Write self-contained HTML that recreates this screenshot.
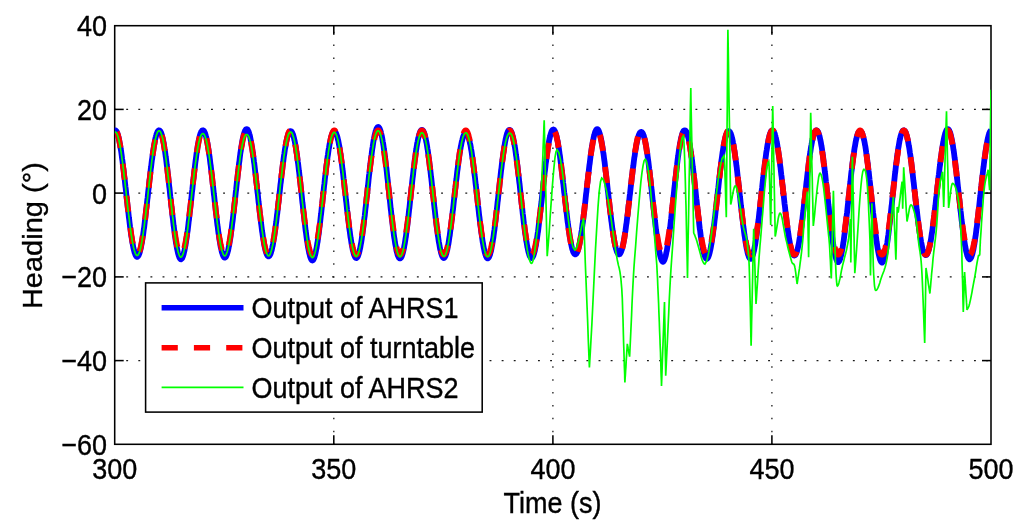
<!DOCTYPE html>
<html lang="en"><head><meta charset="utf-8"><title>Heading vs Time</title>
<style>
html,body{margin:0;padding:0;background:#fff;}
body{width:1024px;height:529px;overflow:hidden;}
svg{display:block;}
text{font-family:"Liberation Sans",sans-serif;font-size:27px;fill:#000;stroke:#000;stroke-width:0.35px;}
</style></head><body>
<svg width="1024" height="529" viewBox="0 0 1024 529">
<rect x="0" y="0" width="1024" height="529" fill="#fff"/>
<defs><clipPath id="ax"><rect x="114.7" y="25.7" width="876.3" height="418.6"/></clipPath></defs>
<g stroke="#1a1a1a" stroke-width="1.3" fill="none"><line x1="333.8" y1="444.3" x2="333.8" y2="25.7" stroke-dasharray="1.5 11.37" stroke-dashoffset="0.75"/><line x1="552.9" y1="444.3" x2="552.9" y2="25.7" stroke-dasharray="1.5 11.37" stroke-dashoffset="0.75"/><line x1="771.9" y1="444.3" x2="771.9" y2="25.7" stroke-dasharray="1.5 11.37" stroke-dashoffset="0.75"/><line x1="114.7" y1="109.4" x2="991.0" y2="109.4" stroke-dasharray="1.9 10.211" stroke-dashoffset="0.6"/><line x1="114.7" y1="193.1" x2="991.0" y2="193.1" stroke-dasharray="1.9 10.211" stroke-dashoffset="0.6"/><line x1="114.7" y1="276.9" x2="991.0" y2="276.9" stroke-dasharray="1.9 10.211" stroke-dashoffset="0.6"/><line x1="114.7" y1="360.6" x2="991.0" y2="360.6" stroke-dasharray="1.9 10.211" stroke-dashoffset="0.6"/></g>
<rect x="114.7" y="25.7" width="876.3" height="418.6" fill="none" stroke="#000" stroke-width="1.55"/>
<g stroke="#000" stroke-width="1.55"><line x1="333.8" y1="444.3" x2="333.8" y2="435.3"/><line x1="333.8" y1="25.7" x2="333.8" y2="34.7"/><line x1="552.9" y1="444.3" x2="552.9" y2="435.3"/><line x1="552.9" y1="25.7" x2="552.9" y2="34.7"/><line x1="771.9" y1="444.3" x2="771.9" y2="435.3"/><line x1="771.9" y1="25.7" x2="771.9" y2="34.7"/><line x1="114.7" y1="109.4" x2="123.7" y2="109.4"/><line x1="991.0" y1="109.4" x2="982.0" y2="109.4"/><line x1="114.7" y1="193.1" x2="123.7" y2="193.1"/><line x1="991.0" y1="193.1" x2="982.0" y2="193.1"/><line x1="114.7" y1="276.9" x2="123.7" y2="276.9"/><line x1="991.0" y1="276.9" x2="982.0" y2="276.9"/><line x1="114.7" y1="360.6" x2="123.7" y2="360.6"/><line x1="991.0" y1="360.6" x2="982.0" y2="360.6"/></g>
<g clip-path="url(#ax)" fill="none" stroke-linejoin="round">
<path d="M114.7 130.5L114.9 130.4L115.1 130.4L115.4 130.4L115.6 130.4L115.8 130.5L116.0 130.7L116.2 131.0L116.5 131.3L116.7 131.6L116.9 132.1L117.1 132.6L117.3 133.1L117.5 133.7L117.8 134.4L118.0 135.1L118.2 135.9L118.4 136.7L118.6 137.6L118.9 138.6L119.1 139.6L119.3 140.6L119.5 141.7L119.7 142.9L120.0 144.1L120.2 145.4L120.4 146.7L120.6 148.0L120.8 149.4L121.1 150.9L121.3 152.4L121.5 153.9L121.7 155.4L121.9 157.1L122.1 158.7L122.4 160.4L122.6 162.1L122.8 163.8L123.0 165.6L123.2 167.4L123.5 169.2L123.7 171.0L123.9 172.9L124.1 174.8L124.3 176.7L124.6 178.6L124.8 180.5L125.0 182.5L125.2 184.4L125.4 186.4L125.7 188.4L125.9 190.4L126.1 192.3L126.3 194.3L126.5 196.3L126.7 198.3L127.0 200.3L127.2 202.2L127.4 204.2L127.6 206.2L127.8 208.1L128.1 210.0L128.3 211.9L128.5 213.8L128.7 215.7L128.9 217.6L129.2 219.4L129.4 221.2L129.6 223.0L129.8 224.7L130.0 226.4L130.3 228.1L130.5 229.7L130.7 231.4L130.9 232.9L131.1 234.5L131.3 236.0L131.6 237.4L131.8 238.8L132.0 240.2L132.2 241.5L132.4 242.8L132.7 244.0L132.9 245.2L133.1 246.3L133.3 247.4L133.5 248.4L133.8 249.4L134.0 250.3L134.2 251.1L134.4 251.9L134.6 252.6L134.9 253.3L135.1 253.9L135.3 254.5L135.5 255.0L135.7 255.4L136.0 255.8L136.2 256.1L136.4 256.4L136.6 256.6L136.8 256.7L137.0 256.8L137.3 256.8L137.5 256.7L137.7 256.5L137.9 256.3L138.1 256.1L138.4 255.7L138.6 255.4L138.8 254.9L139.0 254.4L139.2 253.8L139.5 253.2L139.7 252.5L139.9 251.7L140.1 250.9L140.3 250.1L140.6 249.2L140.8 248.2L141.0 247.2L141.2 246.1L141.4 244.9L141.6 243.8L141.9 242.5L142.1 241.2L142.3 239.9L142.5 238.5L142.7 237.1L143.0 235.7L143.2 234.2L143.4 232.6L143.6 231.0L143.8 229.4L144.1 227.8L144.3 226.1L144.5 224.4L144.7 222.6L144.9 220.8L145.2 219.0L145.4 217.2L145.6 215.3L145.8 213.5L146.0 211.6L146.2 209.6L146.5 207.7L146.7 205.8L146.9 203.8L147.1 201.9L147.3 199.9L147.6 197.9L147.8 195.9L148.0 193.9L148.2 191.9L148.4 190.0L148.7 188.0L148.9 186.0L149.1 184.0L149.3 182.1L149.5 180.1L149.8 178.2L150.0 176.3L150.2 174.4L150.4 172.5L150.6 170.6L150.8 168.8L151.1 167.0L151.3 165.2L151.5 163.4L151.7 161.7L151.9 160.0L152.2 158.4L152.4 156.7L152.6 155.1L152.8 153.6L153.0 152.1L153.3 150.6L153.5 149.2L153.7 147.8L153.9 146.4L154.1 145.1L154.4 143.9L154.6 142.7L154.8 141.5L155.0 140.4L155.2 139.4L155.4 138.4L155.7 137.4L155.9 136.6L156.1 135.7L156.3 135.0L156.5 134.2L156.8 133.6L157.0 133.0L157.2 132.5L157.4 132.0L157.6 131.6L157.9 131.2L158.1 130.9L158.3 130.7L158.5 130.5L158.7 130.4L159.0 130.4L159.2 130.3L159.4 130.4L159.6 130.5L159.8 130.6L160.0 130.9L160.3 131.1L160.5 131.5L160.7 131.9L160.9 132.4L161.1 132.9L161.4 133.5L161.6 134.1L161.8 134.8L162.0 135.6L162.2 136.4L162.5 137.3L162.7 138.2L162.9 139.2L163.1 140.2L163.3 141.3L163.6 142.5L163.8 143.7L164.0 144.9L164.2 146.2L164.4 147.6L164.6 149.0L164.9 150.4L165.1 151.9L165.3 153.4L165.5 155.0L165.7 156.6L166.0 158.3L166.2 159.9L166.4 161.6L166.6 163.4L166.8 165.2L167.1 167.0L167.3 168.8L167.5 170.7L167.7 172.6L167.9 174.5L168.2 176.4L168.4 178.3L168.6 180.3L168.8 182.3L169.0 184.3L169.2 186.3L169.5 188.3L169.7 190.3L169.9 192.3L170.1 194.4L170.3 196.4L170.6 198.4L170.8 200.4L171.0 202.4L171.2 204.5L171.4 206.5L171.7 208.4L171.9 210.4L172.1 212.4L172.3 214.3L172.5 216.3L172.8 218.2L173.0 220.0L173.2 221.9L173.4 223.7L173.6 225.5L173.9 227.3L174.1 229.0L174.3 230.8L174.5 232.4L174.7 234.1L174.9 235.7L175.2 237.2L175.4 238.7L175.6 240.2L175.8 241.6L176.0 243.0L176.3 244.3L176.5 245.6L176.7 246.8L176.9 248.0L177.1 249.1L177.4 250.2L177.6 251.2L177.8 252.2L178.0 253.1L178.2 253.9L178.5 254.7L178.7 255.5L178.9 256.1L179.1 256.7L179.3 257.3L179.5 257.7L179.8 258.2L180.0 258.5L180.2 258.8L180.4 259.0L180.6 259.2L180.9 259.3L181.1 259.2L181.3 259.1L181.5 259.0L181.7 258.7L182.0 258.4L182.2 258.1L182.4 257.6L182.6 257.2L182.8 256.6L183.1 256.0L183.3 255.3L183.5 254.6L183.7 253.8L183.9 252.9L184.1 252.0L184.4 251.0L184.6 250.0L184.8 248.9L185.0 247.8L185.2 246.6L185.5 245.4L185.7 244.1L185.9 242.7L186.1 241.3L186.3 239.9L186.6 238.4L186.8 236.9L187.0 235.3L187.2 233.7L187.4 232.1L187.7 230.4L187.9 228.7L188.1 227.0L188.3 225.2L188.5 223.4L188.7 221.5L189.0 219.7L189.2 217.8L189.4 215.9L189.6 213.9L189.8 212.0L190.1 210.0L190.3 208.0L190.5 206.1L190.7 204.1L190.9 202.0L191.2 200.0L191.4 198.0L191.6 196.0L191.8 194.0L192.0 191.9L192.3 189.9L192.5 187.9L192.7 185.9L192.9 183.9L193.1 181.9L193.3 179.9L193.6 178.0L193.8 176.0L194.0 174.1L194.2 172.2L194.4 170.3L194.7 168.4L194.9 166.6L195.1 164.8L195.3 163.0L195.5 161.3L195.8 159.6L196.0 157.9L196.2 156.3L196.4 154.7L196.6 153.1L196.9 151.6L197.1 150.1L197.3 148.7L197.5 147.3L197.7 146.0L197.9 144.7L198.2 143.5L198.4 142.3L198.6 141.1L198.8 140.0L199.0 139.0L199.3 138.0L199.5 137.1L199.7 136.2L199.9 135.4L200.1 134.7L200.4 134.0L200.6 133.3L200.8 132.8L201.0 132.3L201.2 131.8L201.5 131.4L201.7 131.1L201.9 130.8L202.1 130.6L202.3 130.4L202.5 130.4L202.8 130.3L203.0 130.4L203.2 130.4L203.4 130.5L203.6 130.7L203.9 130.9L204.1 131.2L204.3 131.6L204.5 132.0L204.7 132.5L205.0 133.0L205.2 133.6L205.4 134.3L205.6 135.0L205.8 135.8L206.1 136.6L206.3 137.5L206.5 138.5L206.7 139.5L206.9 140.5L207.1 141.6L207.4 142.8L207.6 144.0L207.8 145.2L208.0 146.5L208.2 147.9L208.5 149.3L208.7 150.7L208.9 152.2L209.1 153.7L209.3 155.3L209.6 156.9L209.8 158.5L210.0 160.2L210.2 161.9L210.4 163.7L210.7 165.4L210.9 167.2L211.1 169.1L211.3 170.9L211.5 172.8L211.8 174.7L212.0 176.6L212.2 178.5L212.4 180.5L212.6 182.4L212.8 184.4L213.1 186.4L213.3 188.4L213.5 190.3L213.7 192.3L213.9 194.3L214.2 196.3L214.4 198.3L214.6 200.3L214.8 202.3L215.0 204.3L215.3 206.3L215.5 208.2L215.7 210.2L215.9 212.1L216.1 214.0L216.4 215.9L216.6 217.8L216.8 219.6L217.0 221.4L217.2 223.2L217.4 225.0L217.7 226.7L217.9 228.4L218.1 230.1L218.3 231.7L218.5 233.3L218.8 234.9L219.0 236.4L219.2 237.8L219.4 239.3L219.6 240.7L219.9 242.0L220.1 243.3L220.3 244.5L220.5 245.7L220.7 246.9L221.0 248.0L221.2 249.0L221.4 250.0L221.6 250.9L221.8 251.8L222.0 252.6L222.3 253.3L222.5 254.0L222.7 254.7L222.9 255.2L223.1 255.7L223.4 256.2L223.6 256.6L223.8 256.9L224.0 257.2L224.2 257.4L224.5 257.5L224.7 257.6L224.9 257.6L225.1 257.5L225.3 257.4L225.6 257.2L225.8 256.9L226.0 256.6L226.2 256.2L226.4 255.7L226.6 255.2L226.9 254.7L227.1 254.0L227.3 253.3L227.5 252.6L227.7 251.8L228.0 250.9L228.2 250.0L228.4 249.0L228.6 247.9L228.8 246.8L229.1 245.7L229.3 244.5L229.5 243.3L229.7 242.0L229.9 240.6L230.2 239.2L230.4 237.8L230.6 236.3L230.8 234.8L231.0 233.2L231.2 231.6L231.5 230.0L231.7 228.3L231.9 226.6L232.1 224.8L232.3 223.1L232.6 221.3L232.8 219.4L233.0 217.6L233.2 215.7L233.4 213.8L233.7 211.9L233.9 209.9L234.1 208.0L234.3 206.0L234.5 204.0L234.8 202.0L235.0 200.0L235.2 198.0L235.4 196.0L235.6 193.9L235.8 191.9L236.1 189.9L236.3 187.9L236.5 185.9L236.7 183.9L236.9 181.9L237.2 179.9L237.4 178.0L237.6 176.0L237.8 174.1L238.0 172.2L238.3 170.3L238.5 168.4L238.7 166.5L238.9 164.7L239.1 162.9L239.4 161.2L239.6 159.4L239.8 157.7L240.0 156.1L240.2 154.5L240.4 152.9L240.7 151.3L240.9 149.8L241.1 148.4L241.3 146.9L241.5 145.6L241.8 144.2L242.0 143.0L242.2 141.7L242.4 140.6L242.6 139.4L242.9 138.4L243.1 137.3L243.3 136.4L243.5 135.5L243.7 134.6L244.0 133.8L244.2 133.1L244.4 132.4L244.6 131.8L244.8 131.3L245.0 130.8L245.3 130.4L245.5 130.0L245.7 129.7L245.9 129.4L246.1 129.3L246.4 129.2L246.6 129.1L246.8 129.1L247.0 129.2L247.2 129.3L247.5 129.5L247.7 129.8L247.9 130.1L248.1 130.5L248.3 131.0L248.6 131.5L248.8 132.1L249.0 132.7L249.2 133.4L249.4 134.1L249.7 135.0L249.9 135.8L250.1 136.7L250.3 137.7L250.5 138.8L250.7 139.9L251.0 141.0L251.2 142.2L251.4 143.4L251.6 144.7L251.8 146.1L252.1 147.4L252.3 148.9L252.5 150.3L252.7 151.8L252.9 153.4L253.2 155.0L253.4 156.6L253.6 158.3L253.8 160.0L254.0 161.7L254.3 163.5L254.5 165.3L254.7 167.1L254.9 168.9L255.1 170.8L255.3 172.7L255.6 174.6L255.8 176.5L256.0 178.5L256.2 180.4L256.4 182.4L256.7 184.4L256.9 186.4L257.1 188.3L257.3 190.3L257.5 192.3L257.8 194.3L258.0 196.3L258.2 198.3L258.4 200.3L258.6 202.3L258.9 204.3L259.1 206.2L259.3 208.2L259.5 210.1L259.7 212.0L259.9 213.9L260.2 215.8L260.4 217.6L260.6 219.5L260.8 221.3L261.0 223.0L261.3 224.8L261.5 226.5L261.7 228.2L261.9 229.8L262.1 231.4L262.4 233.0L262.6 234.5L262.8 236.0L263.0 237.4L263.2 238.8L263.5 240.2L263.7 241.5L263.9 242.7L264.1 243.9L264.3 245.1L264.5 246.2L264.8 247.3L265.0 248.3L265.2 249.2L265.4 250.1L265.6 250.9L265.9 251.7L266.1 252.4L266.3 253.1L266.5 253.7L266.7 254.2L267.0 254.7L267.2 255.1L267.4 255.5L267.6 255.8L267.8 256.0L268.1 256.2L268.3 256.3L268.5 256.3L268.7 256.3L268.9 256.2L269.1 256.1L269.4 255.9L269.6 255.6L269.8 255.3L270.0 254.9L270.2 254.5L270.5 254.0L270.7 253.4L270.9 252.8L271.1 252.1L271.3 251.3L271.6 250.5L271.8 249.7L272.0 248.7L272.2 247.8L272.4 246.7L272.7 245.7L272.9 244.5L273.1 243.4L273.3 242.1L273.5 240.9L273.7 239.5L274.0 238.2L274.2 236.8L274.4 235.3L274.6 233.8L274.8 232.3L275.1 230.7L275.3 229.1L275.5 227.5L275.7 225.8L275.9 224.1L276.2 222.3L276.4 220.6L276.6 218.8L276.8 217.0L277.0 215.1L277.3 213.3L277.5 211.4L277.7 209.5L277.9 207.6L278.1 205.7L278.3 203.7L278.6 201.8L278.8 199.8L279.0 197.9L279.2 195.9L279.4 193.9L279.7 192.0L279.9 190.0L280.1 188.0L280.3 186.1L280.5 184.1L280.8 182.2L281.0 180.3L281.2 178.4L281.4 176.5L281.6 174.6L281.9 172.7L282.1 170.9L282.3 169.1L282.5 167.3L282.7 165.5L282.9 163.8L283.2 162.1L283.4 160.4L283.6 158.7L283.8 157.1L284.0 155.6L284.3 154.0L284.5 152.5L284.7 151.1L284.9 149.7L285.1 148.3L285.4 147.0L285.6 145.7L285.8 144.5L286.0 143.3L286.2 142.1L286.5 141.1L286.7 140.0L286.9 139.1L287.1 138.1L287.3 137.3L287.6 136.4L287.8 135.7L288.0 135.0L288.2 134.3L288.4 133.8L288.6 133.2L288.9 132.8L289.1 132.4L289.3 132.0L289.5 131.7L289.7 131.5L290.0 131.3L290.2 131.2L290.4 131.2L290.6 131.2L290.8 131.2L291.1 131.3L291.3 131.4L291.5 131.6L291.7 131.8L291.9 132.2L292.2 132.5L292.4 133.0L292.6 133.5L292.8 134.0L293.0 134.7L293.2 135.3L293.5 136.1L293.7 136.9L293.9 137.7L294.1 138.6L294.3 139.6L294.6 140.6L294.8 141.7L295.0 142.8L295.2 144.0L295.4 145.2L295.7 146.5L295.9 147.8L296.1 149.2L296.3 150.6L296.5 152.1L296.8 153.6L297.0 155.1L297.2 156.7L297.4 158.3L297.6 160.0L297.8 161.7L298.1 163.4L298.3 165.2L298.5 167.0L298.7 168.8L298.9 170.7L299.2 172.6L299.4 174.5L299.6 176.4L299.8 178.3L300.0 180.3L300.3 182.3L300.5 184.3L300.7 186.3L300.9 188.3L301.1 190.3L301.4 192.3L301.6 194.4L301.8 196.4L302.0 198.4L302.2 200.5L302.4 202.5L302.7 204.5L302.9 206.5L303.1 208.5L303.3 210.5L303.5 212.5L303.8 214.5L304.0 216.4L304.2 218.3L304.4 220.2L304.6 222.1L304.9 224.0L305.1 225.8L305.3 227.6L305.5 229.4L305.7 231.1L306.0 232.8L306.2 234.5L306.4 236.1L306.6 237.7L306.8 239.2L307.0 240.7L307.3 242.2L307.5 243.6L307.7 245.0L307.9 246.3L308.1 247.5L308.4 248.7L308.6 249.9L308.8 251.0L309.0 252.1L309.2 253.1L309.5 254.0L309.7 254.9L309.9 255.7L310.1 256.4L310.3 257.1L310.6 257.8L310.8 258.3L311.0 258.8L311.2 259.3L311.4 259.7L311.6 260.0L311.9 260.2L312.1 260.4L312.3 260.5L312.5 260.5L312.7 260.4L313.0 260.2L313.2 259.9L313.4 259.6L313.6 259.2L313.8 258.7L314.1 258.2L314.3 257.6L314.5 257.0L314.7 256.2L314.9 255.5L315.2 254.6L315.4 253.8L315.6 252.8L315.8 251.8L316.0 250.7L316.2 249.6L316.5 248.4L316.7 247.2L316.9 245.9L317.1 244.6L317.3 243.2L317.6 241.8L317.8 240.4L318.0 238.8L318.2 237.3L318.4 235.7L318.7 234.1L318.9 232.4L319.1 230.7L319.3 229.0L319.5 227.2L319.8 225.4L320.0 223.5L320.2 221.7L320.4 219.8L320.6 217.9L320.8 216.0L321.1 214.0L321.3 212.1L321.5 210.1L321.7 208.1L321.9 206.1L322.2 204.1L322.4 202.1L322.6 200.0L322.8 198.0L323.0 196.0L323.3 194.0L323.5 191.9L323.7 189.9L323.9 187.9L324.1 185.9L324.4 183.9L324.6 181.9L324.8 179.9L325.0 178.0L325.2 176.1L325.5 174.2L325.7 172.3L325.9 170.4L326.1 168.6L326.3 166.8L326.5 165.0L326.8 163.2L327.0 161.5L327.2 159.8L327.4 158.2L327.6 156.6L327.9 155.0L328.1 153.5L328.3 152.0L328.5 150.5L328.7 149.1L329.0 147.8L329.2 146.5L329.4 145.2L329.6 144.0L329.8 142.9L330.1 141.8L330.3 140.7L330.5 139.7L330.7 138.8L330.9 137.9L331.1 137.0L331.4 136.3L331.6 135.5L331.8 134.9L332.0 134.3L332.2 133.7L332.5 133.3L332.7 132.8L332.9 132.5L333.1 132.2L333.3 131.9L333.6 131.8L333.8 131.6L334.0 131.6L334.2 131.6L334.4 131.6L334.7 131.6L334.9 131.7L335.1 131.9L335.3 132.1L335.5 132.4L335.7 132.7L336.0 133.1L336.2 133.6L336.4 134.1L336.6 134.7L336.8 135.3L337.1 136.0L337.3 136.7L337.5 137.5L337.7 138.4L337.9 139.3L338.2 140.3L338.4 141.3L338.6 142.4L338.8 143.5L339.0 144.7L339.3 145.9L339.5 147.2L339.7 148.5L339.9 149.9L340.1 151.3L340.3 152.7L340.6 154.2L340.8 155.8L341.0 157.3L341.2 158.9L341.4 160.6L341.7 162.3L341.9 164.0L342.1 165.7L342.3 167.5L342.5 169.3L342.8 171.1L343.0 173.0L343.2 174.8L343.4 176.7L343.6 178.6L343.9 180.6L344.1 182.5L344.3 184.5L344.5 186.4L344.7 188.4L344.9 190.4L345.2 192.3L345.4 194.3L345.6 196.3L345.8 198.3L346.0 200.3L346.3 202.3L346.5 204.2L346.7 206.2L346.9 208.1L347.1 210.1L347.4 212.0L347.6 213.9L347.8 215.8L348.0 217.7L348.2 219.5L348.5 221.3L348.7 223.1L348.9 224.9L349.1 226.6L349.3 228.4L349.5 230.0L349.8 231.7L350.0 233.3L350.2 234.8L350.4 236.4L350.6 237.8L350.9 239.3L351.1 240.7L351.3 242.0L351.5 243.3L351.7 244.6L352.0 245.8L352.2 247.0L352.4 248.1L352.6 249.1L352.8 250.1L353.1 251.1L353.3 251.9L353.5 252.8L353.7 253.5L353.9 254.3L354.1 254.9L354.4 255.5L354.6 256.0L354.8 256.5L355.0 256.9L355.2 257.3L355.5 257.5L355.7 257.8L355.9 257.9L356.1 258.0L356.3 258.0L356.6 258.0L356.8 257.8L357.0 257.7L357.2 257.4L357.4 257.1L357.7 256.7L357.9 256.3L358.1 255.8L358.3 255.2L358.5 254.6L358.7 253.9L359.0 253.2L359.2 252.3L359.4 251.5L359.6 250.6L359.8 249.6L360.1 248.5L360.3 247.5L360.5 246.3L360.7 245.1L360.9 243.9L361.2 242.6L361.4 241.2L361.6 239.8L361.8 238.4L362.0 236.9L362.3 235.3L362.5 233.8L362.7 232.2L362.9 230.5L363.1 228.8L363.4 227.1L363.6 225.3L363.8 223.5L364.0 221.7L364.2 219.8L364.4 218.0L364.7 216.1L364.9 214.1L365.1 212.2L365.3 210.2L365.5 208.2L365.8 206.2L366.0 204.2L366.2 202.2L366.4 200.1L366.6 198.1L366.9 196.0L367.1 194.0L367.3 191.9L367.5 189.8L367.7 187.8L368.0 185.7L368.2 183.7L368.4 181.7L368.6 179.6L368.8 177.6L369.0 175.6L369.3 173.6L369.5 171.7L369.7 169.7L369.9 167.8L370.1 165.9L370.4 164.1L370.6 162.2L370.8 160.4L371.0 158.6L371.2 156.9L371.5 155.2L371.7 153.5L371.9 151.8L372.1 150.3L372.3 148.7L372.6 147.2L372.8 145.7L373.0 144.3L373.2 142.9L373.4 141.6L373.6 140.3L373.9 139.1L374.1 137.9L374.3 136.8L374.5 135.8L374.7 134.8L375.0 133.8L375.2 132.9L375.4 132.1L375.6 131.3L375.8 130.6L376.1 130.0L376.3 129.4L376.5 128.9L376.7 128.4L376.9 128.0L377.2 127.7L377.4 127.4L377.6 127.2L377.8 127.1L378.0 127.0L378.2 127.0L378.5 127.1L378.7 127.2L378.9 127.5L379.1 127.7L379.3 128.1L379.6 128.5L379.8 128.9L380.0 129.5L380.2 130.1L380.4 130.7L380.7 131.4L380.9 132.2L381.1 133.1L381.3 133.9L381.5 134.9L381.8 135.9L382.0 137.0L382.2 138.1L382.4 139.3L382.6 140.5L382.8 141.8L383.1 143.1L383.3 144.5L383.5 145.9L383.7 147.4L383.9 148.9L384.2 150.5L384.4 152.1L384.6 153.7L384.8 155.4L385.0 157.1L385.3 158.9L385.5 160.7L385.7 162.5L385.9 164.4L386.1 166.2L386.4 168.1L386.6 170.1L386.8 172.0L387.0 174.0L387.2 176.0L387.4 178.0L387.7 180.0L387.9 182.0L388.1 184.1L388.3 186.1L388.5 188.2L388.8 190.2L389.0 192.3L389.2 194.4L389.4 196.4L389.6 198.5L389.9 200.6L390.1 202.6L390.3 204.6L390.5 206.7L390.7 208.7L391.0 210.7L391.2 212.6L391.4 214.6L391.6 216.5L391.8 218.4L392.0 220.3L392.3 222.2L392.5 224.0L392.7 225.8L392.9 227.6L393.1 229.3L393.4 231.0L393.6 232.7L393.8 234.3L394.0 235.9L394.2 237.4L394.5 238.9L394.7 240.3L394.9 241.7L395.1 243.1L395.3 244.4L395.6 245.6L395.8 246.8L396.0 248.0L396.2 249.1L396.4 250.1L396.6 251.1L396.9 252.0L397.1 252.8L397.3 253.6L397.5 254.4L397.7 255.1L398.0 255.7L398.2 256.2L398.4 256.7L398.6 257.2L398.8 257.5L399.1 257.9L399.3 258.1L399.5 258.3L399.7 258.4L399.9 258.4L400.2 258.4L400.4 258.3L400.6 258.2L400.8 257.9L401.0 257.7L401.3 257.3L401.5 256.9L401.7 256.4L401.9 255.9L402.1 255.3L402.3 254.6L402.6 253.9L402.8 253.1L403.0 252.3L403.2 251.4L403.4 250.5L403.7 249.5L403.9 248.4L404.1 247.3L404.3 246.1L404.5 244.9L404.8 243.6L405.0 242.3L405.2 240.9L405.4 239.5L405.6 238.1L405.9 236.6L406.1 235.0L406.3 233.4L406.5 231.8L406.7 230.2L406.9 228.5L407.2 226.7L407.4 225.0L407.6 223.2L407.8 221.4L408.0 219.5L408.3 217.6L408.5 215.7L408.7 213.8L408.9 211.9L409.1 209.9L409.4 208.0L409.6 206.0L409.8 204.0L410.0 202.0L410.2 200.0L410.5 198.0L410.7 196.0L410.9 193.9L411.1 191.9L411.3 189.9L411.5 187.9L411.8 185.9L412.0 183.9L412.2 181.9L412.4 179.9L412.6 178.0L412.9 176.0L413.1 174.1L413.3 172.2L413.5 170.3L413.7 168.5L414.0 166.6L414.2 164.8L414.4 163.0L414.6 161.3L414.8 159.6L415.1 157.9L415.3 156.3L415.5 154.7L415.7 153.1L415.9 151.6L416.1 150.1L416.4 148.6L416.6 147.2L416.8 145.9L417.0 144.6L417.2 143.3L417.5 142.1L417.7 141.0L417.9 139.9L418.1 138.8L418.3 137.8L418.6 136.9L418.8 136.0L419.0 135.2L419.2 134.4L419.4 133.7L419.7 133.1L419.9 132.5L420.1 131.9L420.3 131.5L420.5 131.1L420.7 130.7L421.0 130.4L421.2 130.2L421.4 130.1L421.6 130.0L421.8 129.9L422.1 129.9L422.3 130.0L422.5 130.1L422.7 130.3L422.9 130.5L423.2 130.8L423.4 131.2L423.6 131.6L423.8 132.1L424.0 132.6L424.3 133.2L424.5 133.9L424.7 134.6L424.9 135.4L425.1 136.2L425.3 137.1L425.6 138.1L425.8 139.1L426.0 140.2L426.2 141.3L426.4 142.4L426.7 143.7L426.9 144.9L427.1 146.2L427.3 147.6L427.5 149.0L427.8 150.4L428.0 151.9L428.2 153.5L428.4 155.1L428.6 156.7L428.9 158.3L429.1 160.0L429.3 161.7L429.5 163.5L429.7 165.2L429.9 167.1L430.2 168.9L430.4 170.8L430.6 172.6L430.8 174.5L431.0 176.5L431.3 178.4L431.5 180.4L431.7 182.3L431.9 184.3L432.1 186.3L432.4 188.3L432.6 190.3L432.8 192.3L433.0 194.3L433.2 196.4L433.5 198.4L433.7 200.4L433.9 202.4L434.1 204.4L434.3 206.3L434.5 208.3L434.8 210.3L435.0 212.2L435.2 214.1L435.4 216.0L435.6 217.9L435.9 219.8L436.1 221.6L436.3 223.4L436.5 225.2L436.7 226.9L437.0 228.6L437.2 230.3L437.4 232.0L437.6 233.6L437.8 235.1L438.1 236.7L438.3 238.1L438.5 239.6L438.7 241.0L438.9 242.3L439.2 243.6L439.4 244.9L439.6 246.1L439.8 247.2L440.0 248.3L440.2 249.4L440.5 250.3L440.7 251.3L440.9 252.2L441.1 253.0L441.3 253.7L441.6 254.4L441.8 255.1L442.0 255.6L442.2 256.2L442.4 256.6L442.7 257.0L442.9 257.3L443.1 257.6L443.3 257.8L443.5 257.9L443.8 258.0L444.0 258.0L444.2 257.9L444.4 257.7L444.6 257.4L444.8 257.1L445.1 256.7L445.3 256.3L445.5 255.8L445.7 255.3L445.9 254.6L446.2 254.0L446.4 253.2L446.6 252.4L446.8 251.6L447.0 250.7L447.3 249.7L447.5 248.7L447.7 247.6L447.9 246.5L448.1 245.3L448.4 244.1L448.6 242.8L448.8 241.5L449.0 240.1L449.2 238.7L449.4 237.3L449.7 235.8L449.9 234.2L450.1 232.7L450.3 231.0L450.5 229.4L450.8 227.7L451.0 226.0L451.2 224.3L451.4 222.5L451.6 220.7L451.9 218.9L452.1 217.1L452.3 215.2L452.5 213.3L452.7 211.4L453.0 209.5L453.2 207.6L453.4 205.7L453.6 203.7L453.8 201.8L454.0 199.8L454.3 197.8L454.5 195.9L454.7 193.9L454.9 192.0L455.1 190.0L455.4 188.1L455.6 186.1L455.8 184.2L456.0 182.3L456.2 180.4L456.5 178.5L456.7 176.6L456.9 174.8L457.1 172.9L457.3 171.1L457.6 169.3L457.8 167.6L458.0 165.8L458.2 164.2L458.4 162.5L458.6 160.8L458.9 159.2L459.1 157.7L459.3 156.2L459.5 154.7L459.7 153.2L460.0 151.8L460.2 150.5L460.4 149.1L460.6 147.9L460.8 146.6L461.1 145.5L461.3 144.3L461.5 143.3L461.7 142.2L461.9 141.3L462.2 140.3L462.4 139.5L462.6 138.7L462.8 137.9L463.0 137.2L463.2 136.5L463.5 136.0L463.7 135.4L463.9 134.9L464.1 134.5L464.3 134.2L464.6 133.9L464.8 133.6L465.0 133.5L465.2 133.3L465.4 133.3L465.7 133.3L465.9 133.3L466.1 133.3L466.3 133.3L466.5 133.5L466.8 133.7L467.0 133.9L467.2 134.2L467.4 134.6L467.6 135.0L467.8 135.5L468.1 136.0L468.3 136.6L468.5 137.3L468.7 138.0L468.9 138.8L469.2 139.6L469.4 140.5L469.6 141.4L469.8 142.4L470.0 143.4L470.3 144.5L470.5 145.6L470.7 146.8L470.9 148.0L471.1 149.3L471.4 150.7L471.6 152.0L471.8 153.4L472.0 154.9L472.2 156.4L472.4 157.9L472.7 159.5L472.9 161.1L473.1 162.7L473.3 164.4L473.5 166.1L473.8 167.9L474.0 169.6L474.2 171.4L474.4 173.2L474.6 175.1L474.9 176.9L475.1 178.8L475.3 180.7L475.5 182.6L475.7 184.5L476.0 186.5L476.2 188.4L476.4 190.4L476.6 192.4L476.8 194.3L477.1 196.3L477.3 198.3L477.5 200.2L477.7 202.2L477.9 204.1L478.1 206.1L478.4 208.0L478.6 210.0L478.8 211.9L479.0 213.8L479.2 215.7L479.5 217.5L479.7 219.4L479.9 221.2L480.1 223.0L480.3 224.8L480.6 226.5L480.8 228.2L481.0 229.9L481.2 231.5L481.4 233.2L481.7 234.7L481.9 236.3L482.1 237.8L482.3 239.2L482.5 240.6L482.7 242.0L483.0 243.3L483.2 244.6L483.4 245.8L483.6 247.0L483.8 248.1L484.1 249.2L484.3 250.2L484.5 251.2L484.7 252.1L484.9 252.9L485.2 253.7L485.4 254.5L485.6 255.1L485.8 255.7L486.0 256.3L486.3 256.8L486.5 257.2L486.7 257.6L486.9 257.9L487.1 258.1L487.3 258.3L487.6 258.4L487.8 258.4L488.0 258.3L488.2 258.2L488.4 257.9L488.7 257.7L488.9 257.3L489.1 256.9L489.3 256.4L489.5 255.9L489.8 255.3L490.0 254.6L490.2 253.9L490.4 253.1L490.6 252.3L490.9 251.4L491.1 250.5L491.3 249.5L491.5 248.4L491.7 247.3L491.9 246.1L492.2 244.9L492.4 243.6L492.6 242.3L492.8 240.9L493.0 239.5L493.3 238.1L493.5 236.6L493.7 235.0L493.9 233.4L494.1 231.8L494.4 230.2L494.6 228.5L494.8 226.7L495.0 225.0L495.2 223.2L495.5 221.4L495.7 219.5L495.9 217.6L496.1 215.7L496.3 213.8L496.5 211.9L496.8 209.9L497.0 208.0L497.2 206.0L497.4 204.0L497.6 202.0L497.9 200.0L498.1 198.0L498.3 196.0L498.5 193.9L498.7 191.9L499.0 189.9L499.2 187.9L499.4 185.9L499.6 183.9L499.8 181.9L500.1 179.9L500.3 178.0L500.5 176.0L500.7 174.1L500.9 172.2L501.1 170.3L501.4 168.5L501.6 166.6L501.8 164.8L502.0 163.0L502.2 161.3L502.5 159.6L502.7 157.9L502.9 156.3L503.1 154.7L503.3 153.1L503.6 151.6L503.8 150.1L504.0 148.6L504.2 147.2L504.4 145.9L504.7 144.6L504.9 143.3L505.1 142.1L505.3 141.0L505.5 139.9L505.7 138.8L506.0 137.8L506.2 136.9L506.4 136.0L506.6 135.2L506.8 134.4L507.1 133.7L507.3 133.1L507.5 132.5L507.7 131.9L507.9 131.5L508.2 131.1L508.4 130.7L508.6 130.4L508.8 130.2L509.0 130.1L509.3 130.0L509.5 129.9L509.7 129.9L509.9 130.0L510.1 130.1L510.3 130.3L510.6 130.5L510.8 130.8L511.0 131.2L511.2 131.6L511.4 132.1L511.7 132.6L511.9 133.2L512.1 133.9L512.3 134.6L512.5 135.4L512.8 136.2L513.0 137.1L513.2 138.1L513.4 139.1L513.6 140.2L513.9 141.3L514.1 142.4L514.3 143.7L514.5 144.9L514.7 146.2L515.0 147.6L515.2 149.0L515.4 150.4L515.6 151.9L515.8 153.5L516.0 155.1L516.3 156.7L516.5 158.3L516.7 160.0L516.9 161.7L517.1 163.5L517.4 165.2L517.6 167.1L517.8 168.9L518.0 170.8L518.2 172.6L518.5 174.5L518.7 176.5L518.9 178.4L519.1 180.4L519.3 182.3L519.6 184.3L519.8 186.3L520.0 188.3L520.2 190.3L520.4 192.3L520.6 194.3L520.9 196.4L521.1 198.4L521.3 200.4L521.5 202.4L521.7 204.4L522.0 206.3L522.2 208.3L522.4 210.3L522.6 212.2L522.8 214.1L523.1 216.0L523.3 217.9L523.5 219.8L523.7 221.6L523.9 223.4L524.2 225.2L524.4 226.9L524.6 228.6L524.8 230.3L525.0 232.0L525.2 233.6L525.5 235.1L525.7 236.7L525.9 238.1L526.1 239.6L526.3 241.0L526.6 242.3L526.8 243.6L527.0 244.9L527.2 246.1L527.4 247.2L527.7 248.3L527.9 249.4L528.1 250.3L528.3 251.3L528.5 252.2L528.8 253.0L529.0 253.7L529.2 254.4L529.4 255.1L529.6 255.6L529.8 256.2L530.1 256.6L530.3 257.0L530.5 257.3L530.7 257.6L530.9 257.8L531.2 257.9L531.4 258.0L531.6 258.0L531.8 257.9L532.0 257.8L532.3 257.6L532.5 257.3L532.7 257.0L532.9 256.6L533.1 256.1L533.4 255.6L533.6 255.0L533.8 254.3L534.0 253.6L534.2 252.9L534.4 252.0L534.7 251.2L534.9 250.2L535.1 249.2L535.3 248.2L535.5 247.1L535.8 245.9L536.0 244.7L536.2 243.4L536.4 242.1L536.6 240.8L536.9 239.4L537.1 237.9L537.3 236.4L537.5 234.9L537.7 233.3L538.0 231.7L538.2 230.1L538.4 228.4L538.6 226.7L538.8 224.9L539.0 223.1L539.3 221.3L539.5 219.5L539.7 217.6L539.9 215.7L540.1 213.8L540.4 211.9L540.6 209.9L540.8 208.0L541.0 206.0L541.2 204.0L541.5 202.0L541.7 200.0L541.9 198.0L542.1 196.0L542.3 193.9L542.6 191.9L542.8 189.9L543.0 187.9L543.2 185.9L543.4 183.9L543.6 181.9L543.9 179.9L544.1 178.0L544.3 176.0L544.5 174.1L544.7 172.2L545.0 170.3L545.2 168.4L545.4 166.6L545.6 164.8L545.8 163.0L546.1 161.2L546.3 159.5L546.5 157.8L546.7 156.2L546.9 154.6L547.2 153.0L547.4 151.4L547.6 149.9L547.8 148.5L548.0 147.1L548.2 145.7L548.5 144.4L548.7 143.1L548.9 141.9L549.1 140.8L549.3 139.7L549.6 138.6L549.8 137.6L550.0 136.6L550.2 135.8L550.4 134.9L550.7 134.1L550.9 133.4L551.1 132.8L551.3 132.2L551.5 131.6L551.8 131.1L552.0 130.7L552.2 130.4L552.4 130.1L552.6 129.8L552.9 129.7L553.1 129.6L553.3 129.5L553.5 129.5L553.7 129.6L553.9 129.8L554.2 130.0L554.4 130.3L554.6 130.6L554.8 131.0L555.0 131.5L555.3 132.0L555.5 132.6L555.7 133.3L555.9 134.0L556.1 134.7L556.4 135.5L556.6 136.4L556.8 137.3L557.0 138.3L557.2 139.4L557.5 140.5L557.7 141.6L557.9 142.8L558.1 144.0L558.3 145.3L558.5 146.7L558.8 148.0L559.0 149.5L559.2 150.9L559.4 152.4L559.6 154.0L559.9 155.5L560.1 157.2L560.3 158.8L560.5 160.5L560.7 162.2L561.0 163.9L561.2 165.7L561.4 167.5L561.6 169.3L561.8 171.2L562.1 173.0L562.3 174.9L562.5 176.8L562.7 178.7L562.9 180.7L563.1 182.6L563.4 184.5L563.6 186.5L563.8 188.4L564.0 190.4L564.2 192.4L564.5 194.3L564.7 196.3L564.9 198.2L565.1 200.2L565.3 202.1L565.6 204.0L565.8 205.9L566.0 207.8L566.2 209.7L566.4 211.6L566.7 213.4L566.9 215.3L567.1 217.1L567.3 218.8L567.5 220.6L567.7 222.3L568.0 224.0L568.2 225.7L568.4 227.3L568.6 228.9L568.8 230.4L569.1 231.9L569.3 233.4L569.5 234.9L569.7 236.3L569.9 237.6L570.2 238.9L570.4 240.2L570.6 241.4L570.8 242.5L571.0 243.7L571.3 244.7L571.5 245.7L571.7 246.7L571.9 247.6L572.1 248.4L572.3 249.2L572.6 250.0L572.8 250.6L573.0 251.3L573.2 251.8L573.4 252.3L573.7 252.8L573.9 253.2L574.1 253.5L574.3 253.8L574.5 254.0L574.8 254.1L575.0 254.2L575.2 254.3L575.4 254.3L575.6 254.2L575.9 254.1L576.1 254.0L576.3 253.8L576.5 253.5L576.7 253.1L576.9 252.7L577.2 252.3L577.4 251.8L577.6 251.2L577.8 250.6L578.0 249.9L578.3 249.1L578.5 248.3L578.7 247.5L578.9 246.6L579.1 245.6L579.4 244.6L579.6 243.5L579.8 242.4L580.0 241.2L580.2 240.0L580.5 238.7L580.7 237.4L580.9 236.1L581.1 234.7L581.3 233.2L581.5 231.7L581.8 230.2L582.0 228.6L582.2 227.0L582.4 225.4L582.6 223.7L582.9 222.0L583.1 220.3L583.3 218.6L583.5 216.8L583.7 215.0L584.0 213.1L584.2 211.3L584.4 209.4L584.6 207.5L584.8 205.6L585.1 203.7L585.3 201.7L585.5 199.8L585.7 197.8L585.9 195.9L586.1 193.9L586.4 192.0L586.6 190.0L586.8 188.0L587.0 186.1L587.2 184.1L587.5 182.2L587.7 180.2L587.9 178.3L588.1 176.4L588.3 174.5L588.6 172.6L588.8 170.7L589.0 168.9L589.2 167.0L589.4 165.2L589.7 163.5L589.9 161.7L590.1 160.0L590.3 158.3L590.5 156.7L590.7 155.0L591.0 153.5L591.2 151.9L591.4 150.4L591.6 148.9L591.8 147.5L592.1 146.1L592.3 144.8L592.5 143.5L592.7 142.3L592.9 141.1L593.2 140.0L593.4 138.9L593.6 137.8L593.8 136.8L594.0 135.9L594.3 135.0L594.5 134.2L594.7 133.5L594.9 132.8L595.1 132.1L595.4 131.5L595.6 131.0L595.8 130.6L596.0 130.2L596.2 129.8L596.4 129.6L596.7 129.3L596.9 129.2L597.1 129.1L597.3 129.1L597.5 129.2L597.8 129.4L598.0 129.6L598.2 129.9L598.4 130.2L598.6 130.7L598.9 131.1L599.1 131.7L599.3 132.3L599.5 132.9L599.7 133.6L600.0 134.4L600.2 135.2L600.4 136.1L600.6 137.0L600.8 138.0L601.0 139.1L601.3 140.2L601.5 141.3L601.7 142.5L601.9 143.8L602.1 145.1L602.4 146.4L602.6 147.8L602.8 149.2L603.0 150.7L603.2 152.2L603.5 153.8L603.7 155.4L603.9 157.0L604.1 158.7L604.3 160.3L604.6 162.1L604.8 163.8L605.0 165.6L605.2 167.4L605.4 169.2L605.6 171.1L605.9 173.0L606.1 174.8L606.3 176.8L606.5 178.7L606.7 180.6L607.0 182.5L607.2 184.5L607.4 186.5L607.6 188.4L607.8 190.4L608.1 192.4L608.3 194.3L608.5 196.3L608.7 198.2L608.9 200.2L609.2 202.1L609.4 204.1L609.6 206.0L609.8 207.9L610.0 209.8L610.2 211.6L610.5 213.5L610.7 215.3L610.9 217.1L611.1 218.9L611.3 220.7L611.6 222.4L611.8 224.1L612.0 225.7L612.2 227.4L612.4 229.0L612.7 230.5L612.9 232.0L613.1 233.5L613.3 234.9L613.5 236.3L613.8 237.7L614.0 239.0L614.2 240.2L614.4 241.4L614.6 242.6L614.8 243.7L615.1 244.8L615.3 245.8L615.5 246.7L615.7 247.6L615.9 248.5L616.2 249.3L616.4 250.0L616.6 250.7L616.8 251.3L617.0 251.9L617.3 252.4L617.5 252.8L617.7 253.2L617.9 253.5L618.1 253.8L618.4 254.0L618.6 254.2L618.8 254.2L619.0 254.3L619.2 254.2L619.4 254.2L619.7 254.1L619.9 253.9L620.1 253.6L620.3 253.3L620.5 252.9L620.8 252.5L621.0 252.0L621.2 251.5L621.4 250.9L621.6 250.2L621.9 249.5L622.1 248.8L622.3 247.9L622.5 247.1L622.7 246.1L623.0 245.1L623.2 244.1L623.4 243.0L623.6 241.9L623.8 240.7L624.0 239.5L624.3 238.2L624.5 236.9L624.7 235.5L624.9 234.1L625.1 232.7L625.4 231.2L625.6 229.7L625.8 228.1L626.0 226.5L626.2 224.9L626.5 223.3L626.7 221.6L626.9 219.9L627.1 218.1L627.3 216.4L627.6 214.6L627.8 212.8L628.0 210.9L628.2 209.1L628.4 207.2L628.6 205.3L628.9 203.5L629.1 201.6L629.3 199.7L629.5 197.7L629.7 195.8L630.0 193.9L630.2 192.0L630.4 190.1L630.6 188.2L630.8 186.2L631.1 184.3L631.3 182.4L631.5 180.6L631.7 178.7L631.9 176.8L632.2 175.0L632.4 173.2L632.6 171.4L632.8 169.6L633.0 167.8L633.3 166.1L633.5 164.4L633.7 162.7L633.9 161.0L634.1 159.4L634.3 157.8L634.6 156.3L634.8 154.8L635.0 153.3L635.2 151.9L635.4 150.5L635.7 149.1L635.9 147.8L636.1 146.5L636.3 145.3L636.5 144.2L636.8 143.0L637.0 142.0L637.2 140.9L637.4 140.0L637.6 139.0L637.9 138.2L638.1 137.4L638.3 136.6L638.5 135.9L638.7 135.3L638.9 134.7L639.2 134.1L639.4 133.7L639.6 133.3L639.8 132.9L640.0 132.6L640.3 132.4L640.5 132.2L640.7 132.1L640.9 132.0L641.1 132.0L641.4 132.0L641.6 132.0L641.8 132.1L642.0 132.3L642.2 132.6L642.5 132.8L642.7 133.2L642.9 133.6L643.1 134.1L643.3 134.6L643.5 135.2L643.8 135.9L644.0 136.6L644.2 137.4L644.4 138.2L644.6 139.1L644.9 140.0L645.1 141.0L645.3 142.0L645.5 143.1L645.7 144.3L646.0 145.5L646.2 146.8L646.4 148.1L646.6 149.4L646.8 150.8L647.1 152.2L647.3 153.7L647.5 155.3L647.7 156.8L647.9 158.4L648.1 160.1L648.4 161.8L648.6 163.5L648.8 165.3L649.0 167.0L649.2 168.9L649.5 170.7L649.7 172.6L649.9 174.5L650.1 176.4L650.3 178.3L650.6 180.3L650.8 182.3L651.0 184.2L651.2 186.3L651.4 188.3L651.7 190.3L651.9 192.3L652.1 194.4L652.3 196.4L652.5 198.4L652.7 200.5L653.0 202.5L653.2 204.6L653.4 206.6L653.6 208.6L653.8 210.6L654.1 212.6L654.3 214.6L654.5 216.6L654.7 218.5L654.9 220.5L655.2 222.4L655.4 224.2L655.6 226.1L655.8 227.9L656.0 229.7L656.3 231.5L656.5 233.2L656.7 234.9L656.9 236.5L657.1 238.2L657.3 239.7L657.6 241.3L657.8 242.8L658.0 244.2L658.2 245.6L658.4 246.9L658.7 248.2L658.9 249.5L659.1 250.7L659.3 251.8L659.5 252.9L659.8 253.9L660.0 254.9L660.2 255.8L660.4 256.6L660.6 257.4L660.9 258.1L661.1 258.8L661.3 259.4L661.5 259.9L661.7 260.4L661.9 260.8L662.2 261.1L662.4 261.4L662.6 261.6L662.8 261.8L663.0 261.7L663.3 261.6L663.5 261.4L663.7 261.1L663.9 260.8L664.1 260.4L664.4 259.9L664.6 259.4L664.8 258.8L665.0 258.2L665.2 257.4L665.5 256.6L665.7 255.8L665.9 254.9L666.1 253.9L666.3 252.9L666.5 251.8L666.8 250.7L667.0 249.5L667.2 248.2L667.4 246.9L667.6 245.6L667.9 244.2L668.1 242.8L668.3 241.3L668.5 239.7L668.7 238.1L669.0 236.5L669.2 234.9L669.4 233.1L669.6 231.4L669.8 229.6L670.1 227.8L670.3 226.0L670.5 224.1L670.7 222.2L670.9 220.3L671.2 218.4L671.4 216.4L671.6 214.4L671.8 212.4L672.0 210.4L672.2 208.4L672.5 206.3L672.7 204.3L672.9 202.2L673.1 200.2L673.3 198.1L673.6 196.0L673.8 194.0L674.0 191.9L674.2 189.8L674.4 187.8L674.7 185.7L674.9 183.7L675.1 181.7L675.3 179.7L675.5 177.7L675.8 175.7L676.0 173.8L676.2 171.9L676.4 170.0L676.6 168.1L676.8 166.2L677.1 164.4L677.3 162.6L677.5 160.9L677.7 159.2L677.9 157.5L678.2 155.8L678.4 154.2L678.6 152.7L678.8 151.2L679.0 149.7L679.3 148.3L679.5 146.9L679.7 145.5L679.9 144.3L680.1 143.0L680.4 141.9L680.6 140.7L680.8 139.6L681.0 138.6L681.2 137.7L681.4 136.8L681.7 135.9L681.9 135.1L682.1 134.4L682.3 133.7L682.5 133.1L682.8 132.5L683.0 132.0L683.2 131.6L683.4 131.2L683.6 130.9L683.9 130.7L684.1 130.5L684.3 130.4L684.5 130.3L684.7 130.3L685.0 130.3L685.2 130.4L685.4 130.5L685.6 130.6L685.8 130.9L686.0 131.2L686.3 131.5L686.5 131.9L686.7 132.4L686.9 132.9L687.1 133.5L687.4 134.2L687.6 134.9L687.8 135.6L688.0 136.5L688.2 137.3L688.5 138.3L688.7 139.3L688.9 140.3L689.1 141.4L689.3 142.6L689.6 143.8L689.8 145.0L690.0 146.3L690.2 147.7L690.4 149.1L690.6 150.5L690.9 152.0L691.1 153.5L691.3 155.1L691.5 156.7L691.7 158.3L692.0 160.0L692.2 161.7L692.4 163.5L692.6 165.2L692.8 167.0L693.1 168.9L693.3 170.7L693.5 172.6L693.7 174.5L693.9 176.4L694.2 178.4L694.4 180.3L694.6 182.3L694.8 184.3L695.0 186.3L695.2 188.3L695.5 190.3L695.7 192.3L695.9 194.4L696.1 196.4L696.3 198.4L696.6 200.4L696.8 202.4L697.0 204.4L697.2 206.4L697.4 208.4L697.7 210.4L697.9 212.3L698.1 214.2L698.3 216.2L698.5 218.1L698.8 219.9L699.0 221.8L699.2 223.6L699.4 225.4L699.6 227.2L699.8 228.9L700.1 230.6L700.3 232.2L700.5 233.9L700.7 235.5L700.9 237.0L701.2 238.5L701.4 240.0L701.6 241.4L701.8 242.7L702.0 244.1L702.3 245.3L702.5 246.6L702.7 247.7L702.9 248.8L703.1 249.9L703.4 250.9L703.6 251.9L703.8 252.8L704.0 253.6L704.2 254.4L704.4 255.1L704.7 255.8L704.9 256.3L705.1 256.9L705.3 257.4L705.5 257.8L705.8 258.1L706.0 258.4L706.2 258.6L706.4 258.8L706.6 258.8L706.9 258.8L707.1 258.7L707.3 258.5L707.5 258.3L707.7 258.0L708.0 257.6L708.2 257.2L708.4 256.7L708.6 256.2L708.8 255.5L709.1 254.9L709.3 254.1L709.5 253.3L709.7 252.5L709.9 251.6L710.1 250.6L710.4 249.6L710.6 248.5L710.8 247.4L711.0 246.2L711.2 245.0L711.5 243.7L711.7 242.3L711.9 241.0L712.1 239.5L712.3 238.1L712.6 236.5L712.8 235.0L713.0 233.4L713.2 231.8L713.4 230.1L713.7 228.4L713.9 226.7L714.1 224.9L714.3 223.1L714.5 221.3L714.7 219.4L715.0 217.6L715.2 215.7L715.4 213.8L715.6 211.8L715.8 209.9L716.1 207.9L716.3 205.9L716.5 204.0L716.7 202.0L716.9 200.0L717.2 198.0L717.4 195.9L717.6 193.9L717.8 191.9L718.0 189.9L718.3 187.9L718.5 186.0L718.7 184.0L718.9 182.0L719.1 180.0L719.3 178.1L719.6 176.2L719.8 174.3L720.0 172.4L720.2 170.5L720.4 168.7L720.7 166.9L720.9 165.1L721.1 163.4L721.3 161.6L721.5 160.0L721.8 158.3L722.0 156.7L722.2 155.1L722.4 153.6L722.6 152.1L722.9 150.6L723.1 149.2L723.3 147.9L723.5 146.5L723.7 145.3L723.9 144.0L724.2 142.9L724.4 141.7L724.6 140.7L724.8 139.7L725.0 138.7L725.3 137.8L725.5 136.9L725.7 136.1L725.9 135.4L726.1 134.7L726.4 134.1L726.6 133.5L726.8 133.0L727.0 132.6L727.2 132.2L727.5 131.9L727.7 131.6L727.9 131.4L728.1 131.3L728.3 131.2L728.5 131.2L728.8 131.2L729.0 131.2L729.2 131.3L729.4 131.4L729.6 131.7L729.9 131.9L730.1 132.3L730.3 132.7L730.5 133.1L730.7 133.6L731.0 134.2L731.2 134.8L731.4 135.5L731.6 136.3L731.8 137.1L732.1 138.0L732.3 138.9L732.5 139.9L732.7 140.9L732.9 142.0L733.1 143.1L733.4 144.3L733.6 145.5L733.8 146.8L734.0 148.1L734.2 149.5L734.5 150.9L734.7 152.4L734.9 153.9L735.1 155.4L735.3 157.0L735.6 158.6L735.8 160.3L736.0 162.0L736.2 163.7L736.4 165.5L736.7 167.3L736.9 169.1L737.1 170.9L737.3 172.8L737.5 174.7L737.7 176.6L738.0 178.5L738.2 180.4L738.4 182.4L738.6 184.4L738.8 186.3L739.1 188.3L739.3 190.3L739.5 192.3L739.7 194.3L739.9 196.4L740.2 198.4L740.4 200.4L740.6 202.4L740.8 204.3L741.0 206.3L741.3 208.3L741.5 210.3L741.7 212.2L741.9 214.1L742.1 216.0L742.3 217.9L742.6 219.8L742.8 221.6L743.0 223.5L743.2 225.3L743.4 227.0L743.7 228.7L743.9 230.4L744.1 232.1L744.3 233.7L744.5 235.3L744.8 236.9L745.0 238.4L745.2 239.8L745.4 241.2L745.6 242.6L745.9 243.9L746.1 245.2L746.3 246.4L746.5 247.6L746.7 248.7L747.0 249.8L747.2 250.8L747.4 251.8L747.6 252.7L747.8 253.5L748.0 254.3L748.3 255.0L748.5 255.7L748.7 256.3L748.9 256.8L749.1 257.3L749.4 257.7L749.6 258.1L749.8 258.4L750.0 258.6L750.2 258.7L750.5 258.8L750.7 258.8L750.9 258.7L751.1 258.6L751.3 258.3L751.6 258.0L751.8 257.7L752.0 257.3L752.2 256.8L752.4 256.2L752.6 255.6L752.9 255.0L753.1 254.2L753.3 253.4L753.5 252.6L753.7 251.7L754.0 250.7L754.2 249.7L754.4 248.6L754.6 247.5L754.8 246.3L755.1 245.1L755.3 243.8L755.5 242.5L755.7 241.1L755.9 239.7L756.2 238.2L756.4 236.7L756.6 235.1L756.8 233.5L757.0 231.9L757.2 230.2L757.5 228.5L757.7 226.8L757.9 225.0L758.1 223.2L758.3 221.4L758.6 219.6L758.8 217.7L759.0 215.8L759.2 213.9L759.4 211.9L759.7 210.0L759.9 208.0L760.1 206.0L760.3 204.0L760.5 202.0L760.8 200.0L761.0 198.0L761.2 196.0L761.4 193.9L761.6 191.9L761.8 189.9L762.1 187.9L762.3 185.9L762.5 183.9L762.7 181.9L762.9 180.0L763.2 178.0L763.4 176.1L763.6 174.1L763.8 172.2L764.0 170.4L764.3 168.5L764.5 166.7L764.7 164.9L764.9 163.1L765.1 161.4L765.4 159.7L765.6 158.0L765.8 156.4L766.0 154.8L766.2 153.2L766.4 151.7L766.7 150.2L766.9 148.8L767.1 147.4L767.3 146.1L767.5 144.8L767.8 143.5L768.0 142.3L768.2 141.2L768.4 140.1L768.6 139.1L768.9 138.1L769.1 137.2L769.3 136.3L769.5 135.5L769.7 134.7L770.0 134.0L770.2 133.4L770.4 132.8L770.6 132.3L770.8 131.8L771.0 131.4L771.3 131.1L771.5 130.8L771.7 130.6L771.9 130.5L772.1 130.4L772.4 130.3L772.6 130.4L772.8 130.4L773.0 130.6L773.2 130.8L773.5 131.0L773.7 131.3L773.9 131.7L774.1 132.2L774.3 132.7L774.6 133.2L774.8 133.8L775.0 134.5L775.2 135.3L775.4 136.0L775.6 136.9L775.9 137.8L776.1 138.8L776.3 139.8L776.5 140.8L776.7 141.9L777.0 143.1L777.2 144.3L777.4 145.6L777.6 146.9L777.8 148.3L778.1 149.7L778.3 151.1L778.5 152.6L778.7 154.1L778.9 155.7L779.2 157.3L779.4 158.9L779.6 160.6L779.8 162.3L780.0 164.0L780.2 165.8L780.5 167.5L780.7 169.4L780.9 171.2L781.1 173.0L781.3 174.9L781.6 176.8L781.8 178.7L782.0 180.6L782.2 182.6L782.4 184.5L782.7 186.5L782.9 188.4L783.1 190.4L783.3 192.4L783.5 194.3L783.8 196.3L784.0 198.2L784.2 200.2L784.4 202.1L784.6 204.1L784.9 206.0L785.1 207.9L785.3 209.8L785.5 211.7L785.7 213.6L785.9 215.4L786.2 217.2L786.4 219.0L786.6 220.8L786.8 222.6L787.0 224.3L787.3 226.0L787.5 227.6L787.7 229.2L787.9 230.8L788.1 232.4L788.4 233.9L788.6 235.3L788.8 236.8L789.0 238.1L789.2 239.5L789.5 240.8L789.7 242.0L789.9 243.2L790.1 244.3L790.3 245.4L790.5 246.5L790.8 247.5L791.0 248.4L791.2 249.3L791.4 250.1L791.6 250.9L791.9 251.6L792.1 252.3L792.3 252.8L792.5 253.4L792.7 253.9L793.0 254.3L793.2 254.6L793.4 254.9L793.6 255.2L793.8 255.3L794.1 255.5L794.3 255.5L794.5 255.5L794.7 255.4L794.9 255.3L795.1 255.1L795.4 254.9L795.6 254.6L795.8 254.2L796.0 253.8L796.2 253.3L796.5 252.7L796.7 252.1L796.9 251.5L797.1 250.7L797.3 250.0L797.6 249.1L797.8 248.2L798.0 247.3L798.2 246.3L798.4 245.2L798.7 244.1L798.9 243.0L799.1 241.8L799.3 240.5L799.5 239.2L799.7 237.9L800.0 236.5L800.2 235.0L800.4 233.6L800.6 232.1L800.8 230.5L801.1 228.9L801.3 227.3L801.5 225.6L801.7 223.9L801.9 222.2L802.2 220.5L802.4 218.7L802.6 216.9L802.8 215.1L803.0 213.2L803.3 211.3L803.5 209.5L803.7 207.6L803.9 205.6L804.1 203.7L804.3 201.8L804.6 199.8L804.8 197.9L805.0 195.9L805.2 193.9L805.4 192.0L805.7 190.0L805.9 188.0L806.1 186.1L806.3 184.1L806.5 182.2L806.8 180.3L807.0 178.3L807.2 176.4L807.4 174.5L807.6 172.7L807.9 170.8L808.1 169.0L808.3 167.2L808.5 165.4L808.7 163.7L808.9 161.9L809.2 160.2L809.4 158.6L809.6 156.9L809.8 155.4L810.0 153.8L810.3 152.3L810.5 150.8L810.7 149.4L810.9 148.0L811.1 146.6L811.4 145.3L811.6 144.1L811.8 142.9L812.0 141.7L812.2 140.6L812.5 139.6L812.7 138.6L812.9 137.6L813.1 136.7L813.3 135.9L813.5 135.1L813.8 134.4L814.0 133.7L814.2 133.1L814.4 132.6L814.6 132.1L814.9 131.6L815.1 131.3L815.3 131.0L815.5 130.7L815.7 130.5L816.0 130.4L816.2 130.4L816.4 130.3L816.6 130.3L816.8 130.4L817.1 130.5L817.3 130.7L817.5 131.0L817.7 131.3L817.9 131.7L818.1 132.1L818.4 132.6L818.6 133.2L818.8 133.8L819.0 134.5L819.2 135.2L819.5 136.0L819.7 136.9L819.9 137.8L820.1 138.8L820.3 139.8L820.6 140.9L820.8 142.0L821.0 143.2L821.2 144.4L821.4 145.7L821.7 147.1L821.9 148.5L822.1 149.9L822.3 151.4L822.5 152.9L822.8 154.5L823.0 156.1L823.2 157.7L823.4 159.4L823.6 161.2L823.8 162.9L824.1 164.7L824.3 166.5L824.5 168.4L824.7 170.3L824.9 172.2L825.2 174.1L825.4 176.1L825.6 178.1L825.8 180.1L826.0 182.1L826.3 184.1L826.5 186.1L826.7 188.2L826.9 190.2L827.1 192.3L827.4 194.4L827.6 196.5L827.8 198.5L828.0 200.6L828.2 202.7L828.4 204.7L828.7 206.8L828.9 208.8L829.1 210.9L829.3 212.9L829.5 214.9L829.8 216.9L830.0 218.9L830.2 220.8L830.4 222.7L830.6 224.6L830.9 226.5L831.1 228.3L831.3 230.2L831.5 231.9L831.7 233.7L832.0 235.4L832.2 237.0L832.4 238.7L832.6 240.2L832.8 241.8L833.0 243.3L833.3 244.7L833.5 246.1L833.7 247.5L833.9 248.8L834.1 250.0L834.4 251.2L834.6 252.3L834.8 253.4L835.0 254.4L835.2 255.4L835.5 256.3L835.7 257.2L835.9 257.9L836.1 258.7L836.3 259.3L836.6 259.9L836.8 260.4L837.0 260.9L837.2 261.3L837.4 261.6L837.6 261.9L837.9 262.1L838.1 262.2L838.3 262.2L838.5 262.0L838.7 261.8L839.0 261.5L839.2 261.2L839.4 260.8L839.6 260.3L839.8 259.7L840.1 259.1L840.3 258.4L840.5 257.7L840.7 256.9L840.9 256.0L841.2 255.1L841.4 254.1L841.6 253.1L841.8 252.0L842.0 250.9L842.2 249.6L842.5 248.4L842.7 247.1L842.9 245.7L843.1 244.3L843.3 242.8L843.6 241.3L843.8 239.8L844.0 238.2L844.2 236.6L844.4 234.9L844.7 233.2L844.9 231.4L845.1 229.7L845.3 227.8L845.5 226.0L845.8 224.1L846.0 222.2L846.2 220.3L846.4 218.4L846.6 216.4L846.8 214.4L847.1 212.4L847.3 210.4L847.5 208.4L847.7 206.3L847.9 204.3L848.2 202.2L848.4 200.1L848.6 198.1L848.8 196.0L849.0 194.0L849.3 191.9L849.5 189.9L849.7 187.8L849.9 185.8L850.1 183.8L850.4 181.7L850.6 179.8L850.8 177.8L851.0 175.8L851.2 173.9L851.4 172.0L851.7 170.1L851.9 168.2L852.1 166.4L852.3 164.6L852.5 162.8L852.8 161.1L853.0 159.4L853.2 157.7L853.4 156.1L853.6 154.5L853.9 153.0L854.1 151.5L854.3 150.0L854.5 148.6L854.7 147.3L855.0 146.0L855.2 144.7L855.4 143.5L855.6 142.3L855.8 141.2L856.0 140.2L856.3 139.2L856.5 138.2L856.7 137.3L856.9 136.5L857.1 135.7L857.4 135.0L857.6 134.4L857.8 133.8L858.0 133.2L858.2 132.8L858.5 132.3L858.7 132.0L858.9 131.7L859.1 131.5L859.3 131.3L859.6 131.2L859.8 131.1L860.0 131.2L860.2 131.2L860.4 131.1L860.7 131.2L860.9 131.3L861.1 131.5L861.3 131.7L861.5 132.0L861.7 132.4L862.0 132.8L862.2 133.3L862.4 133.8L862.6 134.4L862.8 135.1L863.1 135.8L863.3 136.6L863.5 137.4L863.7 138.3L863.9 139.3L864.2 140.3L864.4 141.4L864.6 142.5L864.8 143.6L865.0 144.9L865.3 146.1L865.5 147.5L865.7 148.8L865.9 150.2L866.1 151.7L866.3 153.2L866.6 154.8L866.8 156.4L867.0 158.0L867.2 159.7L867.4 161.4L867.7 163.1L867.9 164.9L868.1 166.7L868.3 168.5L868.5 170.4L868.8 172.3L869.0 174.2L869.2 176.2L869.4 178.1L869.6 180.1L869.9 182.1L870.1 184.1L870.3 186.2L870.5 188.2L870.7 190.3L870.9 192.3L871.2 194.4L871.4 196.4L871.6 198.5L871.8 200.6L872.0 202.7L872.3 204.7L872.5 206.8L872.7 208.8L872.9 210.9L873.1 212.9L873.4 214.9L873.6 216.9L873.8 218.8L874.0 220.8L874.2 222.7L874.5 224.6L874.7 226.5L874.9 228.4L875.1 230.2L875.3 232.0L875.5 233.7L875.8 235.4L876.0 237.1L876.2 238.7L876.4 240.3L876.6 241.9L876.9 243.4L877.1 244.8L877.3 246.2L877.5 247.6L877.7 248.9L878.0 250.2L878.2 251.4L878.4 252.5L878.6 253.6L878.8 254.7L879.1 255.6L879.3 256.6L879.5 257.4L879.7 258.2L879.9 258.9L880.1 259.6L880.4 260.2L880.6 260.8L880.8 261.2L881.0 261.6L881.2 262.0L881.5 262.2L881.7 262.5L881.9 262.6L882.1 262.6L882.3 262.4L882.6 262.2L882.8 261.9L883.0 261.6L883.2 261.2L883.4 260.7L883.7 260.2L883.9 259.6L884.1 258.9L884.3 258.1L884.5 257.3L884.7 256.5L885.0 255.6L885.2 254.6L885.4 253.5L885.6 252.4L885.8 251.3L886.1 250.1L886.3 248.8L886.5 247.5L886.7 246.1L886.9 244.7L887.2 243.2L887.4 241.7L887.6 240.2L887.8 238.5L888.0 236.9L888.3 235.2L888.5 233.5L888.7 231.7L888.9 230.0L889.1 228.1L889.3 226.3L889.6 224.4L889.8 222.5L890.0 220.5L890.2 218.6L890.4 216.6L890.7 214.6L890.9 212.6L891.1 210.5L891.3 208.5L891.5 206.4L891.8 204.4L892.0 202.3L892.2 200.2L892.4 198.1L892.6 196.1L892.9 194.0L893.1 191.9L893.3 189.8L893.5 187.8L893.7 185.7L893.9 183.7L894.2 181.6L894.4 179.6L894.6 177.6L894.8 175.6L895.0 173.7L895.3 171.8L895.5 169.8L895.7 168.0L895.9 166.1L896.1 164.3L896.4 162.5L896.6 160.7L896.8 159.0L897.0 157.3L897.2 155.7L897.5 154.1L897.7 152.5L897.9 151.0L898.1 149.5L898.3 148.1L898.6 146.7L898.8 145.4L899.0 144.1L899.2 142.9L899.4 141.7L899.6 140.6L899.9 139.5L900.1 138.5L900.3 137.5L900.5 136.6L900.7 135.8L901.0 135.0L901.2 134.3L901.4 133.6L901.6 133.0L901.8 132.5L902.1 132.0L902.3 131.6L902.5 131.2L902.7 130.9L902.9 130.7L903.2 130.5L903.4 130.4L903.6 130.3L903.8 130.3L904.0 130.4L904.2 130.4L904.5 130.6L904.7 130.8L904.9 131.0L905.1 131.4L905.3 131.7L905.6 132.2L905.8 132.7L906.0 133.3L906.2 133.9L906.4 134.6L906.7 135.3L906.9 136.1L907.1 136.9L907.3 137.9L907.5 138.8L907.8 139.8L908.0 140.9L908.2 142.0L908.4 143.2L908.6 144.4L908.8 145.7L909.1 147.0L909.3 148.3L909.5 149.7L909.7 151.2L909.9 152.7L910.2 154.2L910.4 155.7L910.6 157.3L910.8 159.0L911.0 160.6L911.3 162.3L911.5 164.1L911.7 165.8L911.9 167.6L912.1 169.4L912.4 171.2L912.6 173.1L912.8 175.0L913.0 176.9L913.2 178.8L913.4 180.7L913.7 182.6L913.9 184.5L914.1 186.5L914.3 188.4L914.5 190.4L914.8 192.4L915.0 194.3L915.2 196.3L915.4 198.2L915.6 200.2L915.9 202.1L916.1 204.0L916.3 206.0L916.5 207.9L916.7 209.8L917.0 211.6L917.2 213.5L917.4 215.3L917.6 217.1L917.8 218.9L918.0 220.7L918.3 222.4L918.5 224.1L918.7 225.8L918.9 227.5L919.1 229.1L919.4 230.6L919.6 232.2L919.8 233.7L920.0 235.1L920.2 236.5L920.5 237.9L920.7 239.2L920.9 240.5L921.1 241.8L921.3 242.9L921.6 244.1L921.8 245.2L922.0 246.2L922.2 247.2L922.4 248.1L922.6 249.0L922.9 249.8L923.1 250.5L923.3 251.3L923.5 251.9L923.7 252.5L924.0 253.0L924.2 253.5L924.4 253.9L924.6 254.2L924.8 254.5L925.1 254.8L925.3 254.9L925.5 255.0L925.7 255.1L925.9 255.1L926.2 255.0L926.4 254.9L926.6 254.8L926.8 254.5L927.0 254.3L927.2 253.9L927.5 253.5L927.7 253.0L927.9 252.5L928.1 251.9L928.3 251.3L928.6 250.5L928.8 249.8L929.0 249.0L929.2 248.1L929.4 247.2L929.7 246.2L929.9 245.1L930.1 244.0L930.3 242.9L930.5 241.7L930.8 240.5L931.0 239.2L931.2 237.9L931.4 236.5L931.6 235.1L931.8 233.6L932.1 232.1L932.3 230.6L932.5 229.0L932.7 227.4L932.9 225.7L933.2 224.0L933.4 222.3L933.6 220.5L933.8 218.8L934.0 217.0L934.3 215.1L934.5 213.3L934.7 211.4L934.9 209.5L935.1 207.6L935.4 205.7L935.6 203.8L935.8 201.8L936.0 199.8L936.2 197.9L936.5 195.9L936.7 193.9L936.9 192.0L937.1 190.0L937.3 188.0L937.5 186.0L937.8 184.1L938.0 182.1L938.2 180.1L938.4 178.2L938.6 176.3L938.9 174.4L939.1 172.5L939.3 170.6L939.5 168.7L939.7 166.9L940.0 165.1L940.2 163.3L940.4 161.6L940.6 159.9L940.8 158.2L941.1 156.5L941.3 154.9L941.5 153.3L941.7 151.8L941.9 150.3L942.1 148.8L942.4 147.4L942.6 146.0L942.8 144.7L943.0 143.4L943.2 142.1L943.5 141.0L943.7 139.8L943.9 138.7L944.1 137.7L944.3 136.7L944.6 135.8L944.8 134.9L945.0 134.1L945.2 133.4L945.4 132.7L945.7 132.1L945.9 131.5L946.1 131.0L946.3 130.5L946.5 130.1L946.7 129.8L947.0 129.5L947.2 129.3L947.4 129.2L947.6 129.1L947.8 129.1L948.1 129.1L948.3 129.3L948.5 129.4L948.7 129.7L948.9 130.0L949.2 130.3L949.4 130.8L949.6 131.2L949.8 131.8L950.0 132.4L950.3 133.1L950.5 133.8L950.7 134.6L950.9 135.4L951.1 136.3L951.3 137.3L951.6 138.3L951.8 139.4L952.0 140.5L952.2 141.7L952.4 142.9L952.7 144.2L952.9 145.5L953.1 146.9L953.3 148.3L953.5 149.8L953.8 151.3L954.0 152.9L954.2 154.5L954.4 156.1L954.6 157.8L954.9 159.5L955.1 161.2L955.3 163.0L955.5 164.8L955.7 166.7L955.9 168.5L956.2 170.4L956.4 172.3L956.6 174.3L956.8 176.2L957.0 178.2L957.3 180.2L957.5 182.2L957.7 184.2L957.9 186.2L958.1 188.2L958.4 190.3L958.6 192.3L958.8 194.4L959.0 196.4L959.2 198.5L959.5 200.5L959.7 202.5L959.9 204.6L960.1 206.6L960.3 208.6L960.5 210.6L960.8 212.5L961.0 214.5L961.2 216.4L961.4 218.3L961.6 220.2L961.9 222.1L962.1 223.9L962.3 225.7L962.5 227.5L962.7 229.3L963.0 231.0L963.2 232.6L963.4 234.3L963.6 235.9L963.8 237.4L964.1 238.9L964.3 240.4L964.5 241.8L964.7 243.2L964.9 244.5L965.1 245.8L965.4 247.0L965.6 248.2L965.8 249.3L966.0 250.4L966.2 251.4L966.5 252.4L966.7 253.2L966.9 254.1L967.1 254.9L967.3 255.6L967.6 256.2L967.8 256.8L968.0 257.3L968.2 257.8L968.4 258.2L968.7 258.6L968.9 258.8L969.1 259.0L969.3 259.2L969.5 259.3L969.7 259.2L970.0 259.1L970.2 259.0L970.4 258.7L970.6 258.4L970.8 258.1L971.1 257.6L971.3 257.2L971.5 256.6L971.7 256.0L971.9 255.3L972.2 254.6L972.4 253.8L972.6 252.9L972.8 252.0L973.0 251.0L973.3 250.0L973.5 248.9L973.7 247.8L973.9 246.6L974.1 245.4L974.4 244.1L974.6 242.7L974.8 241.3L975.0 239.9L975.2 238.4L975.4 236.9L975.7 235.3L975.9 233.7L976.1 232.1L976.3 230.4L976.5 228.7L976.8 227.0L977.0 225.2L977.2 223.4L977.4 221.5L977.6 219.7L977.9 217.8L978.1 215.9L978.3 213.9L978.5 212.0L978.7 210.0L979.0 208.0L979.2 206.1L979.4 204.1L979.6 202.0L979.8 200.0L980.0 198.0L980.3 196.0L980.5 194.0L980.7 191.9L980.9 189.9L981.1 187.9L981.4 185.9L981.6 183.9L981.8 181.9L982.0 179.9L982.2 178.0L982.5 176.0L982.7 174.1L982.9 172.2L983.1 170.3L983.3 168.4L983.6 166.6L983.8 164.8L984.0 163.0L984.2 161.3L984.4 159.6L984.6 157.9L984.9 156.3L985.1 154.7L985.3 153.1L985.5 151.6L985.7 150.1L986.0 148.7L986.2 147.3L986.4 146.0L986.6 144.7L986.8 143.5L987.1 142.3L987.3 141.1L987.5 140.0L987.7 139.0L987.9 138.0L988.2 137.1L988.4 136.2L988.6 135.4L988.8 134.7L989.0 134.0L989.2 133.3L989.5 132.8L989.7 132.3L989.9 131.8L990.1 131.4L990.3 131.1L990.6 130.8L990.8 130.6L991.0 130.4" stroke="#0000ff" stroke-width="5.8"/>
<path d="M114.7 130.5L114.9 130.4L115.1 130.4L115.4 130.4L115.6 130.4L115.8 130.6L116.0 130.8L116.2 131.1L116.5 131.4L116.7 131.8L116.9 132.2L117.1 132.7L117.3 133.3L117.5 133.9L117.8 134.6L118.0 135.4L118.2 136.1L118.4 137.0L118.6 137.9L118.9 138.9L119.1 139.9L119.3 141.0L119.5 142.1L119.7 143.3L120.0 144.5L120.2 145.7L120.4 147.1L120.6 148.4L120.8 149.8L121.1 151.3L121.3 152.7L121.5 154.3L121.7 155.8L121.9 157.4L122.1 159.0L122.4 160.7L122.6 162.4L122.8 164.1L123.0 165.9L123.2 167.7L123.5 169.5L123.7 171.3L123.9 173.1L124.1 175.0L124.3 176.9L124.6 178.8L124.8 180.7L125.0 182.6L125.2 184.6L125.4 186.5L125.7 188.5L125.9 190.4L126.1 192.4L126.3 194.3L126.5 196.3L126.7 198.2L127.0 200.2L127.2 202.1L127.4 204.0L127.6 205.9L127.8 207.8L128.1 209.7L128.3 211.6L128.5 213.4L128.7 215.2L128.9 217.0L129.2 218.8L129.4 220.6L129.6 222.3L129.8 224.0L130.0 225.7L130.3 227.3L130.5 228.9L130.7 230.5L130.9 232.0L131.1 233.5L131.3 234.9L131.6 236.3L131.8 237.7L132.0 239.0L132.2 240.3L132.4 241.5L132.7 242.7L132.9 243.8L133.1 244.9L133.3 245.9L133.5 246.9L133.8 247.8L134.0 248.6L134.2 249.5L134.4 250.2L134.6 250.9L134.9 251.5L135.1 252.1L135.3 252.6L135.5 253.1L135.7 253.5L136.0 253.9L136.2 254.1L136.4 254.4L136.6 254.5L136.8 254.6L137.0 254.7L137.3 254.7L137.5 254.6L137.7 254.5L137.9 254.3L138.1 254.1L138.4 253.8L138.6 253.4L138.8 253.0L139.0 252.5L139.2 252.0L139.5 251.4L139.7 250.8L139.9 250.1L140.1 249.3L140.3 248.5L140.6 247.6L140.8 246.7L141.0 245.7L141.2 244.7L141.4 243.6L141.6 242.4L141.9 241.3L142.1 240.0L142.3 238.7L142.5 237.4L142.7 236.0L143.0 234.6L143.2 233.2L143.4 231.7L143.6 230.2L143.8 228.6L144.1 227.0L144.3 225.3L144.5 223.7L144.7 222.0L144.9 220.2L145.2 218.5L145.4 216.7L145.6 214.9L145.8 213.0L146.0 211.2L146.2 209.3L146.5 207.4L146.7 205.5L146.9 203.6L147.1 201.7L147.3 199.8L147.6 197.8L147.8 195.9L148.0 193.9L148.2 192.0L148.4 190.0L148.7 188.1L148.9 186.1L149.1 184.2L149.3 182.2L149.5 180.3L149.8 178.4L150.0 176.5L150.2 174.6L150.4 172.8L150.6 170.9L150.8 169.1L151.1 167.3L151.3 165.5L151.5 163.8L151.7 162.1L151.9 160.4L152.2 158.7L152.4 157.1L152.6 155.5L152.8 154.0L153.0 152.4L153.3 151.0L153.5 149.5L153.7 148.1L153.9 146.8L154.1 145.5L154.4 144.2L154.6 143.0L154.8 141.9L155.0 140.7L155.2 139.7L155.4 138.7L155.7 137.7L155.9 136.8L156.1 136.0L156.3 135.2L156.5 134.5L156.8 133.8L157.0 133.2L157.2 132.6L157.4 132.1L157.6 131.7L157.9 131.3L158.1 131.0L158.3 130.8L158.5 130.6L158.7 130.4L159.0 130.4L159.2 130.4L159.4 130.4L159.6 130.6L159.8 130.8L160.0 131.1L160.3 131.4L160.5 131.8L160.7 132.2L160.9 132.7L161.1 133.3L161.4 133.9L161.6 134.6L161.8 135.4L162.0 136.1L162.2 137.0L162.5 137.9L162.7 138.9L162.9 139.9L163.1 141.0L163.3 142.1L163.6 143.3L163.8 144.5L164.0 145.7L164.2 147.1L164.4 148.4L164.6 149.8L164.9 151.3L165.1 152.7L165.3 154.3L165.5 155.8L165.7 157.4L166.0 159.0L166.2 160.7L166.4 162.4L166.6 164.1L166.8 165.9L167.1 167.7L167.3 169.5L167.5 171.3L167.7 173.1L167.9 175.0L168.2 176.9L168.4 178.8L168.6 180.7L168.8 182.6L169.0 184.6L169.2 186.5L169.5 188.5L169.7 190.4L169.9 192.4L170.1 194.3L170.3 196.3L170.6 198.2L170.8 200.2L171.0 202.1L171.2 204.0L171.4 205.9L171.7 207.8L171.9 209.7L172.1 211.6L172.3 213.4L172.5 215.2L172.8 217.0L173.0 218.8L173.2 220.6L173.4 222.3L173.6 224.0L173.9 225.7L174.1 227.3L174.3 228.9L174.5 230.5L174.7 232.0L174.9 233.5L175.2 234.9L175.4 236.3L175.6 237.7L175.8 239.0L176.0 240.3L176.3 241.5L176.5 242.7L176.7 243.8L176.9 244.9L177.1 245.9L177.4 246.9L177.6 247.8L177.8 248.6L178.0 249.5L178.2 250.2L178.5 250.9L178.7 251.5L178.9 252.1L179.1 252.6L179.3 253.1L179.5 253.5L179.8 253.9L180.0 254.1L180.2 254.4L180.4 254.5L180.6 254.6L180.9 254.7L181.1 254.7L181.3 254.6L181.5 254.5L181.7 254.3L182.0 254.1L182.2 253.8L182.4 253.4L182.6 253.0L182.8 252.5L183.1 252.0L183.3 251.4L183.5 250.8L183.7 250.1L183.9 249.3L184.1 248.5L184.4 247.6L184.6 246.7L184.8 245.7L185.0 244.7L185.2 243.6L185.5 242.4L185.7 241.3L185.9 240.0L186.1 238.7L186.3 237.4L186.6 236.0L186.8 234.6L187.0 233.2L187.2 231.7L187.4 230.2L187.7 228.6L187.9 227.0L188.1 225.3L188.3 223.7L188.5 222.0L188.7 220.2L189.0 218.5L189.2 216.7L189.4 214.9L189.6 213.0L189.8 211.2L190.1 209.3L190.3 207.4L190.5 205.5L190.7 203.6L190.9 201.7L191.2 199.8L191.4 197.8L191.6 195.9L191.8 193.9L192.0 192.0L192.3 190.0L192.5 188.1L192.7 186.1L192.9 184.2L193.1 182.2L193.3 180.3L193.6 178.4L193.8 176.5L194.0 174.6L194.2 172.8L194.4 170.9L194.7 169.1L194.9 167.3L195.1 165.5L195.3 163.8L195.5 162.1L195.8 160.4L196.0 158.7L196.2 157.1L196.4 155.5L196.6 154.0L196.9 152.4L197.1 151.0L197.3 149.5L197.5 148.1L197.7 146.8L197.9 145.5L198.2 144.2L198.4 143.0L198.6 141.9L198.8 140.7L199.0 139.7L199.3 138.7L199.5 137.7L199.7 136.8L199.9 136.0L200.1 135.2L200.4 134.5L200.6 133.8L200.8 133.2L201.0 132.6L201.2 132.1L201.5 131.7L201.7 131.3L201.9 131.0L202.1 130.8L202.3 130.6L202.5 130.4L202.8 130.4L203.0 130.4L203.2 130.4L203.4 130.6L203.6 130.8L203.9 131.1L204.1 131.4L204.3 131.8L204.5 132.2L204.7 132.7L205.0 133.3L205.2 133.9L205.4 134.6L205.6 135.4L205.8 136.1L206.1 137.0L206.3 137.9L206.5 138.9L206.7 139.9L206.9 141.0L207.1 142.1L207.4 143.3L207.6 144.5L207.8 145.7L208.0 147.1L208.2 148.4L208.5 149.8L208.7 151.3L208.9 152.7L209.1 154.3L209.3 155.8L209.6 157.4L209.8 159.0L210.0 160.7L210.2 162.4L210.4 164.1L210.7 165.9L210.9 167.7L211.1 169.5L211.3 171.3L211.5 173.1L211.8 175.0L212.0 176.9L212.2 178.8L212.4 180.7L212.6 182.6L212.8 184.6L213.1 186.5L213.3 188.5L213.5 190.4L213.7 192.4L213.9 194.3L214.2 196.3L214.4 198.2L214.6 200.2L214.8 202.1L215.0 204.0L215.3 205.9L215.5 207.8L215.7 209.7L215.9 211.6L216.1 213.4L216.4 215.2L216.6 217.0L216.8 218.8L217.0 220.6L217.2 222.3L217.4 224.0L217.7 225.7L217.9 227.3L218.1 228.9L218.3 230.5L218.5 232.0L218.8 233.5L219.0 234.9L219.2 236.3L219.4 237.7L219.6 239.0L219.9 240.3L220.1 241.5L220.3 242.7L220.5 243.8L220.7 244.9L221.0 245.9L221.2 246.9L221.4 247.8L221.6 248.6L221.8 249.5L222.0 250.2L222.3 250.9L222.5 251.5L222.7 252.1L222.9 252.6L223.1 253.1L223.4 253.5L223.6 253.9L223.8 254.1L224.0 254.4L224.2 254.5L224.5 254.6L224.7 254.7L224.9 254.7L225.1 254.6L225.3 254.5L225.6 254.3L225.8 254.1L226.0 253.8L226.2 253.4L226.4 253.0L226.6 252.5L226.9 252.0L227.1 251.4L227.3 250.8L227.5 250.1L227.7 249.3L228.0 248.5L228.2 247.6L228.4 246.7L228.6 245.7L228.8 244.7L229.1 243.6L229.3 242.4L229.5 241.3L229.7 240.0L229.9 238.7L230.2 237.4L230.4 236.0L230.6 234.6L230.8 233.2L231.0 231.7L231.2 230.2L231.5 228.6L231.7 227.0L231.9 225.3L232.1 223.7L232.3 222.0L232.6 220.2L232.8 218.5L233.0 216.7L233.2 214.9L233.4 213.0L233.7 211.2L233.9 209.3L234.1 207.4L234.3 205.5L234.5 203.6L234.8 201.7L235.0 199.8L235.2 197.8L235.4 195.9L235.6 193.9L235.8 192.0L236.1 190.0L236.3 188.1L236.5 186.1L236.7 184.2L236.9 182.2L237.2 180.3L237.4 178.4L237.6 176.5L237.8 174.6L238.0 172.8L238.3 170.9L238.5 169.1L238.7 167.3L238.9 165.5L239.1 163.8L239.4 162.1L239.6 160.4L239.8 158.7L240.0 157.1L240.2 155.5L240.4 154.0L240.7 152.4L240.9 151.0L241.1 149.5L241.3 148.1L241.5 146.8L241.8 145.5L242.0 144.2L242.2 143.0L242.4 141.9L242.6 140.7L242.9 139.7L243.1 138.7L243.3 137.7L243.5 136.8L243.7 136.0L244.0 135.2L244.2 134.5L244.4 133.8L244.6 133.2L244.8 132.6L245.0 132.1L245.3 131.7L245.5 131.3L245.7 131.0L245.9 130.8L246.1 130.6L246.4 130.4L246.6 130.4L246.8 130.4L247.0 130.4L247.2 130.6L247.5 130.8L247.7 131.1L247.9 131.4L248.1 131.8L248.3 132.2L248.6 132.7L248.8 133.3L249.0 133.9L249.2 134.6L249.4 135.4L249.7 136.1L249.9 137.0L250.1 137.9L250.3 138.9L250.5 139.9L250.7 141.0L251.0 142.1L251.2 143.3L251.4 144.5L251.6 145.7L251.8 147.1L252.1 148.4L252.3 149.8L252.5 151.3L252.7 152.7L252.9 154.3L253.2 155.8L253.4 157.4L253.6 159.0L253.8 160.7L254.0 162.4L254.3 164.1L254.5 165.9L254.7 167.7L254.9 169.5L255.1 171.3L255.3 173.1L255.6 175.0L255.8 176.9L256.0 178.8L256.2 180.7L256.4 182.6L256.7 184.6L256.9 186.5L257.1 188.5L257.3 190.4L257.5 192.4L257.8 194.3L258.0 196.3L258.2 198.2L258.4 200.2L258.6 202.1L258.9 204.0L259.1 205.9L259.3 207.8L259.5 209.7L259.7 211.6L259.9 213.4L260.2 215.2L260.4 217.0L260.6 218.8L260.8 220.6L261.0 222.3L261.3 224.0L261.5 225.7L261.7 227.3L261.9 228.9L262.1 230.5L262.4 232.0L262.6 233.5L262.8 234.9L263.0 236.3L263.2 237.7L263.5 239.0L263.7 240.3L263.9 241.5L264.1 242.7L264.3 243.8L264.5 244.9L264.8 245.9L265.0 246.9L265.2 247.8L265.4 248.6L265.6 249.5L265.9 250.2L266.1 250.9L266.3 251.5L266.5 252.1L266.7 252.6L267.0 253.1L267.2 253.5L267.4 253.9L267.6 254.1L267.8 254.4L268.1 254.5L268.3 254.6L268.5 254.7L268.7 254.7L268.9 254.6L269.1 254.5L269.4 254.3L269.6 254.1L269.8 253.8L270.0 253.4L270.2 253.0L270.5 252.5L270.7 252.0L270.9 251.4L271.1 250.8L271.3 250.1L271.6 249.3L271.8 248.5L272.0 247.6L272.2 246.7L272.4 245.7L272.7 244.7L272.9 243.6L273.1 242.4L273.3 241.3L273.5 240.0L273.7 238.7L274.0 237.4L274.2 236.0L274.4 234.6L274.6 233.2L274.8 231.7L275.1 230.2L275.3 228.6L275.5 227.0L275.7 225.3L275.9 223.7L276.2 222.0L276.4 220.2L276.6 218.5L276.8 216.7L277.0 214.9L277.3 213.0L277.5 211.2L277.7 209.3L277.9 207.4L278.1 205.5L278.3 203.6L278.6 201.7L278.8 199.8L279.0 197.8L279.2 195.9L279.4 193.9L279.7 192.0L279.9 190.0L280.1 188.1L280.3 186.1L280.5 184.2L280.8 182.2L281.0 180.3L281.2 178.4L281.4 176.5L281.6 174.6L281.9 172.8L282.1 170.9L282.3 169.1L282.5 167.3L282.7 165.5L282.9 163.8L283.2 162.1L283.4 160.4L283.6 158.7L283.8 157.1L284.0 155.5L284.3 154.0L284.5 152.4L284.7 151.0L284.9 149.5L285.1 148.1L285.4 146.8L285.6 145.5L285.8 144.2L286.0 143.0L286.2 141.9L286.5 140.7L286.7 139.7L286.9 138.7L287.1 137.7L287.3 136.8L287.6 136.0L287.8 135.2L288.0 134.5L288.2 133.8L288.4 133.2L288.6 132.6L288.9 132.1L289.1 131.7L289.3 131.3L289.5 131.0L289.7 130.8L290.0 130.6L290.2 130.4L290.4 130.4L290.6 130.4L290.8 130.4L291.1 130.6L291.3 130.8L291.5 131.1L291.7 131.4L291.9 131.8L292.2 132.2L292.4 132.7L292.6 133.3L292.8 133.9L293.0 134.6L293.2 135.4L293.5 136.1L293.7 137.0L293.9 137.9L294.1 138.9L294.3 139.9L294.6 141.0L294.8 142.1L295.0 143.3L295.2 144.5L295.4 145.7L295.7 147.1L295.9 148.4L296.1 149.8L296.3 151.3L296.5 152.7L296.8 154.3L297.0 155.8L297.2 157.4L297.4 159.0L297.6 160.7L297.8 162.4L298.1 164.1L298.3 165.9L298.5 167.7L298.7 169.5L298.9 171.3L299.2 173.1L299.4 175.0L299.6 176.9L299.8 178.8L300.0 180.7L300.3 182.6L300.5 184.6L300.7 186.5L300.9 188.5L301.1 190.4L301.4 192.4L301.6 194.3L301.8 196.3L302.0 198.2L302.2 200.2L302.4 202.1L302.7 204.0L302.9 205.9L303.1 207.8L303.3 209.7L303.5 211.6L303.8 213.4L304.0 215.2L304.2 217.0L304.4 218.8L304.6 220.6L304.9 222.3L305.1 224.0L305.3 225.7L305.5 227.3L305.7 228.9L306.0 230.5L306.2 232.0L306.4 233.5L306.6 234.9L306.8 236.3L307.0 237.7L307.3 239.0L307.5 240.3L307.7 241.5L307.9 242.7L308.1 243.8L308.4 244.9L308.6 245.9L308.8 246.9L309.0 247.8L309.2 248.6L309.5 249.5L309.7 250.2L309.9 250.9L310.1 251.5L310.3 252.1L310.6 252.6L310.8 253.1L311.0 253.5L311.2 253.9L311.4 254.1L311.6 254.4L311.9 254.5L312.1 254.6L312.3 254.7L312.5 254.7L312.7 254.6L313.0 254.5L313.2 254.3L313.4 254.1L313.6 253.8L313.8 253.4L314.1 253.0L314.3 252.5L314.5 252.0L314.7 251.4L314.9 250.8L315.2 250.1L315.4 249.3L315.6 248.5L315.8 247.6L316.0 246.7L316.2 245.7L316.5 244.7L316.7 243.6L316.9 242.4L317.1 241.3L317.3 240.0L317.6 238.7L317.8 237.4L318.0 236.0L318.2 234.6L318.4 233.2L318.7 231.7L318.9 230.2L319.1 228.6L319.3 227.0L319.5 225.3L319.8 223.7L320.0 222.0L320.2 220.2L320.4 218.5L320.6 216.7L320.8 214.9L321.1 213.0L321.3 211.2L321.5 209.3L321.7 207.4L321.9 205.5L322.2 203.6L322.4 201.7L322.6 199.8L322.8 197.8L323.0 195.9L323.3 193.9L323.5 192.0L323.7 190.0L323.9 188.1L324.1 186.1L324.4 184.2L324.6 182.2L324.8 180.3L325.0 178.4L325.2 176.5L325.5 174.6L325.7 172.8L325.9 170.9L326.1 169.1L326.3 167.3L326.5 165.5L326.8 163.8L327.0 162.1L327.2 160.4L327.4 158.7L327.6 157.1L327.9 155.5L328.1 154.0L328.3 152.4L328.5 151.0L328.7 149.5L329.0 148.1L329.2 146.8L329.4 145.5L329.6 144.2L329.8 143.0L330.1 141.9L330.3 140.7L330.5 139.7L330.7 138.7L330.9 137.7L331.1 136.8L331.4 136.0L331.6 135.2L331.8 134.5L332.0 133.8L332.2 133.2L332.5 132.6L332.7 132.1L332.9 131.7L333.1 131.3L333.3 131.0L333.6 130.8L333.8 130.6L334.0 130.4L334.2 130.4L334.4 130.4L334.7 130.4L334.9 130.6L335.1 130.8L335.3 131.1L335.5 131.4L335.7 131.8L336.0 132.2L336.2 132.7L336.4 133.3L336.6 133.9L336.8 134.6L337.1 135.4L337.3 136.1L337.5 137.0L337.7 137.9L337.9 138.9L338.2 139.9L338.4 141.0L338.6 142.1L338.8 143.3L339.0 144.5L339.3 145.7L339.5 147.1L339.7 148.4L339.9 149.8L340.1 151.3L340.3 152.7L340.6 154.3L340.8 155.8L341.0 157.4L341.2 159.0L341.4 160.7L341.7 162.4L341.9 164.1L342.1 165.9L342.3 167.7L342.5 169.5L342.8 171.3L343.0 173.1L343.2 175.0L343.4 176.9L343.6 178.8L343.9 180.7L344.1 182.6L344.3 184.6L344.5 186.5L344.7 188.5L344.9 190.4L345.2 192.4L345.4 194.3L345.6 196.3L345.8 198.2L346.0 200.2L346.3 202.1L346.5 204.0L346.7 205.9L346.9 207.8L347.1 209.7L347.4 211.6L347.6 213.4L347.8 215.2L348.0 217.0L348.2 218.8L348.5 220.6L348.7 222.3L348.9 224.0L349.1 225.7L349.3 227.3L349.5 228.9L349.8 230.5L350.0 232.0L350.2 233.5L350.4 234.9L350.6 236.3L350.9 237.7L351.1 239.0L351.3 240.3L351.5 241.5L351.7 242.7L352.0 243.8L352.2 244.9L352.4 245.9L352.6 246.9L352.8 247.8L353.1 248.6L353.3 249.5L353.5 250.2L353.7 250.9L353.9 251.5L354.1 252.1L354.4 252.6L354.6 253.1L354.8 253.5L355.0 253.9L355.2 254.1L355.5 254.4L355.7 254.5L355.9 254.6L356.1 254.7L356.3 254.7L356.6 254.6L356.8 254.5L357.0 254.3L357.2 254.1L357.4 253.8L357.7 253.4L357.9 253.0L358.1 252.5L358.3 252.0L358.5 251.4L358.7 250.8L359.0 250.1L359.2 249.3L359.4 248.5L359.6 247.6L359.8 246.7L360.1 245.7L360.3 244.7L360.5 243.6L360.7 242.4L360.9 241.3L361.2 240.0L361.4 238.7L361.6 237.4L361.8 236.0L362.0 234.6L362.3 233.2L362.5 231.7L362.7 230.2L362.9 228.6L363.1 227.0L363.4 225.3L363.6 223.7L363.8 222.0L364.0 220.2L364.2 218.5L364.4 216.7L364.7 214.9L364.9 213.0L365.1 211.2L365.3 209.3L365.5 207.4L365.8 205.5L366.0 203.6L366.2 201.7L366.4 199.8L366.6 197.8L366.9 195.9L367.1 193.9L367.3 192.0L367.5 190.0L367.7 188.1L368.0 186.1L368.2 184.2L368.4 182.2L368.6 180.3L368.8 178.4L369.0 176.5L369.3 174.6L369.5 172.8L369.7 170.9L369.9 169.1L370.1 167.3L370.4 165.5L370.6 163.8L370.8 162.1L371.0 160.4L371.2 158.7L371.5 157.1L371.7 155.5L371.9 154.0L372.1 152.4L372.3 151.0L372.6 149.5L372.8 148.1L373.0 146.8L373.2 145.5L373.4 144.2L373.6 143.0L373.9 141.9L374.1 140.7L374.3 139.7L374.5 138.7L374.7 137.7L375.0 136.8L375.2 136.0L375.4 135.2L375.6 134.5L375.8 133.8L376.1 133.2L376.3 132.6L376.5 132.1L376.7 131.7L376.9 131.3L377.2 131.0L377.4 130.8L377.6 130.6L377.8 130.4L378.0 130.4L378.2 130.4L378.5 130.4L378.7 130.6L378.9 130.8L379.1 131.1L379.3 131.4L379.6 131.8L379.8 132.2L380.0 132.7L380.2 133.3L380.4 133.9L380.7 134.6L380.9 135.4L381.1 136.1L381.3 137.0L381.5 137.9L381.8 138.9L382.0 139.9L382.2 141.0L382.4 142.1L382.6 143.3L382.8 144.5L383.1 145.7L383.3 147.1L383.5 148.4L383.7 149.8L383.9 151.3L384.2 152.7L384.4 154.3L384.6 155.8L384.8 157.4L385.0 159.0L385.3 160.7L385.5 162.4L385.7 164.1L385.9 165.9L386.1 167.7L386.4 169.5L386.6 171.3L386.8 173.1L387.0 175.0L387.2 176.9L387.4 178.8L387.7 180.7L387.9 182.6L388.1 184.6L388.3 186.5L388.5 188.5L388.8 190.4L389.0 192.4L389.2 194.3L389.4 196.3L389.6 198.2L389.9 200.2L390.1 202.1L390.3 204.0L390.5 205.9L390.7 207.8L391.0 209.7L391.2 211.6L391.4 213.4L391.6 215.2L391.8 217.0L392.0 218.8L392.3 220.6L392.5 222.3L392.7 224.0L392.9 225.7L393.1 227.3L393.4 228.9L393.6 230.5L393.8 232.0L394.0 233.5L394.2 234.9L394.5 236.3L394.7 237.7L394.9 239.0L395.1 240.3L395.3 241.5L395.6 242.7L395.8 243.8L396.0 244.9L396.2 245.9L396.4 246.9L396.6 247.8L396.9 248.6L397.1 249.5L397.3 250.2L397.5 250.9L397.7 251.5L398.0 252.1L398.2 252.6L398.4 253.1L398.6 253.5L398.8 253.9L399.1 254.1L399.3 254.4L399.5 254.5L399.7 254.6L399.9 254.7L400.2 254.7L400.4 254.6L400.6 254.5L400.8 254.3L401.0 254.1L401.3 253.8L401.5 253.4L401.7 253.0L401.9 252.5L402.1 252.0L402.3 251.4L402.6 250.8L402.8 250.1L403.0 249.3L403.2 248.5L403.4 247.6L403.7 246.7L403.9 245.7L404.1 244.7L404.3 243.6L404.5 242.4L404.8 241.3L405.0 240.0L405.2 238.7L405.4 237.4L405.6 236.0L405.9 234.6L406.1 233.2L406.3 231.7L406.5 230.2L406.7 228.6L406.9 227.0L407.2 225.3L407.4 223.7L407.6 222.0L407.8 220.2L408.0 218.5L408.3 216.7L408.5 214.9L408.7 213.0L408.9 211.2L409.1 209.3L409.4 207.4L409.6 205.5L409.8 203.6L410.0 201.7L410.2 199.8L410.5 197.8L410.7 195.9L410.9 193.9L411.1 192.0L411.3 190.0L411.5 188.1L411.8 186.1L412.0 184.2L412.2 182.2L412.4 180.3L412.6 178.4L412.9 176.5L413.1 174.6L413.3 172.8L413.5 170.9L413.7 169.1L414.0 167.3L414.2 165.5L414.4 163.8L414.6 162.1L414.8 160.4L415.1 158.7L415.3 157.1L415.5 155.5L415.7 154.0L415.9 152.4L416.1 151.0L416.4 149.5L416.6 148.1L416.8 146.8L417.0 145.5L417.2 144.2L417.5 143.0L417.7 141.9L417.9 140.7L418.1 139.7L418.3 138.7L418.6 137.7L418.8 136.8L419.0 136.0L419.2 135.2L419.4 134.5L419.7 133.8L419.9 133.2L420.1 132.6L420.3 132.1L420.5 131.7L420.7 131.3L421.0 131.0L421.2 130.8L421.4 130.6L421.6 130.4L421.8 130.4L422.1 130.4L422.3 130.4L422.5 130.6L422.7 130.8L422.9 131.1L423.2 131.4L423.4 131.8L423.6 132.2L423.8 132.7L424.0 133.3L424.3 133.9L424.5 134.6L424.7 135.4L424.9 136.1L425.1 137.0L425.3 137.9L425.6 138.9L425.8 139.9L426.0 141.0L426.2 142.1L426.4 143.3L426.7 144.5L426.9 145.7L427.1 147.1L427.3 148.4L427.5 149.8L427.8 151.3L428.0 152.7L428.2 154.3L428.4 155.8L428.6 157.4L428.9 159.0L429.1 160.7L429.3 162.4L429.5 164.1L429.7 165.9L429.9 167.7L430.2 169.5L430.4 171.3L430.6 173.1L430.8 175.0L431.0 176.9L431.3 178.8L431.5 180.7L431.7 182.6L431.9 184.6L432.1 186.5L432.4 188.5L432.6 190.4L432.8 192.4L433.0 194.3L433.2 196.3L433.5 198.2L433.7 200.2L433.9 202.1L434.1 204.0L434.3 205.9L434.5 207.8L434.8 209.7L435.0 211.6L435.2 213.4L435.4 215.2L435.6 217.0L435.9 218.8L436.1 220.6L436.3 222.3L436.5 224.0L436.7 225.7L437.0 227.3L437.2 228.9L437.4 230.5L437.6 232.0L437.8 233.5L438.1 234.9L438.3 236.3L438.5 237.7L438.7 239.0L438.9 240.3L439.2 241.5L439.4 242.7L439.6 243.8L439.8 244.9L440.0 245.9L440.2 246.9L440.5 247.8L440.7 248.6L440.9 249.5L441.1 250.2L441.3 250.9L441.6 251.5L441.8 252.1L442.0 252.6L442.2 253.1L442.4 253.5L442.7 253.9L442.9 254.1L443.1 254.4L443.3 254.5L443.5 254.6L443.8 254.7L444.0 254.7L444.2 254.6L444.4 254.5L444.6 254.3L444.8 254.1L445.1 253.8L445.3 253.4L445.5 253.0L445.7 252.5L445.9 252.0L446.2 251.4L446.4 250.8L446.6 250.1L446.8 249.3L447.0 248.5L447.3 247.6L447.5 246.7L447.7 245.7L447.9 244.7L448.1 243.6L448.4 242.4L448.6 241.3L448.8 240.0L449.0 238.7L449.2 237.4L449.4 236.0L449.7 234.6L449.9 233.2L450.1 231.7L450.3 230.2L450.5 228.6L450.8 227.0L451.0 225.3L451.2 223.7L451.4 222.0L451.6 220.2L451.9 218.5L452.1 216.7L452.3 214.9L452.5 213.0L452.7 211.2L453.0 209.3L453.2 207.4L453.4 205.5L453.6 203.6L453.8 201.7L454.0 199.8L454.3 197.8L454.5 195.9L454.7 193.9L454.9 192.0L455.1 190.0L455.4 188.1L455.6 186.1L455.8 184.2L456.0 182.2L456.2 180.3L456.5 178.4L456.7 176.5L456.9 174.6L457.1 172.8L457.3 170.9L457.6 169.1L457.8 167.3L458.0 165.5L458.2 163.8L458.4 162.1L458.6 160.4L458.9 158.7L459.1 157.1L459.3 155.5L459.5 154.0L459.7 152.4L460.0 151.0L460.2 149.5L460.4 148.1L460.6 146.8L460.8 145.5L461.1 144.2L461.3 143.0L461.5 141.9L461.7 140.7L461.9 139.7L462.2 138.7L462.4 137.7L462.6 136.8L462.8 136.0L463.0 135.2L463.2 134.5L463.5 133.8L463.7 133.2L463.9 132.6L464.1 132.1L464.3 131.7L464.6 131.3L464.8 131.0L465.0 130.8L465.2 130.6L465.4 130.4L465.7 130.4L465.9 130.4L466.1 130.4L466.3 130.6L466.5 130.8L466.8 131.1L467.0 131.4L467.2 131.8L467.4 132.2L467.6 132.7L467.8 133.3L468.1 133.9L468.3 134.6L468.5 135.4L468.7 136.1L468.9 137.0L469.2 137.9L469.4 138.9L469.6 139.9L469.8 141.0L470.0 142.1L470.3 143.3L470.5 144.5L470.7 145.7L470.9 147.1L471.1 148.4L471.4 149.8L471.6 151.3L471.8 152.7L472.0 154.3L472.2 155.8L472.4 157.4L472.7 159.0L472.9 160.7L473.1 162.4L473.3 164.1L473.5 165.9L473.8 167.7L474.0 169.5L474.2 171.3L474.4 173.1L474.6 175.0L474.9 176.9L475.1 178.8L475.3 180.7L475.5 182.6L475.7 184.6L476.0 186.5L476.2 188.5L476.4 190.4L476.6 192.4L476.8 194.3L477.1 196.3L477.3 198.2L477.5 200.2L477.7 202.1L477.9 204.0L478.1 205.9L478.4 207.8L478.6 209.7L478.8 211.6L479.0 213.4L479.2 215.2L479.5 217.0L479.7 218.8L479.9 220.6L480.1 222.3L480.3 224.0L480.6 225.7L480.8 227.3L481.0 228.9L481.2 230.5L481.4 232.0L481.7 233.5L481.9 234.9L482.1 236.3L482.3 237.7L482.5 239.0L482.7 240.3L483.0 241.5L483.2 242.7L483.4 243.8L483.6 244.9L483.8 245.9L484.1 246.9L484.3 247.8L484.5 248.6L484.7 249.5L484.9 250.2L485.2 250.9L485.4 251.5L485.6 252.1L485.8 252.6L486.0 253.1L486.3 253.5L486.5 253.9L486.7 254.1L486.9 254.4L487.1 254.5L487.3 254.6L487.6 254.7L487.8 254.7L488.0 254.6L488.2 254.5L488.4 254.3L488.7 254.1L488.9 253.8L489.1 253.4L489.3 253.0L489.5 252.5L489.8 252.0L490.0 251.4L490.2 250.8L490.4 250.1L490.6 249.3L490.9 248.5L491.1 247.6L491.3 246.7L491.5 245.7L491.7 244.7L491.9 243.6L492.2 242.4L492.4 241.3L492.6 240.0L492.8 238.7L493.0 237.4L493.3 236.0L493.5 234.6L493.7 233.2L493.9 231.7L494.1 230.2L494.4 228.6L494.6 227.0L494.8 225.3L495.0 223.7L495.2 222.0L495.5 220.2L495.7 218.5L495.9 216.7L496.1 214.9L496.3 213.0L496.5 211.2L496.8 209.3L497.0 207.4L497.2 205.5L497.4 203.6L497.6 201.7L497.9 199.8L498.1 197.8L498.3 195.9L498.5 193.9L498.7 192.0L499.0 190.0L499.2 188.1L499.4 186.1L499.6 184.2L499.8 182.2L500.1 180.3L500.3 178.4L500.5 176.5L500.7 174.6L500.9 172.8L501.1 170.9L501.4 169.1L501.6 167.3L501.8 165.5L502.0 163.8L502.2 162.1L502.5 160.4L502.7 158.7L502.9 157.1L503.1 155.5L503.3 154.0L503.6 152.4L503.8 151.0L504.0 149.5L504.2 148.1L504.4 146.8L504.7 145.5L504.9 144.2L505.1 143.0L505.3 141.9L505.5 140.7L505.7 139.7L506.0 138.7L506.2 137.7L506.4 136.8L506.6 136.0L506.8 135.2L507.1 134.5L507.3 133.8L507.5 133.2L507.7 132.6L507.9 132.1L508.2 131.7L508.4 131.3L508.6 131.0L508.8 130.8L509.0 130.6L509.3 130.4L509.5 130.4L509.7 130.4L509.9 130.4L510.1 130.6L510.3 130.8L510.6 131.1L510.8 131.4L511.0 131.8L511.2 132.2L511.4 132.7L511.7 133.3L511.9 133.9L512.1 134.6L512.3 135.4L512.5 136.1L512.8 137.0L513.0 137.9L513.2 138.9L513.4 139.9L513.6 141.0L513.9 142.1L514.1 143.3L514.3 144.5L514.5 145.7L514.7 147.1L515.0 148.4L515.2 149.8L515.4 151.3L515.6 152.7L515.8 154.3L516.0 155.8L516.3 157.4L516.5 159.0L516.7 160.7L516.9 162.4L517.1 164.1L517.4 165.9L517.6 167.7L517.8 169.5L518.0 171.3L518.2 173.1L518.5 175.0L518.7 176.9L518.9 178.8L519.1 180.7L519.3 182.6L519.6 184.6L519.8 186.5L520.0 188.5L520.2 190.4L520.4 192.4L520.6 194.3L520.9 196.3L521.1 198.2L521.3 200.2L521.5 202.1L521.7 204.0L522.0 205.9L522.2 207.8L522.4 209.7L522.6 211.6L522.8 213.4L523.1 215.2L523.3 217.0L523.5 218.8L523.7 220.6L523.9 222.3L524.2 224.0L524.4 225.7L524.6 227.3L524.8 228.9L525.0 230.5L525.2 232.0L525.5 233.5L525.7 234.9L525.9 236.3L526.1 237.7L526.3 239.0L526.6 240.3L526.8 241.5L527.0 242.7L527.2 243.8L527.4 244.9L527.7 245.9L527.9 246.9L528.1 247.8L528.3 248.6L528.5 249.5L528.8 250.2L529.0 250.9L529.2 251.5L529.4 252.1L529.6 252.6L529.8 253.1L530.1 253.5L530.3 253.9L530.5 254.1L530.7 254.4L530.9 254.5L531.2 254.6L531.4 254.7L531.6 254.7L531.8 254.6L532.0 254.5L532.3 254.3L532.5 254.1L532.7 253.8L532.9 253.4L533.1 253.0L533.4 252.5L533.6 252.0L533.8 251.4L534.0 250.8L534.2 250.1L534.4 249.3L534.7 248.5L534.9 247.6L535.1 246.7L535.3 245.7L535.5 244.7L535.8 243.6L536.0 242.4L536.2 241.3L536.4 240.0L536.6 238.7L536.9 237.4L537.1 236.0L537.3 234.6L537.5 233.2L537.7 231.7L538.0 230.2L538.2 228.6L538.4 227.0L538.6 225.3L538.8 223.7L539.0 222.0L539.3 220.2L539.5 218.5L539.7 216.7L539.9 214.9L540.1 213.0L540.4 211.2L540.6 209.3L540.8 207.4L541.0 205.5L541.2 203.6L541.5 201.7L541.7 199.8L541.9 197.8L542.1 195.9L542.3 193.9L542.6 192.0L542.8 190.0L543.0 188.1L543.2 186.1L543.4 184.2L543.6 182.2L543.9 180.3L544.1 178.4L544.3 176.5L544.5 174.6L544.7 172.8L545.0 170.9L545.2 169.1L545.4 167.3L545.6 165.5L545.8 163.8L546.1 162.1L546.3 160.4L546.5 158.7L546.7 157.1L546.9 155.5L547.2 154.0L547.4 152.4L547.6 151.0L547.8 149.5L548.0 148.1L548.2 146.8L548.5 145.5L548.7 144.2L548.9 143.0L549.1 141.9L549.3 140.7L549.6 139.7L549.8 138.7L550.0 137.7L550.2 136.8L550.4 136.0L550.7 135.2L550.9 134.5L551.1 133.8L551.3 133.2L551.5 132.6L551.8 132.1L552.0 131.7L552.2 131.3L552.4 131.0L552.6 130.8L552.9 130.6L553.1 130.4L553.3 130.4L553.5 130.4L553.7 130.4L553.9 130.6L554.2 130.8L554.4 131.1L554.6 131.4L554.8 131.8L555.0 132.2L555.3 132.7L555.5 133.3L555.7 133.9L555.9 134.6L556.1 135.4L556.4 136.1L556.6 137.0L556.8 137.9L557.0 138.9L557.2 139.9L557.5 141.0L557.7 142.1L557.9 143.3L558.1 144.5L558.3 145.7L558.5 147.1L558.8 148.4L559.0 149.8L559.2 151.3L559.4 152.7L559.6 154.3L559.9 155.8L560.1 157.4L560.3 159.0L560.5 160.7L560.7 162.4L561.0 164.1L561.2 165.9L561.4 167.7L561.6 169.5L561.8 171.3L562.1 173.1L562.3 175.0L562.5 176.9L562.7 178.8L562.9 180.7L563.1 182.6L563.4 184.6L563.6 186.5L563.8 188.5L564.0 190.4L564.2 192.4L564.5 194.3L564.7 196.3L564.9 198.2L565.1 200.2L565.3 202.1L565.6 204.0L565.8 205.9L566.0 207.8L566.2 209.7L566.4 211.6L566.7 213.4L566.9 215.2L567.1 217.0L567.3 218.8L567.5 220.6L567.7 222.3L568.0 224.0L568.2 225.7L568.4 227.3L568.6 228.9L568.8 230.5L569.1 232.0L569.3 233.5L569.5 234.9L569.7 236.3L569.9 237.7L570.2 239.0L570.4 240.3L570.6 241.5L570.8 242.7L571.0 243.8L571.3 244.9L571.5 245.9L571.7 246.9L571.9 247.8L572.1 248.6L572.3 249.5L572.6 250.2L572.8 250.9L573.0 251.5L573.2 252.1L573.4 252.6L573.7 253.1L573.9 253.5L574.1 253.9L574.3 254.1L574.5 254.4L574.8 254.5L575.0 254.6L575.2 254.7L575.4 254.7L575.6 254.6L575.9 254.5L576.1 254.3L576.3 254.1L576.5 253.8L576.7 253.4L576.9 253.0L577.2 252.5L577.4 252.0L577.6 251.4L577.8 250.8L578.0 250.1L578.3 249.3L578.5 248.5L578.7 247.6L578.9 246.7L579.1 245.7L579.4 244.7L579.6 243.6L579.8 242.4L580.0 241.3L580.2 240.0L580.5 238.7L580.7 237.4L580.9 236.0L581.1 234.6L581.3 233.2L581.5 231.7L581.8 230.2L582.0 228.6L582.2 227.0L582.4 225.3L582.6 223.7L582.9 222.0L583.1 220.2L583.3 218.5L583.5 216.7L583.7 214.9L584.0 213.0L584.2 211.2L584.4 209.3L584.6 207.4L584.8 205.5L585.1 203.6L585.3 201.7L585.5 199.8L585.7 197.8L585.9 195.9L586.1 193.9L586.4 192.0L586.6 190.0L586.8 188.1L587.0 186.1L587.2 184.2L587.5 182.2L587.7 180.3L587.9 178.4L588.1 176.5L588.3 174.6L588.6 172.8L588.8 170.9L589.0 169.1L589.2 167.3L589.4 165.5L589.7 163.8L589.9 162.1L590.1 160.4L590.3 158.7L590.5 157.1L590.7 155.5L591.0 154.0L591.2 152.4L591.4 151.0L591.6 149.5L591.8 148.1L592.1 146.8L592.3 145.5L592.5 144.2L592.7 143.0L592.9 141.9L593.2 140.7L593.4 139.7L593.6 138.7L593.8 137.7L594.0 136.8L594.3 136.0L594.5 135.2L594.7 134.5L594.9 133.8L595.1 133.2L595.4 132.6L595.6 132.1L595.8 131.7L596.0 131.3L596.2 131.0L596.4 130.8L596.7 130.6L596.9 130.4L597.1 130.4L597.3 130.4L597.5 130.4L597.8 130.6L598.0 130.8L598.2 131.1L598.4 131.4L598.6 131.8L598.9 132.2L599.1 132.7L599.3 133.3L599.5 133.9L599.7 134.6L600.0 135.4L600.2 136.1L600.4 137.0L600.6 137.9L600.8 138.9L601.0 139.9L601.3 141.0L601.5 142.1L601.7 143.3L601.9 144.5L602.1 145.7L602.4 147.1L602.6 148.4L602.8 149.8L603.0 151.3L603.2 152.7L603.5 154.3L603.7 155.8L603.9 157.4L604.1 159.0L604.3 160.7L604.6 162.4L604.8 164.1L605.0 165.9L605.2 167.7L605.4 169.5L605.6 171.3L605.9 173.1L606.1 175.0L606.3 176.9L606.5 178.8L606.7 180.7L607.0 182.6L607.2 184.6L607.4 186.5L607.6 188.5L607.8 190.4L608.1 192.4L608.3 194.3L608.5 196.3L608.7 198.2L608.9 200.2L609.2 202.1L609.4 204.0L609.6 205.9L609.8 207.8L610.0 209.7L610.2 211.6L610.5 213.4L610.7 215.2L610.9 217.0L611.1 218.8L611.3 220.6L611.6 222.3L611.8 224.0L612.0 225.7L612.2 227.3L612.4 228.9L612.7 230.5L612.9 232.0L613.1 233.5L613.3 234.9L613.5 236.3L613.8 237.7L614.0 239.0L614.2 240.3L614.4 241.5L614.6 242.7L614.8 243.8L615.1 244.9L615.3 245.9L615.5 246.9L615.7 247.8L615.9 248.6L616.2 249.5L616.4 250.2L616.6 250.9L616.8 251.5L617.0 252.1L617.3 252.6L617.5 253.1L617.7 253.5L617.9 253.9L618.1 254.1L618.4 254.4L618.6 254.5L618.8 254.6L619.0 254.7L619.2 254.7L619.4 254.6L619.7 254.5L619.9 254.3L620.1 254.1L620.3 253.8L620.5 253.4L620.8 253.0L621.0 252.5L621.2 252.0L621.4 251.4L621.6 250.8L621.9 250.1L622.1 249.3L622.3 248.5L622.5 247.6L622.7 246.7L623.0 245.7L623.2 244.7L623.4 243.6L623.6 242.4L623.8 241.3L624.0 240.0L624.3 238.7L624.5 237.4L624.7 236.0L624.9 234.6L625.1 233.2L625.4 231.7L625.6 230.2L625.8 228.6L626.0 227.0L626.2 225.3L626.5 223.7L626.7 222.0L626.9 220.2L627.1 218.5L627.3 216.7L627.6 214.9L627.8 213.0L628.0 211.2L628.2 209.3L628.4 207.4L628.6 205.5L628.9 203.6L629.1 201.7L629.3 199.8L629.5 197.8L629.7 195.9L630.0 193.9L630.2 192.0L630.4 190.0L630.6 188.1L630.8 186.1L631.1 184.2L631.3 182.2L631.5 180.3L631.7 178.4L631.9 176.5L632.2 174.6L632.4 172.8L632.6 170.9L632.8 169.1L633.0 167.3L633.3 165.5L633.5 163.8L633.7 162.1L633.9 160.4L634.1 158.7L634.3 157.1L634.6 155.5L634.8 154.0L635.0 152.4L635.2 151.0L635.4 149.5L635.7 148.1L635.9 146.8L636.1 145.5L636.3 144.2L636.5 143.0L636.8 141.9L637.0 140.7L637.2 139.7L637.4 138.7L637.6 137.7L637.9 136.8L638.1 136.0L638.3 135.2L638.5 134.5L638.7 133.8L638.9 133.2L639.2 132.6L639.4 132.1L639.6 131.7L639.8 131.3L640.0 131.0L640.3 130.8L640.5 130.6L640.7 130.4L640.9 130.4L641.1 130.4L641.4 130.4L641.6 130.6L641.8 130.8L642.0 131.1L642.2 131.4L642.5 131.8L642.7 132.2L642.9 132.7L643.1 133.3L643.3 133.9L643.5 134.6L643.8 135.4L644.0 136.1L644.2 137.0L644.4 137.9L644.6 138.9L644.9 139.9L645.1 141.0L645.3 142.1L645.5 143.3L645.7 144.5L646.0 145.7L646.2 147.1L646.4 148.4L646.6 149.8L646.8 151.3L647.1 152.7L647.3 154.3L647.5 155.8L647.7 157.4L647.9 159.0L648.1 160.7L648.4 162.4L648.6 164.1L648.8 165.9L649.0 167.7L649.2 169.5L649.5 171.3L649.7 173.1L649.9 175.0L650.1 176.9L650.3 178.8L650.6 180.7L650.8 182.6L651.0 184.6L651.2 186.5L651.4 188.5L651.7 190.4L651.9 192.4L652.1 194.3L652.3 196.3L652.5 198.2L652.7 200.2L653.0 202.1L653.2 204.0L653.4 205.9L653.6 207.8L653.8 209.7L654.1 211.6L654.3 213.4L654.5 215.2L654.7 217.0L654.9 218.8L655.2 220.6L655.4 222.3L655.6 224.0L655.8 225.7L656.0 227.3L656.3 228.9L656.5 230.5L656.7 232.0L656.9 233.5L657.1 234.9L657.3 236.3L657.6 237.7L657.8 239.0L658.0 240.3L658.2 241.5L658.4 242.7L658.7 243.8L658.9 244.9L659.1 245.9L659.3 246.9L659.5 247.8L659.8 248.6L660.0 249.5L660.2 250.2L660.4 250.9L660.6 251.5L660.9 252.1L661.1 252.6L661.3 253.1L661.5 253.5L661.7 253.9L661.9 254.1L662.2 254.4L662.4 254.5L662.6 254.6L662.8 254.7L663.0 254.7L663.3 254.6L663.5 254.5L663.7 254.3L663.9 254.1L664.1 253.8L664.4 253.4L664.6 253.0L664.8 252.5L665.0 252.0L665.2 251.4L665.5 250.8L665.7 250.1L665.9 249.3L666.1 248.5L666.3 247.6L666.5 246.7L666.8 245.7L667.0 244.7L667.2 243.6L667.4 242.4L667.6 241.3L667.9 240.0L668.1 238.7L668.3 237.4L668.5 236.0L668.7 234.6L669.0 233.2L669.2 231.7L669.4 230.2L669.6 228.6L669.8 227.0L670.1 225.3L670.3 223.7L670.5 222.0L670.7 220.2L670.9 218.5L671.2 216.7L671.4 214.9L671.6 213.0L671.8 211.2L672.0 209.3L672.2 207.4L672.5 205.5L672.7 203.6L672.9 201.7L673.1 199.8L673.3 197.8L673.6 195.9L673.8 193.9L674.0 192.0L674.2 190.0L674.4 188.1L674.7 186.1L674.9 184.2L675.1 182.2L675.3 180.3L675.5 178.4L675.8 176.5L676.0 174.6L676.2 172.8L676.4 170.9L676.6 169.1L676.8 167.3L677.1 165.5L677.3 163.8L677.5 162.1L677.7 160.4L677.9 158.7L678.2 157.1L678.4 155.5L678.6 154.0L678.8 152.4L679.0 151.0L679.3 149.5L679.5 148.1L679.7 146.8L679.9 145.5L680.1 144.2L680.4 143.0L680.6 141.9L680.8 140.7L681.0 139.7L681.2 138.7L681.4 137.7L681.7 136.8L681.9 136.0L682.1 135.2L682.3 134.5L682.5 133.8L682.8 133.2L683.0 132.6L683.2 132.1L683.4 131.7L683.6 131.3L683.9 131.0L684.1 130.8L684.3 130.6L684.5 130.4L684.7 130.4L685.0 130.4L685.2 130.4L685.4 130.6L685.6 130.8L685.8 131.1L686.0 131.4L686.3 131.8L686.5 132.2L686.7 132.7L686.9 133.3L687.1 133.9L687.4 134.6L687.6 135.4L687.8 136.1L688.0 137.0L688.2 137.9L688.5 138.9L688.7 139.9L688.9 141.0L689.1 142.1L689.3 143.3L689.6 144.5L689.8 145.7L690.0 147.1L690.2 148.4L690.4 149.8L690.6 151.3L690.9 152.7L691.1 154.3L691.3 155.8L691.5 157.4L691.7 159.0L692.0 160.7L692.2 162.4L692.4 164.1L692.6 165.9L692.8 167.7L693.1 169.5L693.3 171.3L693.5 173.1L693.7 175.0L693.9 176.9L694.2 178.8L694.4 180.7L694.6 182.6L694.8 184.6L695.0 186.5L695.2 188.5L695.5 190.4L695.7 192.4L695.9 194.3L696.1 196.3L696.3 198.2L696.6 200.2L696.8 202.1L697.0 204.0L697.2 205.9L697.4 207.8L697.7 209.7L697.9 211.6L698.1 213.4L698.3 215.2L698.5 217.0L698.8 218.8L699.0 220.6L699.2 222.3L699.4 224.0L699.6 225.7L699.8 227.3L700.1 228.9L700.3 230.5L700.5 232.0L700.7 233.5L700.9 234.9L701.2 236.3L701.4 237.7L701.6 239.0L701.8 240.3L702.0 241.5L702.3 242.7L702.5 243.8L702.7 244.9L702.9 245.9L703.1 246.9L703.4 247.8L703.6 248.6L703.8 249.5L704.0 250.2L704.2 250.9L704.4 251.5L704.7 252.1L704.9 252.6L705.1 253.1L705.3 253.5L705.5 253.9L705.8 254.1L706.0 254.4L706.2 254.5L706.4 254.6L706.6 254.7L706.9 254.7L707.1 254.6L707.3 254.5L707.5 254.3L707.7 254.1L708.0 253.8L708.2 253.4L708.4 253.0L708.6 252.5L708.8 252.0L709.1 251.4L709.3 250.8L709.5 250.1L709.7 249.3L709.9 248.5L710.1 247.6L710.4 246.7L710.6 245.7L710.8 244.7L711.0 243.6L711.2 242.4L711.5 241.3L711.7 240.0L711.9 238.7L712.1 237.4L712.3 236.0L712.6 234.6L712.8 233.2L713.0 231.7L713.2 230.2L713.4 228.6L713.7 227.0L713.9 225.3L714.1 223.7L714.3 222.0L714.5 220.2L714.7 218.5L715.0 216.7L715.2 214.9L715.4 213.0L715.6 211.2L715.8 209.3L716.1 207.4L716.3 205.5L716.5 203.6L716.7 201.7L716.9 199.8L717.2 197.8L717.4 195.9L717.6 193.9L717.8 192.0L718.0 190.0L718.3 188.1L718.5 186.1L718.7 184.2L718.9 182.2L719.1 180.3L719.3 178.4L719.6 176.5L719.8 174.6L720.0 172.8L720.2 170.9L720.4 169.1L720.7 167.3L720.9 165.5L721.1 163.8L721.3 162.1L721.5 160.4L721.8 158.7L722.0 157.1L722.2 155.5L722.4 154.0L722.6 152.4L722.9 151.0L723.1 149.5L723.3 148.1L723.5 146.8L723.7 145.5L723.9 144.2L724.2 143.0L724.4 141.9L724.6 140.7L724.8 139.7L725.0 138.7L725.3 137.7L725.5 136.8L725.7 136.0L725.9 135.2L726.1 134.5L726.4 133.8L726.6 133.2L726.8 132.6L727.0 132.1L727.2 131.7L727.5 131.3L727.7 131.0L727.9 130.8L728.1 130.6L728.3 130.4L728.5 130.4L728.8 130.4L729.0 130.4L729.2 130.6L729.4 130.8L729.6 131.1L729.9 131.4L730.1 131.8L730.3 132.2L730.5 132.7L730.7 133.3L731.0 133.9L731.2 134.6L731.4 135.4L731.6 136.1L731.8 137.0L732.1 137.9L732.3 138.9L732.5 139.9L732.7 141.0L732.9 142.1L733.1 143.3L733.4 144.5L733.6 145.7L733.8 147.1L734.0 148.4L734.2 149.8L734.5 151.3L734.7 152.7L734.9 154.3L735.1 155.8L735.3 157.4L735.6 159.0L735.8 160.7L736.0 162.4L736.2 164.1L736.4 165.9L736.7 167.7L736.9 169.5L737.1 171.3L737.3 173.1L737.5 175.0L737.7 176.9L738.0 178.8L738.2 180.7L738.4 182.6L738.6 184.6L738.8 186.5L739.1 188.5L739.3 190.4L739.5 192.4L739.7 194.3L739.9 196.3L740.2 198.2L740.4 200.2L740.6 202.1L740.8 204.0L741.0 205.9L741.3 207.8L741.5 209.7L741.7 211.6L741.9 213.4L742.1 215.2L742.3 217.0L742.6 218.8L742.8 220.6L743.0 222.3L743.2 224.0L743.4 225.7L743.7 227.3L743.9 228.9L744.1 230.5L744.3 232.0L744.5 233.5L744.8 234.9L745.0 236.3L745.2 237.7L745.4 239.0L745.6 240.3L745.9 241.5L746.1 242.7L746.3 243.8L746.5 244.9L746.7 245.9L747.0 246.9L747.2 247.8L747.4 248.6L747.6 249.5L747.8 250.2L748.0 250.9L748.3 251.5L748.5 252.1L748.7 252.6L748.9 253.1L749.1 253.5L749.4 253.9L749.6 254.1L749.8 254.4L750.0 254.5L750.2 254.6L750.5 254.7L750.7 254.7L750.9 254.6L751.1 254.5L751.3 254.3L751.6 254.1L751.8 253.8L752.0 253.4L752.2 253.0L752.4 252.5L752.6 252.0L752.9 251.4L753.1 250.8L753.3 250.1L753.5 249.3L753.7 248.5L754.0 247.6L754.2 246.7L754.4 245.7L754.6 244.7L754.8 243.6L755.1 242.4L755.3 241.3L755.5 240.0L755.7 238.7L755.9 237.4L756.2 236.0L756.4 234.6L756.6 233.2L756.8 231.7L757.0 230.2L757.2 228.6L757.5 227.0L757.7 225.3L757.9 223.7L758.1 222.0L758.3 220.2L758.6 218.5L758.8 216.7L759.0 214.9L759.2 213.0L759.4 211.2L759.7 209.3L759.9 207.4L760.1 205.5L760.3 203.6L760.5 201.7L760.8 199.8L761.0 197.8L761.2 195.9L761.4 193.9L761.6 192.0L761.8 190.0L762.1 188.1L762.3 186.1L762.5 184.2L762.7 182.2L762.9 180.3L763.2 178.4L763.4 176.5L763.6 174.6L763.8 172.8L764.0 170.9L764.3 169.1L764.5 167.3L764.7 165.5L764.9 163.8L765.1 162.1L765.4 160.4L765.6 158.7L765.8 157.1L766.0 155.5L766.2 154.0L766.4 152.4L766.7 151.0L766.9 149.5L767.1 148.1L767.3 146.8L767.5 145.5L767.8 144.2L768.0 143.0L768.2 141.9L768.4 140.7L768.6 139.7L768.9 138.7L769.1 137.7L769.3 136.8L769.5 136.0L769.7 135.2L770.0 134.5L770.2 133.8L770.4 133.2L770.6 132.6L770.8 132.1L771.0 131.7L771.3 131.3L771.5 131.0L771.7 130.8L771.9 130.6L772.1 130.4L772.4 130.4L772.6 130.4L772.8 130.4L773.0 130.6L773.2 130.8L773.5 131.1L773.7 131.4L773.9 131.8L774.1 132.2L774.3 132.7L774.6 133.3L774.8 133.9L775.0 134.6L775.2 135.4L775.4 136.1L775.6 137.0L775.9 137.9L776.1 138.9L776.3 139.9L776.5 141.0L776.7 142.1L777.0 143.3L777.2 144.5L777.4 145.7L777.6 147.1L777.8 148.4L778.1 149.8L778.3 151.3L778.5 152.7L778.7 154.3L778.9 155.8L779.2 157.4L779.4 159.0L779.6 160.7L779.8 162.4L780.0 164.1L780.2 165.9L780.5 167.7L780.7 169.5L780.9 171.3L781.1 173.1L781.3 175.0L781.6 176.9L781.8 178.8L782.0 180.7L782.2 182.6L782.4 184.6L782.7 186.5L782.9 188.5L783.1 190.4L783.3 192.4L783.5 194.3L783.8 196.3L784.0 198.2L784.2 200.2L784.4 202.1L784.6 204.0L784.9 205.9L785.1 207.8L785.3 209.7L785.5 211.6L785.7 213.4L785.9 215.2L786.2 217.0L786.4 218.8L786.6 220.6L786.8 222.3L787.0 224.0L787.3 225.7L787.5 227.3L787.7 228.9L787.9 230.5L788.1 232.0L788.4 233.5L788.6 234.9L788.8 236.3L789.0 237.7L789.2 239.0L789.5 240.3L789.7 241.5L789.9 242.7L790.1 243.8L790.3 244.9L790.5 245.9L790.8 246.9L791.0 247.8L791.2 248.6L791.4 249.5L791.6 250.2L791.9 250.9L792.1 251.5L792.3 252.1L792.5 252.6L792.7 253.1L793.0 253.5L793.2 253.9L793.4 254.1L793.6 254.4L793.8 254.5L794.1 254.6L794.3 254.7L794.5 254.7L794.7 254.6L794.9 254.5L795.1 254.3L795.4 254.1L795.6 253.8L795.8 253.4L796.0 253.0L796.2 252.5L796.5 252.0L796.7 251.4L796.9 250.8L797.1 250.1L797.3 249.3L797.6 248.5L797.8 247.6L798.0 246.7L798.2 245.7L798.4 244.7L798.7 243.6L798.9 242.4L799.1 241.3L799.3 240.0L799.5 238.7L799.7 237.4L800.0 236.0L800.2 234.6L800.4 233.2L800.6 231.7L800.8 230.2L801.1 228.6L801.3 227.0L801.5 225.3L801.7 223.7L801.9 222.0L802.2 220.2L802.4 218.5L802.6 216.7L802.8 214.9L803.0 213.0L803.3 211.2L803.5 209.3L803.7 207.4L803.9 205.5L804.1 203.6L804.3 201.7L804.6 199.8L804.8 197.8L805.0 195.9L805.2 193.9L805.4 192.0L805.7 190.0L805.9 188.1L806.1 186.1L806.3 184.2L806.5 182.2L806.8 180.3L807.0 178.4L807.2 176.5L807.4 174.6L807.6 172.8L807.9 170.9L808.1 169.1L808.3 167.3L808.5 165.5L808.7 163.8L808.9 162.1L809.2 160.4L809.4 158.7L809.6 157.1L809.8 155.5L810.0 154.0L810.3 152.4L810.5 151.0L810.7 149.5L810.9 148.1L811.1 146.8L811.4 145.5L811.6 144.2L811.8 143.0L812.0 141.9L812.2 140.7L812.5 139.7L812.7 138.7L812.9 137.7L813.1 136.8L813.3 136.0L813.5 135.2L813.8 134.5L814.0 133.8L814.2 133.2L814.4 132.6L814.6 132.1L814.9 131.7L815.1 131.3L815.3 131.0L815.5 130.8L815.7 130.6L816.0 130.4L816.2 130.4L816.4 130.4L816.6 130.4L816.8 130.6L817.1 130.8L817.3 131.1L817.5 131.4L817.7 131.8L817.9 132.2L818.1 132.7L818.4 133.3L818.6 133.9L818.8 134.6L819.0 135.4L819.2 136.1L819.5 137.0L819.7 137.9L819.9 138.9L820.1 139.9L820.3 141.0L820.6 142.1L820.8 143.3L821.0 144.5L821.2 145.7L821.4 147.1L821.7 148.4L821.9 149.8L822.1 151.3L822.3 152.7L822.5 154.3L822.8 155.8L823.0 157.4L823.2 159.0L823.4 160.7L823.6 162.4L823.8 164.1L824.1 165.9L824.3 167.7L824.5 169.5L824.7 171.3L824.9 173.1L825.2 175.0L825.4 176.9L825.6 178.8L825.8 180.7L826.0 182.6L826.3 184.6L826.5 186.5L826.7 188.5L826.9 190.4L827.1 192.4L827.4 194.3L827.6 196.3L827.8 198.2L828.0 200.2L828.2 202.1L828.4 204.0L828.7 205.9L828.9 207.8L829.1 209.7L829.3 211.6L829.5 213.4L829.8 215.2L830.0 217.0L830.2 218.8L830.4 220.6L830.6 222.3L830.9 224.0L831.1 225.7L831.3 227.3L831.5 228.9L831.7 230.5L832.0 232.0L832.2 233.5L832.4 234.9L832.6 236.3L832.8 237.7L833.0 239.0L833.3 240.3L833.5 241.5L833.7 242.7L833.9 243.8L834.1 244.9L834.4 245.9L834.6 246.9L834.8 247.8L835.0 248.6L835.2 249.5L835.5 250.2L835.7 250.9L835.9 251.5L836.1 252.1L836.3 252.6L836.6 253.1L836.8 253.5L837.0 253.9L837.2 254.1L837.4 254.4L837.6 254.5L837.9 254.6L838.1 254.7L838.3 254.7L838.5 254.6L838.7 254.5L839.0 254.3L839.2 254.1L839.4 253.8L839.6 253.4L839.8 253.0L840.1 252.5L840.3 252.0L840.5 251.4L840.7 250.8L840.9 250.1L841.2 249.3L841.4 248.5L841.6 247.6L841.8 246.7L842.0 245.7L842.2 244.7L842.5 243.6L842.7 242.4L842.9 241.3L843.1 240.0L843.3 238.7L843.6 237.4L843.8 236.0L844.0 234.6L844.2 233.2L844.4 231.7L844.7 230.2L844.9 228.6L845.1 227.0L845.3 225.3L845.5 223.7L845.8 222.0L846.0 220.2L846.2 218.5L846.4 216.7L846.6 214.9L846.8 213.0L847.1 211.2L847.3 209.3L847.5 207.4L847.7 205.5L847.9 203.6L848.2 201.7L848.4 199.8L848.6 197.8L848.8 195.9L849.0 193.9L849.3 192.0L849.5 190.0L849.7 188.1L849.9 186.1L850.1 184.2L850.4 182.2L850.6 180.3L850.8 178.4L851.0 176.5L851.2 174.6L851.4 172.8L851.7 170.9L851.9 169.1L852.1 167.3L852.3 165.5L852.5 163.8L852.8 162.1L853.0 160.4L853.2 158.7L853.4 157.1L853.6 155.5L853.9 154.0L854.1 152.4L854.3 151.0L854.5 149.5L854.7 148.1L855.0 146.8L855.2 145.5L855.4 144.2L855.6 143.0L855.8 141.9L856.0 140.7L856.3 139.7L856.5 138.7L856.7 137.7L856.9 136.8L857.1 136.0L857.4 135.2L857.6 134.5L857.8 133.8L858.0 133.2L858.2 132.6L858.5 132.1L858.7 131.7L858.9 131.3L859.1 131.0L859.3 130.8L859.6 130.6L859.8 130.4L860.0 130.4L860.2 130.4L860.4 130.4L860.7 130.6L860.9 130.8L861.1 131.1L861.3 131.4L861.5 131.8L861.7 132.2L862.0 132.7L862.2 133.3L862.4 133.9L862.6 134.6L862.8 135.4L863.1 136.1L863.3 137.0L863.5 137.9L863.7 138.9L863.9 139.9L864.2 141.0L864.4 142.1L864.6 143.3L864.8 144.5L865.0 145.7L865.3 147.1L865.5 148.4L865.7 149.8L865.9 151.3L866.1 152.7L866.3 154.3L866.6 155.8L866.8 157.4L867.0 159.0L867.2 160.7L867.4 162.4L867.7 164.1L867.9 165.9L868.1 167.7L868.3 169.5L868.5 171.3L868.8 173.1L869.0 175.0L869.2 176.9L869.4 178.8L869.6 180.7L869.9 182.6L870.1 184.6L870.3 186.5L870.5 188.5L870.7 190.4L870.9 192.4L871.2 194.3L871.4 196.3L871.6 198.2L871.8 200.2L872.0 202.1L872.3 204.0L872.5 205.9L872.7 207.8L872.9 209.7L873.1 211.6L873.4 213.4L873.6 215.2L873.8 217.0L874.0 218.8L874.2 220.6L874.5 222.3L874.7 224.0L874.9 225.7L875.1 227.3L875.3 228.9L875.5 230.5L875.8 232.0L876.0 233.5L876.2 234.9L876.4 236.3L876.6 237.7L876.9 239.0L877.1 240.3L877.3 241.5L877.5 242.7L877.7 243.8L878.0 244.9L878.2 245.9L878.4 246.9L878.6 247.8L878.8 248.6L879.1 249.5L879.3 250.2L879.5 250.9L879.7 251.5L879.9 252.1L880.1 252.6L880.4 253.1L880.6 253.5L880.8 253.9L881.0 254.1L881.2 254.4L881.5 254.5L881.7 254.6L881.9 254.7L882.1 254.7L882.3 254.6L882.6 254.5L882.8 254.3L883.0 254.1L883.2 253.8L883.4 253.4L883.7 253.0L883.9 252.5L884.1 252.0L884.3 251.4L884.5 250.8L884.7 250.1L885.0 249.3L885.2 248.5L885.4 247.6L885.6 246.7L885.8 245.7L886.1 244.7L886.3 243.6L886.5 242.4L886.7 241.3L886.9 240.0L887.2 238.7L887.4 237.4L887.6 236.0L887.8 234.6L888.0 233.2L888.3 231.7L888.5 230.2L888.7 228.6L888.9 227.0L889.1 225.3L889.3 223.7L889.6 222.0L889.8 220.2L890.0 218.5L890.2 216.7L890.4 214.9L890.7 213.0L890.9 211.2L891.1 209.3L891.3 207.4L891.5 205.5L891.8 203.6L892.0 201.7L892.2 199.8L892.4 197.8L892.6 195.9L892.9 193.9L893.1 192.0L893.3 190.0L893.5 188.1L893.7 186.1L893.9 184.2L894.2 182.2L894.4 180.3L894.6 178.4L894.8 176.5L895.0 174.6L895.3 172.8L895.5 170.9L895.7 169.1L895.9 167.3L896.1 165.5L896.4 163.8L896.6 162.1L896.8 160.4L897.0 158.7L897.2 157.1L897.5 155.5L897.7 154.0L897.9 152.4L898.1 151.0L898.3 149.5L898.6 148.1L898.8 146.8L899.0 145.5L899.2 144.2L899.4 143.0L899.6 141.9L899.9 140.7L900.1 139.7L900.3 138.7L900.5 137.7L900.7 136.8L901.0 136.0L901.2 135.2L901.4 134.5L901.6 133.8L901.8 133.2L902.1 132.6L902.3 132.1L902.5 131.7L902.7 131.3L902.9 131.0L903.2 130.8L903.4 130.6L903.6 130.4L903.8 130.4L904.0 130.4L904.2 130.4L904.5 130.6L904.7 130.8L904.9 131.1L905.1 131.4L905.3 131.8L905.6 132.2L905.8 132.7L906.0 133.3L906.2 133.9L906.4 134.6L906.7 135.4L906.9 136.1L907.1 137.0L907.3 137.9L907.5 138.9L907.8 139.9L908.0 141.0L908.2 142.1L908.4 143.3L908.6 144.5L908.8 145.7L909.1 147.1L909.3 148.4L909.5 149.8L909.7 151.3L909.9 152.7L910.2 154.3L910.4 155.8L910.6 157.4L910.8 159.0L911.0 160.7L911.3 162.4L911.5 164.1L911.7 165.9L911.9 167.7L912.1 169.5L912.4 171.3L912.6 173.1L912.8 175.0L913.0 176.9L913.2 178.8L913.4 180.7L913.7 182.6L913.9 184.6L914.1 186.5L914.3 188.5L914.5 190.4L914.8 192.4L915.0 194.3L915.2 196.3L915.4 198.2L915.6 200.2L915.9 202.1L916.1 204.0L916.3 205.9L916.5 207.8L916.7 209.7L917.0 211.6L917.2 213.4L917.4 215.2L917.6 217.0L917.8 218.8L918.0 220.6L918.3 222.3L918.5 224.0L918.7 225.7L918.9 227.3L919.1 228.9L919.4 230.5L919.6 232.0L919.8 233.5L920.0 234.9L920.2 236.3L920.5 237.7L920.7 239.0L920.9 240.3L921.1 241.5L921.3 242.7L921.6 243.8L921.8 244.9L922.0 245.9L922.2 246.9L922.4 247.8L922.6 248.6L922.9 249.5L923.1 250.2L923.3 250.9L923.5 251.5L923.7 252.1L924.0 252.6L924.2 253.1L924.4 253.5L924.6 253.9L924.8 254.1L925.1 254.4L925.3 254.5L925.5 254.6L925.7 254.7L925.9 254.7L926.2 254.6L926.4 254.5L926.6 254.3L926.8 254.1L927.0 253.8L927.2 253.4L927.5 253.0L927.7 252.5L927.9 252.0L928.1 251.4L928.3 250.8L928.6 250.1L928.8 249.3L929.0 248.5L929.2 247.6L929.4 246.7L929.7 245.7L929.9 244.7L930.1 243.6L930.3 242.4L930.5 241.3L930.8 240.0L931.0 238.7L931.2 237.4L931.4 236.0L931.6 234.6L931.8 233.2L932.1 231.7L932.3 230.2L932.5 228.6L932.7 227.0L932.9 225.3L933.2 223.7L933.4 222.0L933.6 220.2L933.8 218.5L934.0 216.7L934.3 214.9L934.5 213.0L934.7 211.2L934.9 209.3L935.1 207.4L935.4 205.5L935.6 203.6L935.8 201.7L936.0 199.8L936.2 197.8L936.5 195.9L936.7 193.9L936.9 192.0L937.1 190.0L937.3 188.1L937.5 186.1L937.8 184.2L938.0 182.2L938.2 180.3L938.4 178.4L938.6 176.5L938.9 174.6L939.1 172.8L939.3 170.9L939.5 169.1L939.7 167.3L940.0 165.5L940.2 163.8L940.4 162.1L940.6 160.4L940.8 158.7L941.1 157.1L941.3 155.5L941.5 154.0L941.7 152.4L941.9 151.0L942.1 149.5L942.4 148.1L942.6 146.8L942.8 145.5L943.0 144.2L943.2 143.0L943.5 141.9L943.7 140.7L943.9 139.7L944.1 138.7L944.3 137.7L944.6 136.8L944.8 136.0L945.0 135.2L945.2 134.5L945.4 133.8L945.7 133.2L945.9 132.6L946.1 132.1L946.3 131.7L946.5 131.3L946.7 131.0L947.0 130.8L947.2 130.6L947.4 130.4L947.6 130.4L947.8 130.4L948.1 130.4L948.3 130.6L948.5 130.8L948.7 131.1L948.9 131.4L949.2 131.8L949.4 132.2L949.6 132.7L949.8 133.3L950.0 133.9L950.3 134.6L950.5 135.4L950.7 136.1L950.9 137.0L951.1 137.9L951.3 138.9L951.6 139.9L951.8 141.0L952.0 142.1L952.2 143.3L952.4 144.5L952.7 145.7L952.9 147.1L953.1 148.4L953.3 149.8L953.5 151.3L953.8 152.7L954.0 154.3L954.2 155.8L954.4 157.4L954.6 159.0L954.9 160.7L955.1 162.4L955.3 164.1L955.5 165.9L955.7 167.7L955.9 169.5L956.2 171.3L956.4 173.1L956.6 175.0L956.8 176.9L957.0 178.8L957.3 180.7L957.5 182.6L957.7 184.6L957.9 186.5L958.1 188.5L958.4 190.4L958.6 192.4L958.8 194.3L959.0 196.3L959.2 198.2L959.5 200.2L959.7 202.1L959.9 204.0L960.1 205.9L960.3 207.8L960.5 209.7L960.8 211.6L961.0 213.4L961.2 215.2L961.4 217.0L961.6 218.8L961.9 220.6L962.1 222.3L962.3 224.0L962.5 225.7L962.7 227.3L963.0 228.9L963.2 230.5L963.4 232.0L963.6 233.5L963.8 234.9L964.1 236.3L964.3 237.7L964.5 239.0L964.7 240.3L964.9 241.5L965.1 242.7L965.4 243.8L965.6 244.9L965.8 245.9L966.0 246.9L966.2 247.8L966.5 248.6L966.7 249.5L966.9 250.2L967.1 250.9L967.3 251.5L967.6 252.1L967.8 252.6L968.0 253.1L968.2 253.5L968.4 253.9L968.7 254.1L968.9 254.4L969.1 254.5L969.3 254.6L969.5 254.7L969.7 254.7L970.0 254.6L970.2 254.5L970.4 254.3L970.6 254.1L970.8 253.8L971.1 253.4L971.3 253.0L971.5 252.5L971.7 252.0L971.9 251.4L972.2 250.8L972.4 250.1L972.6 249.3L972.8 248.5L973.0 247.6L973.3 246.7L973.5 245.7L973.7 244.7L973.9 243.6L974.1 242.4L974.4 241.3L974.6 240.0L974.8 238.7L975.0 237.4L975.2 236.0L975.4 234.6L975.7 233.2L975.9 231.7L976.1 230.2L976.3 228.6L976.5 227.0L976.8 225.3L977.0 223.7L977.2 222.0L977.4 220.2L977.6 218.5L977.9 216.7L978.1 214.9L978.3 213.0L978.5 211.2L978.7 209.3L979.0 207.4L979.2 205.5L979.4 203.6L979.6 201.7L979.8 199.8L980.0 197.8L980.3 195.9L980.5 193.9L980.7 192.0L980.9 190.0L981.1 188.1L981.4 186.1L981.6 184.2L981.8 182.2L982.0 180.3L982.2 178.4L982.5 176.5L982.7 174.6L982.9 172.8L983.1 170.9L983.3 169.1L983.6 167.3L983.8 165.5L984.0 163.8L984.2 162.1L984.4 160.4L984.6 158.7L984.9 157.1L985.1 155.5L985.3 154.0L985.5 152.4L985.7 151.0L986.0 149.5L986.2 148.1L986.4 146.8L986.6 145.5L986.8 144.2L987.1 143.0L987.3 141.9L987.5 140.7L987.7 139.7L987.9 138.7L988.2 137.7L988.4 136.8L988.6 136.0L988.8 135.2L989.0 134.5L989.2 133.8L989.5 133.2L989.7 132.6L989.9 132.1L990.1 131.7L990.3 131.3L990.6 131.0L990.8 130.8L991.0 130.6" stroke="#ff0000" stroke-width="5.8" stroke-dasharray="16.2 16.1" stroke-dashoffset="-3"/>
<path d="M114.7 132.2L114.9 132.1L115.1 132.0L115.4 132.0L115.6 132.1L115.8 132.2L116.0 132.4L116.2 132.6L116.5 132.9L116.7 133.3L116.9 133.7L117.1 134.1L117.3 134.7L117.5 135.3L117.8 135.9L118.0 136.6L118.2 137.4L118.4 138.2L118.6 139.0L118.9 140.0L119.1 140.9L119.3 142.0L119.5 143.0L119.7 144.2L120.0 145.4L120.2 146.6L120.4 147.8L120.6 149.2L120.8 150.5L121.1 151.9L121.3 153.4L121.5 154.9L121.7 156.4L121.9 157.9L122.1 159.5L122.4 161.2L122.6 162.8L122.8 164.5L123.0 166.2L123.2 168.0L123.5 169.8L123.7 171.5L123.9 173.4L124.1 175.2L124.3 177.1L124.6 178.9L124.8 180.8L125.0 182.7L125.2 184.6L125.4 186.6L125.7 188.5L125.9 190.4L126.1 192.4L126.3 194.3L126.5 196.2L126.7 198.2L127.0 200.1L127.2 202.0L127.4 204.0L127.6 205.9L127.8 207.8L128.1 209.6L128.3 211.5L128.5 213.4L128.7 215.2L128.9 217.0L129.2 218.8L129.4 220.6L129.6 222.3L129.8 224.0L130.0 225.7L130.3 227.3L130.5 228.9L130.7 230.5L130.9 232.1L131.1 233.6L131.3 235.0L131.6 236.5L131.8 237.8L132.0 239.2L132.2 240.5L132.4 241.7L132.7 242.9L132.9 244.1L133.1 245.2L133.3 246.2L133.5 247.2L133.8 248.2L134.0 249.1L134.2 249.9L134.4 250.7L134.6 251.4L134.9 252.1L135.1 252.7L135.3 253.3L135.5 253.7L135.7 254.2L136.0 254.5L136.2 254.9L136.4 255.1L136.6 255.3L136.8 255.4L137.0 255.5L137.3 255.5L137.5 255.4L137.7 255.3L137.9 255.1L138.1 254.9L138.4 254.5L138.6 254.2L138.8 253.7L139.0 253.2L139.2 252.7L139.5 252.1L139.7 251.4L139.9 250.7L140.1 249.9L140.3 249.1L140.6 248.2L140.8 247.2L141.0 246.2L141.2 245.2L141.4 244.1L141.6 242.9L141.9 241.7L142.1 240.4L142.3 239.1L142.5 237.8L142.7 236.4L143.0 235.0L143.2 233.5L143.4 232.0L143.6 230.4L143.8 228.8L144.1 227.2L144.3 225.6L144.5 223.9L144.7 222.2L144.9 220.4L145.2 218.6L145.4 216.8L145.6 215.0L145.8 213.2L146.0 211.3L146.2 209.4L146.5 207.5L146.7 205.6L146.9 203.7L147.1 201.7L147.3 199.8L147.6 197.8L147.8 195.9L148.0 193.9L148.2 192.0L148.4 190.0L148.7 188.1L148.9 186.1L149.1 184.2L149.3 182.2L149.5 180.3L149.8 178.4L150.0 176.5L150.2 174.6L150.4 172.8L150.6 170.9L150.8 169.1L151.1 167.3L151.3 165.5L151.5 163.8L151.7 162.1L151.9 160.4L152.2 158.7L152.4 157.1L152.6 155.5L152.8 154.0L153.0 152.5L153.3 151.0L153.5 149.6L153.7 148.2L153.9 146.9L154.1 145.6L154.4 144.3L154.6 143.1L154.8 142.0L155.0 140.9L155.2 139.9L155.4 138.9L155.7 137.9L155.9 137.0L156.1 136.2L156.3 135.4L156.5 134.7L156.8 134.1L157.0 133.5L157.2 132.9L157.4 132.4L157.6 132.0L157.9 131.7L158.1 131.4L158.3 131.1L158.5 130.9L158.7 130.8L159.0 130.8L159.2 130.8L159.4 130.8L159.6 130.9L159.8 131.1L160.0 131.3L160.3 131.6L160.5 132.0L160.7 132.4L160.9 132.9L161.1 133.4L161.4 134.0L161.6 134.7L161.8 135.4L162.0 136.2L162.2 137.0L162.5 137.9L162.7 138.8L162.9 139.8L163.1 140.9L163.3 142.0L163.6 143.1L163.8 144.3L164.0 145.6L164.2 146.8L164.4 148.2L164.6 149.6L164.9 151.0L165.1 152.5L165.3 154.0L165.5 155.6L165.7 157.1L166.0 158.8L166.2 160.4L166.4 162.1L166.6 163.9L166.8 165.6L167.1 167.4L167.3 169.2L167.5 171.1L167.7 172.9L167.9 174.8L168.2 176.7L168.4 178.6L168.6 180.5L168.8 182.5L169.0 184.4L169.2 186.4L169.5 188.4L169.7 190.4L169.9 192.3L170.1 194.3L170.3 196.3L170.6 198.3L170.8 200.3L171.0 202.3L171.2 204.2L171.4 206.2L171.7 208.1L171.9 210.0L172.1 212.0L172.3 213.9L172.5 215.7L172.8 217.6L173.0 219.4L173.2 221.2L173.4 223.0L173.6 224.8L173.9 226.5L174.1 228.2L174.3 229.8L174.5 231.5L174.7 233.0L174.9 234.6L175.2 236.1L175.4 237.6L175.6 239.0L175.8 240.4L176.0 241.7L176.3 243.0L176.5 244.2L176.7 245.4L176.9 246.5L177.1 247.6L177.4 248.6L177.6 249.6L177.8 250.5L178.0 251.4L178.2 252.2L178.5 252.9L178.7 253.6L178.9 254.3L179.1 254.8L179.3 255.3L179.5 255.8L179.8 256.2L180.0 256.5L180.2 256.8L180.4 257.0L180.6 257.1L180.9 257.2L181.1 257.1L181.3 257.0L181.5 256.9L181.7 256.6L182.0 256.3L182.2 255.9L182.4 255.5L182.6 255.0L182.8 254.5L183.1 253.9L183.3 253.2L183.5 252.5L183.7 251.7L183.9 250.9L184.1 250.0L184.4 249.0L184.6 248.0L184.8 247.0L185.0 245.8L185.2 244.7L185.5 243.5L185.7 242.2L185.9 240.9L186.1 239.6L186.3 238.2L186.6 236.7L186.8 235.3L187.0 233.8L187.2 232.2L187.4 230.6L187.7 229.0L187.9 227.3L188.1 225.7L188.3 223.9L188.5 222.2L188.7 220.4L189.0 218.6L189.2 216.8L189.4 215.0L189.6 213.1L189.8 211.2L190.1 209.3L190.3 207.4L190.5 205.5L190.7 203.6L190.9 201.7L191.2 199.7L191.4 197.8L191.6 195.9L191.8 193.9L192.0 192.0L192.3 190.0L192.5 188.1L192.7 186.2L192.9 184.3L193.1 182.4L193.3 180.5L193.6 178.6L193.8 176.8L194.0 174.9L194.2 173.1L194.4 171.3L194.7 169.6L194.9 167.8L195.1 166.1L195.3 164.4L195.5 162.8L195.8 161.1L196.0 159.6L196.2 158.0L196.4 156.5L196.6 155.0L196.9 153.6L197.1 152.2L197.3 150.8L197.5 149.5L197.7 148.3L197.9 147.0L198.2 145.9L198.4 144.7L198.6 143.7L198.8 142.6L199.0 141.7L199.3 140.8L199.5 139.9L199.7 139.1L199.9 138.3L200.1 137.6L200.4 137.0L200.6 136.4L200.8 135.9L201.0 135.4L201.2 135.0L201.5 134.6L201.7 134.3L201.9 134.1L202.1 133.9L202.3 133.8L202.5 133.7L202.8 133.7L203.0 133.7L203.2 133.7L203.4 133.8L203.6 134.0L203.9 134.2L204.1 134.4L204.3 134.8L204.5 135.1L204.7 135.6L205.0 136.1L205.2 136.6L205.4 137.2L205.6 137.9L205.8 138.6L206.1 139.4L206.3 140.2L206.5 141.1L206.7 142.1L206.9 143.0L207.1 144.1L207.4 145.2L207.6 146.3L207.8 147.5L208.0 148.7L208.2 150.0L208.5 151.3L208.7 152.7L208.9 154.1L209.1 155.5L209.3 157.0L209.6 158.5L209.8 160.1L210.0 161.7L210.2 163.3L210.4 165.0L210.7 166.6L210.9 168.3L211.1 170.1L211.3 171.9L211.5 173.6L211.8 175.4L212.0 177.3L212.2 179.1L212.4 181.0L212.6 182.9L212.8 184.7L213.1 186.6L213.3 188.5L213.5 190.5L213.7 192.4L213.9 194.3L214.2 196.2L214.4 198.1L214.6 200.1L214.8 202.0L215.0 203.9L215.3 205.8L215.5 207.7L215.7 209.5L215.9 211.4L216.1 213.2L216.4 215.1L216.6 216.9L216.8 218.7L217.0 220.4L217.2 222.2L217.4 223.9L217.7 225.5L217.9 227.2L218.1 228.8L218.3 230.4L218.5 232.0L218.8 233.5L219.0 234.9L219.2 236.4L219.4 237.8L219.6 239.1L219.9 240.4L220.1 241.7L220.3 242.9L220.5 244.1L220.7 245.2L221.0 246.3L221.2 247.3L221.4 248.3L221.6 249.2L221.8 250.0L222.0 250.8L222.3 251.6L222.5 252.3L222.7 252.9L222.9 253.5L223.1 254.0L223.4 254.5L223.6 254.9L223.8 255.2L224.0 255.5L224.2 255.7L224.5 255.8L224.7 255.9L224.9 255.9L225.1 255.8L225.3 255.6L225.6 255.4L225.8 255.1L226.0 254.7L226.2 254.3L226.4 253.8L226.6 253.3L226.9 252.7L227.1 252.1L227.3 251.4L227.5 250.6L227.7 249.8L228.0 248.9L228.2 248.0L228.4 247.0L228.6 245.9L228.8 244.9L229.1 243.7L229.3 242.5L229.5 241.3L229.7 240.0L229.9 238.7L230.2 237.4L230.4 236.0L230.6 234.5L230.8 233.0L231.0 231.5L231.2 229.9L231.5 228.3L231.7 226.7L231.9 225.1L232.1 223.4L232.3 221.7L232.6 219.9L232.8 218.2L233.0 216.4L233.2 214.6L233.4 212.8L233.7 210.9L233.9 209.1L234.1 207.2L234.3 205.3L234.5 203.4L234.8 201.5L235.0 199.6L235.2 197.7L235.4 195.8L235.6 193.9L235.8 192.0L236.1 190.1L236.3 188.2L236.5 186.3L236.7 184.4L236.9 182.6L237.2 180.7L237.4 178.9L237.6 177.0L237.8 175.2L238.0 173.4L238.3 171.7L238.5 169.9L238.7 168.2L238.9 166.5L239.1 164.9L239.4 163.2L239.6 161.7L239.8 160.1L240.0 158.6L240.2 157.1L240.4 155.6L240.7 154.2L240.9 152.8L241.1 151.5L241.3 150.2L241.5 148.9L241.8 147.7L242.0 146.6L242.2 145.5L242.4 144.4L242.6 143.4L242.9 142.5L243.1 141.5L243.3 140.7L243.5 139.9L243.7 139.1L244.0 138.4L244.2 137.8L244.4 137.2L244.6 136.7L244.8 136.2L245.0 135.8L245.3 135.5L245.5 135.2L245.7 134.9L245.9 134.7L246.1 134.6L246.4 134.5L246.6 134.5L246.8 134.5L247.0 134.5L247.2 134.6L247.5 134.8L247.7 135.0L247.9 135.2L248.1 135.5L248.3 135.9L248.6 136.3L248.8 136.8L249.0 137.3L249.2 137.9L249.4 138.6L249.7 139.3L249.9 140.0L250.1 140.9L250.3 141.7L250.5 142.6L250.7 143.6L251.0 144.6L251.2 145.7L251.4 146.8L251.6 148.0L251.8 149.2L252.1 150.4L252.3 151.7L252.5 153.1L252.7 154.5L252.9 155.9L253.2 157.4L253.4 158.9L253.6 160.4L253.8 162.0L254.0 163.6L254.3 165.2L254.5 166.9L254.7 168.6L254.9 170.3L255.1 172.0L255.3 173.8L255.6 175.6L255.8 177.4L256.0 179.2L256.2 181.1L256.4 182.9L256.7 184.8L256.9 186.7L257.1 188.6L257.3 190.5L257.5 192.4L257.8 194.3L258.0 196.2L258.2 198.1L258.4 200.0L258.6 201.9L258.9 203.8L259.1 205.7L259.3 207.6L259.5 209.4L259.7 211.3L259.9 213.1L260.2 214.9L260.4 216.7L260.6 218.5L260.8 220.3L261.0 222.0L261.3 223.7L261.5 225.4L261.7 227.1L261.9 228.7L262.1 230.3L262.4 231.8L262.6 233.3L262.8 234.8L263.0 236.2L263.2 237.6L263.5 239.0L263.7 240.3L263.9 241.6L264.1 242.8L264.3 244.0L264.5 245.1L264.8 246.2L265.0 247.2L265.2 248.2L265.4 249.1L265.6 249.9L265.9 250.7L266.1 251.5L266.3 252.2L266.5 252.8L266.7 253.4L267.0 253.9L267.2 254.4L267.4 254.8L267.6 255.1L267.8 255.4L268.1 255.7L268.3 255.8L268.5 255.9L268.7 255.9L268.9 255.8L269.1 255.7L269.4 255.5L269.6 255.2L269.8 254.9L270.0 254.5L270.2 254.0L270.5 253.5L270.7 252.9L270.9 252.3L271.1 251.6L271.3 250.9L271.6 250.1L271.8 249.2L272.0 248.3L272.2 247.3L272.4 246.3L272.7 245.3L272.9 244.1L273.1 243.0L273.3 241.7L273.5 240.5L273.7 239.2L274.0 237.8L274.2 236.4L274.4 235.0L274.6 233.5L274.8 231.9L275.1 230.4L275.3 228.8L275.5 227.2L275.7 225.5L275.9 223.8L276.2 222.1L276.4 220.3L276.6 218.5L276.8 216.7L277.0 214.9L277.3 213.1L277.5 211.2L277.7 209.3L277.9 207.4L278.1 205.5L278.3 203.6L278.6 201.7L278.8 199.8L279.0 197.8L279.2 195.9L279.4 193.9L279.7 192.0L279.9 190.0L280.1 188.1L280.3 186.2L280.5 184.2L280.8 182.3L281.0 180.4L281.2 178.5L281.4 176.6L281.6 174.8L281.9 172.9L282.1 171.1L282.3 169.3L282.5 167.6L282.7 165.8L282.9 164.1L283.2 162.4L283.4 160.8L283.6 159.1L283.8 157.5L284.0 156.0L284.3 154.5L284.5 153.0L284.7 151.6L284.9 150.2L285.1 148.8L285.4 147.5L285.6 146.3L285.8 145.0L286.0 143.9L286.2 142.8L286.5 141.7L286.7 140.7L286.9 139.7L287.1 138.8L287.3 138.0L287.6 137.2L287.8 136.4L288.0 135.7L288.2 135.1L288.4 134.5L288.6 134.0L288.9 133.5L289.1 133.2L289.3 132.8L289.5 132.5L289.7 132.3L290.0 132.2L290.2 132.1L290.4 132.0L290.6 132.0L290.8 132.0L291.1 132.1L291.3 132.3L291.5 132.5L291.7 132.8L291.9 133.1L292.2 133.5L292.4 134.0L292.6 134.5L292.8 135.0L293.0 135.7L293.2 136.4L293.5 137.1L293.7 137.9L293.9 138.8L294.1 139.7L294.3 140.6L294.6 141.6L294.8 142.7L295.0 143.8L295.2 145.0L295.4 146.2L295.7 147.5L295.9 148.8L296.1 150.2L296.3 151.6L296.5 153.0L296.8 154.5L297.0 156.0L297.2 157.6L297.4 159.2L297.6 160.8L297.8 162.5L298.1 164.2L298.3 165.9L298.5 167.7L298.7 169.5L298.9 171.3L299.2 173.1L299.4 175.0L299.6 176.8L299.8 178.7L300.0 180.6L300.3 182.6L300.5 184.5L300.7 186.5L300.9 188.4L301.1 190.4L301.4 192.4L301.6 194.3L301.8 196.3L302.0 198.3L302.2 200.2L302.4 202.2L302.7 204.2L302.9 206.1L303.1 208.0L303.3 210.0L303.5 211.9L303.8 213.8L304.0 215.7L304.2 217.5L304.4 219.3L304.6 221.2L304.9 222.9L305.1 224.7L305.3 226.4L305.5 228.1L305.7 229.8L306.0 231.4L306.2 233.0L306.4 234.6L306.6 236.1L306.8 237.6L307.0 239.0L307.3 240.4L307.5 241.7L307.7 243.0L307.9 244.3L308.1 245.5L308.4 246.6L308.6 247.7L308.8 248.8L309.0 249.7L309.2 250.7L309.5 251.6L309.7 252.4L309.9 253.2L310.1 253.9L310.3 254.5L310.6 255.1L310.8 255.6L311.0 256.1L311.2 256.5L311.4 256.8L311.6 257.1L311.9 257.3L312.1 257.5L312.3 257.6L312.5 257.6L312.7 257.5L313.0 257.3L313.2 257.1L313.4 256.8L313.6 256.4L313.8 256.0L314.1 255.5L314.3 255.0L314.5 254.3L314.7 253.7L314.9 253.0L315.2 252.2L315.4 251.3L315.6 250.4L315.8 249.5L316.0 248.5L316.2 247.4L316.5 246.3L316.7 245.2L316.9 244.0L317.1 242.7L317.3 241.4L317.6 240.0L317.8 238.6L318.0 237.2L318.2 235.7L318.4 234.2L318.7 232.6L318.9 231.0L319.1 229.4L319.3 227.7L319.5 226.0L319.8 224.3L320.0 222.5L320.2 220.7L320.4 218.9L320.6 217.1L320.8 215.2L321.1 213.4L321.3 211.5L321.5 209.5L321.7 207.6L321.9 205.7L322.2 203.7L322.4 201.8L322.6 199.8L322.8 197.9L323.0 195.9L323.3 193.9L323.5 192.0L323.7 190.0L323.9 188.0L324.1 186.1L324.4 184.2L324.6 182.2L324.8 180.3L325.0 178.4L325.2 176.5L325.5 174.7L325.7 172.8L325.9 171.0L326.1 169.2L326.3 167.4L326.5 165.7L326.8 164.0L327.0 162.3L327.2 160.6L327.4 159.0L327.6 157.4L327.9 155.9L328.1 154.4L328.3 152.9L328.5 151.5L328.7 150.1L329.0 148.8L329.2 147.5L329.4 146.2L329.6 145.0L329.8 143.9L330.1 142.8L330.3 141.7L330.5 140.7L330.7 139.8L330.9 138.9L331.1 138.1L331.4 137.3L331.6 136.6L331.8 135.9L332.0 135.3L332.2 134.7L332.5 134.2L332.7 133.8L332.9 133.4L333.1 133.1L333.3 132.9L333.6 132.7L333.8 132.5L334.0 132.4L334.2 132.4L334.4 132.4L334.7 132.5L334.9 132.6L335.1 132.7L335.3 133.0L335.5 133.2L335.7 133.6L336.0 134.0L336.2 134.4L336.4 135.0L336.6 135.5L336.8 136.2L337.1 136.8L337.3 137.6L337.5 138.4L337.7 139.2L337.9 140.1L338.2 141.1L338.4 142.1L338.6 143.2L338.8 144.3L339.0 145.5L339.3 146.7L339.5 147.9L339.7 149.2L339.9 150.6L340.1 152.0L340.3 153.4L340.6 154.9L340.8 156.4L341.0 158.0L341.2 159.5L341.4 161.2L341.7 162.8L341.9 164.5L342.1 166.2L342.3 168.0L342.5 169.7L342.8 171.5L343.0 173.3L343.2 175.2L343.4 177.0L343.6 178.9L343.9 180.8L344.1 182.7L344.3 184.6L344.5 186.5L344.7 188.5L344.9 190.4L345.2 192.4L345.4 194.3L345.6 196.3L345.8 198.2L346.0 200.1L346.3 202.1L346.5 204.0L346.7 205.9L346.9 207.8L347.1 209.7L347.4 211.6L347.6 213.5L347.8 215.3L348.0 217.2L348.2 219.0L348.5 220.7L348.7 222.5L348.9 224.2L349.1 225.9L349.3 227.6L349.5 229.2L349.8 230.8L350.0 232.4L350.2 233.9L350.4 235.4L350.6 236.8L350.9 238.2L351.1 239.6L351.3 240.9L351.5 242.2L351.7 243.4L352.0 244.6L352.2 245.7L352.4 246.8L352.6 247.8L352.8 248.8L353.1 249.7L353.3 250.5L353.5 251.3L353.7 252.1L353.9 252.8L354.1 253.4L354.4 254.0L354.6 254.5L354.8 254.9L355.0 255.3L355.2 255.6L355.5 255.9L355.7 256.1L355.9 256.3L356.1 256.3L356.3 256.3L356.6 256.3L356.8 256.1L357.0 255.9L357.2 255.7L357.4 255.3L357.7 254.9L357.9 254.5L358.1 254.0L358.3 253.4L358.5 252.8L358.7 252.1L359.0 251.4L359.2 250.6L359.4 249.7L359.6 248.8L359.8 247.8L360.1 246.8L360.3 245.7L360.5 244.6L360.7 243.4L360.9 242.2L361.2 240.9L361.4 239.6L361.6 238.2L361.8 236.8L362.0 235.4L362.3 233.9L362.5 232.4L362.7 230.8L362.9 229.2L363.1 227.5L363.4 225.9L363.6 224.1L363.8 222.4L364.0 220.6L364.2 218.8L364.4 217.0L364.7 215.2L364.9 213.3L365.1 211.4L365.3 209.5L365.5 207.6L365.8 205.7L366.0 203.7L366.2 201.8L366.4 199.8L366.6 197.9L366.9 195.9L367.1 193.9L367.3 192.0L367.5 190.0L367.7 188.0L368.0 186.1L368.2 184.1L368.4 182.2L368.6 180.2L368.8 178.3L369.0 176.4L369.3 174.5L369.5 172.6L369.7 170.8L369.9 169.0L370.1 167.2L370.4 165.4L370.6 163.6L370.8 161.9L371.0 160.2L371.2 158.6L371.5 157.0L371.7 155.4L371.9 153.8L372.1 152.3L372.3 150.9L372.6 149.4L372.8 148.1L373.0 146.7L373.2 145.4L373.4 144.2L373.6 143.0L373.9 141.9L374.1 140.8L374.3 139.7L374.5 138.7L374.7 137.8L375.0 136.9L375.2 136.1L375.4 135.3L375.6 134.6L375.8 134.0L376.1 133.4L376.3 132.9L376.5 132.4L376.7 132.0L376.9 131.6L377.2 131.3L377.4 131.1L377.6 130.9L377.8 130.8L378.0 130.8L378.2 130.8L378.5 130.8L378.7 130.9L378.9 131.1L379.1 131.4L379.3 131.7L379.6 132.0L379.8 132.4L380.0 132.9L380.2 133.5L380.4 134.1L380.7 134.7L380.9 135.4L381.1 136.2L381.3 137.1L381.5 137.9L381.8 138.9L382.0 139.9L382.2 140.9L382.4 142.0L382.6 143.2L382.8 144.4L383.1 145.6L383.3 146.9L383.5 148.3L383.7 149.7L383.9 151.1L384.2 152.6L384.4 154.1L384.6 155.6L384.8 157.2L385.0 158.8L385.3 160.5L385.5 162.2L385.7 163.9L385.9 165.7L386.1 167.5L386.4 169.3L386.6 171.1L386.8 173.0L387.0 174.8L387.2 176.7L387.4 178.6L387.7 180.6L387.9 182.5L388.1 184.5L388.3 186.4L388.5 188.4L388.8 190.4L389.0 192.3L389.2 194.3L389.4 196.3L389.6 198.3L389.9 200.3L390.1 202.2L390.3 204.2L390.5 206.1L390.7 208.1L391.0 210.0L391.2 211.9L391.4 213.8L391.6 215.6L391.8 217.5L392.0 219.3L392.3 221.1L392.5 222.9L392.7 224.6L392.9 226.3L393.1 228.0L393.4 229.7L393.6 231.3L393.8 232.9L394.0 234.4L394.2 235.9L394.5 237.3L394.7 238.8L394.9 240.1L395.1 241.4L395.3 242.7L395.6 243.9L395.8 245.1L396.0 246.2L396.2 247.3L396.4 248.3L396.6 249.3L396.9 250.2L397.1 251.1L397.3 251.9L397.5 252.6L397.7 253.3L398.0 253.9L398.2 254.5L398.4 255.0L398.6 255.4L398.8 255.8L399.1 256.1L399.3 256.4L399.5 256.6L399.7 256.7L399.9 256.8L400.2 256.7L400.4 256.6L400.6 256.5L400.8 256.2L401.0 256.0L401.3 255.6L401.5 255.2L401.7 254.7L401.9 254.2L402.1 253.6L402.3 252.9L402.6 252.2L402.8 251.5L403.0 250.6L403.2 249.8L403.4 248.8L403.7 247.8L403.9 246.8L404.1 245.7L404.3 244.5L404.5 243.4L404.8 242.1L405.0 240.8L405.2 239.5L405.4 238.1L405.6 236.7L405.9 235.2L406.1 233.7L406.3 232.2L406.5 230.6L406.7 229.0L406.9 227.3L407.2 225.6L407.4 223.9L407.6 222.2L407.8 220.4L408.0 218.6L408.3 216.8L408.5 215.0L408.7 213.1L408.9 211.3L409.1 209.4L409.4 207.5L409.6 205.6L409.8 203.6L410.0 201.7L410.2 199.8L410.5 197.8L410.7 195.9L410.9 193.9L411.1 192.0L411.3 190.0L411.5 188.1L411.8 186.2L412.0 184.2L412.2 182.3L412.4 180.4L412.6 178.5L412.9 176.7L413.1 174.8L413.3 173.0L413.5 171.2L413.7 169.4L414.0 167.7L414.2 165.9L414.4 164.2L414.6 162.6L414.8 160.9L415.1 159.3L415.3 157.7L415.5 156.2L415.7 154.7L415.9 153.3L416.1 151.8L416.4 150.5L416.6 149.1L416.8 147.8L417.0 146.6L417.2 145.4L417.5 144.3L417.7 143.2L417.9 142.1L418.1 141.1L418.3 140.2L418.6 139.3L418.8 138.5L419.0 137.7L419.2 137.0L419.4 136.3L419.7 135.7L419.9 135.2L420.1 134.7L420.3 134.2L420.5 133.9L420.7 133.5L421.0 133.3L421.2 133.1L421.4 133.0L421.6 132.9L421.8 132.9L422.1 132.9L422.3 132.9L422.5 133.0L422.7 133.1L422.9 133.4L423.2 133.6L423.4 134.0L423.6 134.4L423.8 134.8L424.0 135.3L424.3 135.9L424.5 136.5L424.7 137.2L424.9 137.9L425.1 138.7L425.3 139.6L425.6 140.5L425.8 141.4L426.0 142.4L426.2 143.5L426.4 144.6L426.7 145.7L426.9 146.9L427.1 148.2L427.3 149.5L427.5 150.8L427.8 152.2L428.0 153.6L428.2 155.1L428.4 156.6L428.6 158.1L428.9 159.7L429.1 161.3L429.3 163.0L429.5 164.6L429.7 166.3L429.9 168.1L430.2 169.8L430.4 171.6L430.6 173.4L430.8 175.3L431.0 177.1L431.3 179.0L431.5 180.8L431.7 182.7L431.9 184.7L432.1 186.6L432.4 188.5L432.6 190.4L432.8 192.4L433.0 194.3L433.2 196.2L433.5 198.2L433.7 200.1L433.9 202.1L434.1 204.0L434.3 205.9L434.5 207.8L434.8 209.7L435.0 211.6L435.2 213.4L435.4 215.3L435.6 217.1L435.9 218.9L436.1 220.7L436.3 222.4L436.5 224.1L436.7 225.8L437.0 227.5L437.2 229.1L437.4 230.7L437.6 232.3L437.8 233.8L438.1 235.3L438.3 236.8L438.5 238.2L438.7 239.5L438.9 240.8L439.2 242.1L439.4 243.3L439.6 244.5L439.8 245.6L440.0 246.7L440.2 247.7L440.5 248.7L440.7 249.6L440.9 250.5L441.1 251.3L441.3 252.0L441.6 252.7L441.8 253.3L442.0 253.9L442.2 254.4L442.4 254.9L442.7 255.3L442.9 255.6L443.1 255.9L443.3 256.1L443.5 256.2L443.8 256.3L444.0 256.3L444.2 256.2L444.4 256.1L444.6 255.8L444.8 255.6L445.1 255.2L445.3 254.8L445.5 254.3L445.7 253.8L445.9 253.2L446.2 252.6L446.4 251.9L446.6 251.1L446.8 250.3L447.0 249.4L447.3 248.5L447.5 247.5L447.7 246.5L447.9 245.4L448.1 244.3L448.4 243.1L448.6 241.9L448.8 240.6L449.0 239.2L449.2 237.9L449.4 236.5L449.7 235.0L449.9 233.5L450.1 232.0L450.3 230.4L450.5 228.8L450.8 227.2L451.0 225.5L451.2 223.8L451.4 222.1L451.6 220.3L451.9 218.5L452.1 216.7L452.3 214.9L452.5 213.1L452.7 211.2L453.0 209.3L453.2 207.4L453.4 205.5L453.6 203.6L453.8 201.7L454.0 199.7L454.3 197.8L454.5 195.9L454.7 193.9L454.9 192.0L455.1 190.0L455.4 188.1L455.6 186.2L455.8 184.3L456.0 182.4L456.2 180.5L456.5 178.6L456.7 176.7L456.9 174.9L457.1 173.1L457.3 171.3L457.6 169.5L457.8 167.7L458.0 166.0L458.2 164.3L458.4 162.6L458.6 161.0L458.9 159.4L459.1 157.8L459.3 156.3L459.5 154.8L459.7 153.3L460.0 151.9L460.2 150.5L460.4 149.2L460.6 147.9L460.8 146.7L461.1 145.5L461.3 144.3L461.5 143.2L461.7 142.2L461.9 141.2L462.2 140.3L462.4 139.4L462.6 138.5L462.8 137.8L463.0 137.0L463.2 136.4L463.5 135.8L463.7 135.2L463.9 134.7L464.1 134.3L464.3 133.9L464.6 133.6L464.8 133.3L465.0 133.1L465.2 133.0L465.4 132.9L465.7 132.9L465.9 132.9L466.1 132.9L466.3 133.0L466.5 133.1L466.8 133.3L467.0 133.6L467.2 133.9L467.4 134.3L467.6 134.8L467.8 135.3L468.1 135.8L468.3 136.5L468.5 137.1L468.7 137.9L468.9 138.7L469.2 139.5L469.4 140.4L469.6 141.3L469.8 142.3L470.0 143.4L470.3 144.5L470.5 145.7L470.7 146.9L470.9 148.1L471.1 149.4L471.4 150.7L471.6 152.1L471.8 153.5L472.0 155.0L472.2 156.5L472.4 158.0L472.7 159.6L472.9 161.2L473.1 162.9L473.3 164.6L473.5 166.3L473.8 168.0L474.0 169.8L474.2 171.6L474.4 173.4L474.6 175.2L474.9 177.1L475.1 178.9L475.3 180.8L475.5 182.7L475.7 184.6L476.0 186.5L476.2 188.5L476.4 190.4L476.6 192.4L476.8 194.3L477.1 196.3L477.3 198.2L477.5 200.1L477.7 202.1L477.9 204.0L478.1 205.9L478.4 207.9L478.6 209.8L478.8 211.6L479.0 213.5L479.2 215.4L479.5 217.2L479.7 219.0L479.9 220.8L480.1 222.5L480.3 224.3L480.6 226.0L480.8 227.7L481.0 229.3L481.2 230.9L481.4 232.5L481.7 234.0L481.9 235.5L482.1 237.0L482.3 238.4L482.5 239.8L482.7 241.1L483.0 242.4L483.2 243.6L483.4 244.8L483.6 245.9L483.8 247.0L484.1 248.0L484.3 249.0L484.5 249.9L484.7 250.8L484.9 251.6L485.2 252.4L485.4 253.1L485.6 253.7L485.8 254.3L486.0 254.8L486.3 255.3L486.5 255.7L486.7 256.0L486.9 256.3L487.1 256.5L487.3 256.7L487.6 256.7L487.8 256.7L488.0 256.6L488.2 256.5L488.4 256.2L488.7 255.9L488.9 255.6L489.1 255.2L489.3 254.7L489.5 254.1L489.8 253.6L490.0 252.9L490.2 252.2L490.4 251.4L490.6 250.6L490.9 249.7L491.1 248.8L491.3 247.8L491.5 246.7L491.7 245.6L491.9 244.5L492.2 243.3L492.4 242.0L492.6 240.7L492.8 239.4L493.0 238.0L493.3 236.6L493.5 235.1L493.7 233.6L493.9 232.1L494.1 230.5L494.4 228.9L494.6 227.3L494.8 225.6L495.0 223.9L495.2 222.1L495.5 220.4L495.7 218.6L495.9 216.8L496.1 214.9L496.3 213.1L496.5 211.2L496.8 209.3L497.0 207.4L497.2 205.5L497.4 203.6L497.6 201.7L497.9 199.7L498.1 197.8L498.3 195.9L498.5 193.9L498.7 192.0L499.0 190.0L499.2 188.1L499.4 186.2L499.6 184.3L499.8 182.4L500.1 180.5L500.3 178.6L500.5 176.7L500.7 174.9L500.9 173.1L501.1 171.3L501.4 169.5L501.6 167.8L501.8 166.0L502.0 164.4L502.2 162.7L502.5 161.1L502.7 159.5L502.9 157.9L503.1 156.4L503.3 154.9L503.6 153.4L503.8 152.0L504.0 150.7L504.2 149.4L504.4 148.1L504.7 146.9L504.9 145.7L505.1 144.5L505.3 143.5L505.5 142.4L505.7 141.4L506.0 140.5L506.2 139.6L506.4 138.8L506.6 138.0L506.8 137.3L507.1 136.7L507.3 136.1L507.5 135.5L507.7 135.0L507.9 134.6L508.2 134.2L508.4 133.9L508.6 133.7L508.8 133.5L509.0 133.4L509.3 133.3L509.5 133.3L509.7 133.2L509.9 133.2L510.1 133.2L510.3 133.3L510.6 133.4L510.8 133.6L511.0 133.9L511.2 134.2L511.4 134.6L511.7 135.0L511.9 135.5L512.1 136.1L512.3 136.7L512.5 137.4L512.8 138.1L513.0 138.9L513.2 139.7L513.4 140.6L513.6 141.6L513.9 142.6L514.1 143.7L514.3 144.8L514.5 146.0L514.7 147.2L515.0 148.4L515.2 149.8L515.4 151.1L515.6 152.5L515.8 154.0L516.0 155.5L516.3 157.0L516.5 158.6L516.7 160.3L516.9 161.9L517.1 163.6L517.4 165.3L517.6 167.1L517.8 168.9L518.0 170.7L518.2 172.6L518.5 174.5L518.7 176.4L518.9 178.3L519.1 180.3L519.3 182.2L519.6 184.2L519.8 186.2L520.0 188.3L520.2 190.3L520.4 192.3L520.6 194.4L520.9 196.4L521.1 198.5L521.3 200.5L521.5 202.6L521.7 204.6L522.0 206.7L522.2 208.7L522.4 210.8L522.6 212.8L522.8 214.8L523.1 216.8L523.3 218.7L523.5 220.7L523.7 222.6L523.9 224.5L524.2 226.4L524.4 228.3L524.6 230.1L524.8 231.9L525.0 233.7L525.2 235.4L525.5 237.1L525.7 238.8L525.9 240.4L526.1 242.0L526.3 243.5L526.6 245.0L526.8 246.4L527.0 247.8L527.2 249.1L527.4 250.4L527.7 251.7L527.9 252.8L528.1 254.0L528.3 255.0L528.5 256.0L528.8 257.0L529.0 257.9L529.2 258.7L529.4 259.5L529.6 260.2L529.8 260.8L530.1 261.4L530.3 261.9L530.5 262.3L530.7 262.7L530.9 263.0L531.2 263.3L531.6 263.4L532.2 262.8L532.9 261.0L533.5 258.3L534.2 254.7L534.8 250.5L535.4 245.8L536.1 240.7L536.7 235.5L537.4 230.2L538.0 225.0L538.4 222.2L538.7 219.2L539.0 216.0L539.4 212.6L539.8 208.9L540.1 204.9L540.5 200.6L540.8 195.8L541.1 190.7L541.5 185.0L541.8 180.1L542.0 174.5L542.3 168.4L542.6 161.9L542.9 155.0L543.1 148.0L543.4 140.9L543.7 133.9L543.9 126.9L544.2 120.3L544.5 133.9L544.8 147.5L545.1 161.1L545.4 174.7L545.7 188.2L546.0 201.8L546.3 215.4L546.6 229.0L546.9 242.6L547.2 256.2L548.2 244.6L549.2 231.5L550.1 217.5L551.1 203.4L552.1 189.6L553.1 177.0L554.1 166.0L555.0 157.4L556.0 151.7L557.0 149.7L558.8 152.5L560.6 160.1L562.3 171.4L564.1 185.0L565.9 199.8L567.7 214.7L569.5 228.3L571.2 239.6L573.0 247.2L574.8 250.0L575.7 249.4L576.6 247.7L577.4 245.1L578.3 241.9L579.2 238.1L580.1 234.0L581.0 229.7L581.8 225.6L582.7 221.7L583.6 218.2L584.2 233.1L584.8 248.1L585.3 263.0L585.9 277.9L586.5 292.8L587.1 307.8L587.7 322.7L588.2 337.6L588.8 352.6L589.4 367.5L590.6 346.9L591.9 323.6L593.1 298.7L594.3 273.6L595.5 249.1L596.8 226.6L598.0 207.1L599.2 191.7L600.5 181.7L601.7 178.1L603.3 179.6L604.8 183.9L606.4 190.4L607.9 198.6L609.5 208.3L611.1 218.7L612.6 229.6L614.2 240.4L615.7 250.7L617.3 260.0L617.8 262.3L618.2 264.2L618.6 265.9L619.1 267.7L619.5 269.7L620.0 272.1L620.4 275.0L620.9 278.8L621.3 283.5L621.8 289.3L622.0 293.3L622.3 298.4L622.5 304.6L622.7 311.5L623.0 319.0L623.2 326.8L623.4 334.8L623.6 342.8L623.9 350.5L624.1 357.7L624.2 360.1L624.3 362.6L624.3 365.0L624.4 367.5L624.5 370.0L624.6 372.5L624.7 375.0L624.7 377.5L624.8 380.0L624.9 382.5L625.1 378.6L625.4 374.8L625.6 370.9L625.9 367.0L626.1 363.1L626.3 359.3L626.6 355.4L626.8 351.5L627.1 347.7L627.3 343.8L627.5 345.1L627.8 346.4L628.0 347.7L628.2 349.0L628.5 350.2L628.7 351.5L628.9 352.8L629.1 354.1L629.4 355.4L629.6 356.7L630.1 346.7L630.6 336.3L631.1 325.5L631.6 314.7L632.0 304.0L632.5 293.7L633.0 283.9L633.5 274.9L634.0 266.9L634.5 260.0L635.6 246.2L636.6 232.2L637.7 218.3L638.8 205.0L639.9 192.7L640.9 181.7L642.0 172.4L643.1 165.3L644.1 160.8L645.2 159.2L646.3 160.8L647.4 165.3L648.6 172.4L649.7 181.5L650.8 192.5L651.9 204.8L653.0 218.1L654.2 232.0L655.3 246.1L656.4 260.0L656.8 265.0L657.1 271.1L657.5 278.1L657.8 286.0L658.2 294.4L658.6 303.3L658.9 312.4L659.3 321.7L659.6 331.0L660.0 340.0L660.1 343.9L660.3 348.1L660.5 352.5L660.6 357.1L660.8 361.9L660.9 366.7L661.0 371.6L661.2 376.5L661.4 381.3L661.5 386.0L661.8 377.6L662.1 369.2L662.4 360.8L662.7 352.4L663.0 344.0L663.3 335.6L663.6 327.2L663.9 318.8L664.2 310.4L664.5 302.0L664.6 309.4L664.7 316.7L664.9 324.1L665.0 331.5L665.1 338.9L665.2 346.2L665.3 353.6L665.5 361.0L665.6 368.3L665.7 375.7L666.3 363.8L666.9 351.4L667.5 338.8L668.1 326.0L668.7 313.4L669.2 301.2L669.8 289.5L670.4 278.6L671.0 268.7L671.6 260.0L672.8 243.6L673.9 226.7L675.1 209.8L676.3 193.5L677.5 178.1L678.6 164.4L679.8 152.8L681.0 143.9L682.1 138.1L683.3 136.1L683.5 136.7L683.7 138.5L683.9 141.3L684.1 145.1L684.3 149.6L684.5 154.8L684.7 160.6L684.9 166.8L685.1 173.3L685.3 180.0L685.5 187.9L685.7 196.6L686.0 205.9L686.2 215.8L686.4 226.0L686.6 236.5L686.8 247.1L687.1 257.6L687.3 268.0L687.5 278.0L687.8 259.0L688.1 240.0L688.5 221.0L688.8 202.0L689.1 183.0L689.5 164.0L689.8 145.0L690.1 126.0L690.4 107.0L690.8 88.0L691.0 102.5L691.3 116.9L691.6 131.4L691.9 145.9L692.2 160.3L692.5 174.8L692.8 189.3L693.1 203.8L693.4 218.2L693.7 232.7L693.9 233.3L694.2 233.9L694.4 234.4L694.6 235.0L694.9 235.6L695.1 236.2L695.3 236.8L695.5 237.4L695.8 238.0L696.0 238.6L696.9 241.3L697.8 244.4L698.7 247.7L699.6 251.1L700.5 254.4L701.3 257.4L702.2 260.1L703.1 262.2L704.0 263.5L704.9 264.0L706.8 261.0L708.7 252.7L710.6 240.6L712.5 225.8L714.5 209.8L716.4 193.7L718.3 178.9L720.2 166.8L722.1 158.5L724.0 155.5L724.2 156.7L724.5 159.9L724.7 165.0L724.9 171.3L725.1 178.7L725.4 186.6L725.6 194.9L725.8 203.0L726.1 210.6L726.3 217.3L726.5 198.5L726.6 179.8L726.8 161.1L726.9 142.3L727.1 123.6L727.3 104.8L727.4 86.1L727.6 67.3L727.7 48.5L727.9 29.8L728.2 47.3L728.5 64.8L728.7 82.2L729.0 99.7L729.3 117.2L729.6 134.7L729.9 152.2L730.1 169.6L730.4 187.1L730.7 204.6L731.2 202.6L731.6 200.3L732.1 197.8L732.5 195.3L733.0 192.9L733.4 190.7L733.9 188.8L734.3 187.2L734.8 186.3L735.2 185.9L736.0 186.6L736.8 188.6L737.5 191.6L738.3 195.5L739.1 200.1L739.9 205.0L740.7 210.2L741.4 215.4L742.2 220.4L743.0 225.0L743.6 227.9L744.2 230.2L744.8 232.2L745.4 234.2L746.0 236.5L746.6 239.3L747.2 242.9L747.8 247.8L748.4 254.0L749.0 262.0L749.2 266.1L749.4 272.0L749.6 279.4L749.8 287.9L750.0 297.3L750.3 307.2L750.5 317.3L750.7 327.3L750.9 336.9L751.1 345.7L751.4 334.0L751.6 322.3L751.9 310.6L752.1 298.9L752.4 287.3L752.7 275.6L752.9 263.9L753.2 252.2L753.4 240.5L753.7 228.8L753.9 236.3L754.2 243.8L754.4 251.4L754.6 258.9L754.9 266.4L755.1 273.9L755.3 281.4L755.5 289.0L755.8 296.5L756.0 304.0L756.5 297.5L756.9 290.8L757.4 283.9L757.8 277.1L758.2 270.3L758.7 263.6L759.1 257.2L759.6 251.0L760.0 245.3L760.5 240.0L761.3 230.3L762.1 220.0L763.0 209.5L763.8 199.1L764.6 189.2L765.5 180.3L766.3 172.6L767.1 166.7L767.9 162.9L768.8 161.5L768.9 162.7L769.1 166.1L769.3 171.2L769.5 177.7L769.7 185.3L769.9 193.5L770.1 201.9L770.3 210.2L770.5 218.0L770.7 224.9L770.9 213.0L771.1 201.1L771.3 189.2L771.5 177.3L771.7 165.5L771.9 153.6L772.1 141.7L772.3 129.8L772.5 117.9L772.7 106.0L773.0 119.1L773.2 132.1L773.5 145.2L773.7 158.2L774.0 171.3L774.2 184.4L774.5 197.4L774.7 210.5L775.0 223.5L775.2 236.6L775.7 234.0L776.2 231.2L776.7 228.1L777.2 225.0L777.7 222.0L778.1 219.2L778.6 216.8L779.1 214.9L779.6 213.6L780.1 213.2L780.7 213.7L781.3 215.1L781.9 217.3L782.5 220.1L783.0 223.3L783.6 226.7L784.2 230.2L784.8 233.6L785.4 236.8L786.0 239.5L786.6 241.9L787.2 244.4L787.7 246.8L788.3 249.2L788.9 251.5L789.5 253.8L790.1 256.0L790.6 258.1L791.2 260.1L791.8 262.0L792.1 262.7L792.4 263.2L792.7 263.5L793.0 263.7L793.2 263.8L793.5 264.0L793.8 264.2L794.1 264.7L794.4 265.4L794.7 266.4L794.9 267.5L795.2 268.9L795.4 270.6L795.7 272.3L795.9 274.2L796.1 276.2L796.4 278.2L796.6 280.2L796.9 282.2L797.1 284.0L797.6 280.8L798.0 277.8L798.5 274.8L798.9 271.9L799.4 268.9L799.8 265.8L800.2 262.6L800.7 259.2L801.1 255.6L801.6 251.7L802.0 248.0L802.4 243.9L802.8 239.6L803.2 235.1L803.5 230.5L803.9 225.8L804.3 221.1L804.7 216.6L805.1 212.2L805.5 208.0L805.7 206.1L805.9 204.3L806.1 202.6L806.3 201.0L806.5 199.4L806.6 197.9L806.8 196.4L807.0 194.9L807.2 193.3L807.4 191.7L807.5 198.2L807.6 204.8L807.8 211.4L807.9 217.9L808.0 224.4L808.1 231.0L808.2 237.5L808.4 244.1L808.5 250.6L808.6 257.2L808.8 242.7L809.0 228.3L809.2 213.8L809.4 199.4L809.7 184.9L809.9 170.5L810.1 156.1L810.3 141.6L810.5 127.1L810.7 112.7L811.0 124.0L811.2 135.3L811.5 146.7L811.7 158.0L812.0 169.3L812.3 180.6L812.5 191.9L812.8 203.3L813.0 214.6L813.3 225.9L814.0 220.2L814.7 213.7L815.3 206.8L816.0 199.8L816.7 193.0L817.4 186.7L818.1 181.3L818.7 177.0L819.4 174.2L820.1 173.2L821.0 174.3L821.9 177.4L822.8 182.1L823.7 188.3L824.5 195.6L825.4 203.8L826.3 212.5L827.2 221.4L828.1 230.4L829.0 239.0L829.2 241.5L829.5 244.6L829.7 248.2L829.9 252.2L830.1 256.5L830.4 261.0L830.6 265.5L830.8 270.0L831.1 274.4L831.3 278.5L831.5 269.7L831.7 261.0L831.9 252.2L832.1 243.4L832.3 234.7L832.6 225.9L832.8 217.1L833.0 208.3L833.2 199.6L833.4 190.8L833.6 198.1L833.8 205.7L834.0 213.4L834.2 221.2L834.5 228.9L834.7 236.4L834.9 243.6L835.1 250.3L835.3 256.5L835.5 262.0L835.7 266.2L835.9 270.1L836.0 273.6L836.2 276.8L836.4 279.5L836.6 281.8L836.8 283.6L836.9 284.9L837.1 285.7L837.3 286.0L837.8 285.6L838.4 284.6L838.9 282.9L839.4 280.9L840.0 278.4L840.5 275.8L841.0 273.1L841.5 270.4L842.1 267.8L842.6 265.4L843.2 263.1L843.8 260.8L844.3 258.6L844.9 256.3L845.5 254.0L846.1 251.6L846.7 249.0L847.2 246.3L847.8 243.3L848.4 240.0L848.6 238.6L848.8 237.0L849.0 235.0L849.2 232.9L849.4 230.6L849.6 228.3L849.8 225.9L850.0 223.5L850.2 221.2L850.4 219.0L850.4 223.3L850.5 227.7L850.5 232.0L850.6 236.4L850.6 240.7L850.6 245.0L850.7 249.4L850.7 253.7L850.8 258.1L850.8 262.4L851.0 251.8L851.1 241.3L851.3 230.7L851.4 220.2L851.6 209.6L851.8 199.0L851.9 188.5L852.1 177.9L852.2 167.4L852.4 156.8L852.6 168.5L852.9 180.1L853.1 191.8L853.4 203.4L853.6 215.1L853.8 226.7L854.1 238.3L854.3 250.0L854.6 261.6L854.8 273.3L855.7 262.0L856.6 249.2L857.5 235.6L858.4 221.8L859.2 208.4L860.1 196.0L861.0 185.3L861.9 176.9L862.8 171.4L863.7 169.4L864.0 169.4L864.4 169.5L864.7 169.8L865.0 170.3L865.4 171.1L865.7 172.3L866.0 173.9L866.3 176.0L866.7 178.7L867.0 182.0L867.3 185.5L867.6 189.6L867.9 194.1L868.2 199.1L868.5 204.7L868.7 210.6L869.0 217.0L869.3 223.8L869.6 231.0L869.9 238.6L870.0 240.6L870.0 243.3L870.1 246.6L870.1 250.4L870.2 254.4L870.3 258.7L870.3 263.1L870.4 267.5L870.4 271.6L870.5 275.5L870.6 268.3L870.8 261.0L870.9 253.8L871.1 246.6L871.2 239.3L871.3 232.1L871.5 224.9L871.6 217.7L871.8 210.4L871.9 203.2L872.1 210.2L872.2 217.6L872.4 225.2L872.5 232.9L872.7 240.5L872.9 247.7L873.0 254.5L873.2 260.6L873.3 265.8L873.5 270.0L873.7 274.7L874.0 278.7L874.2 282.0L874.4 284.6L874.6 286.6L874.9 288.2L875.1 289.2L875.3 289.9L875.6 290.3L875.8 290.4L876.4 290.2L877.0 289.6L877.5 288.6L878.1 287.3L878.7 285.9L879.3 284.2L879.9 282.4L880.4 280.6L881.0 278.8L881.6 277.0L882.2 275.3L882.8 273.8L883.4 272.3L884.0 270.8L884.5 269.1L885.1 267.2L885.7 265.0L886.3 262.4L886.9 259.3L887.5 255.6L888.1 251.2L888.7 246.2L889.3 240.7L889.9 234.8L890.5 228.5L891.0 222.1L891.6 215.6L892.2 209.2L892.8 202.8L893.4 196.8L893.6 203.1L893.9 209.4L894.1 215.7L894.4 222.0L894.6 228.3L894.9 234.6L895.1 240.9L895.4 247.2L895.6 253.5L895.9 259.8L896.0 254.5L896.2 249.2L896.3 243.9L896.4 238.6L896.5 233.4L896.7 228.1L896.8 222.8L896.9 217.5L897.1 212.2L897.2 206.9L897.3 207.5L897.4 208.1L897.5 208.6L897.6 209.2L897.7 209.8L897.8 210.4L897.9 211.0L898.0 211.5L898.1 212.1L898.2 212.7L898.6 209.6L899.0 206.5L899.4 203.3L899.8 200.2L900.2 197.1L900.5 194.0L900.9 190.9L901.3 187.7L901.7 184.6L902.1 181.5L902.2 184.2L902.2 187.0L902.3 189.7L902.3 192.4L902.4 195.2L902.5 197.9L902.5 200.6L902.6 203.3L902.6 206.1L902.7 208.8L902.8 204.7L902.9 200.5L903.0 196.3L903.1 192.2L903.2 188.1L903.3 183.9L903.4 179.8L903.5 175.6L903.6 171.5L903.7 167.3L904.0 172.7L904.4 178.1L904.7 183.6L905.0 189.0L905.4 194.4L905.7 199.8L906.0 205.2L906.3 210.7L906.7 216.1L907.0 221.5L907.4 219.7L907.8 217.6L908.2 215.5L908.6 213.3L909.0 211.1L909.3 209.1L909.7 207.4L910.1 206.1L910.5 205.2L910.9 204.9L911.4 205.1L911.9 205.5L912.4 206.3L912.9 207.4L913.3 208.7L913.8 210.3L914.3 212.1L914.8 214.1L915.3 216.3L915.8 218.6L916.1 220.3L916.4 222.3L916.7 224.7L917.0 227.2L917.3 230.0L917.6 232.8L917.9 235.7L918.2 238.6L918.5 241.3L918.8 244.0L919.1 246.3L919.4 248.2L919.7 250.0L920.0 251.7L920.2 253.5L920.5 255.6L920.8 258.0L921.1 261.0L921.4 264.6L921.7 269.0L922.0 274.5L922.3 280.8L922.6 287.7L922.9 295.2L923.2 303.0L923.5 311.1L923.8 319.3L924.1 327.4L924.4 335.4L924.7 343.0L924.8 335.5L925.0 328.0L925.1 320.5L925.2 313.0L925.4 305.5L925.5 298.0L925.6 290.5L925.7 283.0L925.9 275.5L926.0 268.0L926.4 270.6L926.8 273.1L927.2 275.7L927.6 278.2L928.0 280.8L928.3 283.3L928.7 285.9L929.1 288.4L929.5 290.9L929.9 293.5L930.2 289.7L930.6 285.8L930.9 281.9L931.3 277.9L931.6 274.0L932.0 270.2L932.4 266.3L932.7 262.6L933.0 258.9L933.4 255.4L933.7 252.7L934.0 250.1L934.3 247.8L934.6 245.5L934.8 243.2L935.1 240.9L935.4 238.5L935.7 236.0L936.0 233.1L936.3 230.0L936.6 226.4L936.9 222.4L937.2 218.1L937.5 213.5L937.8 208.9L938.0 204.4L938.3 200.0L938.6 196.0L938.9 192.4L939.2 189.3L939.5 186.5L939.9 184.1L940.2 182.0L940.5 180.3L940.9 178.8L941.2 177.5L941.5 176.1L941.8 174.8L942.2 173.3L942.5 171.7L942.6 175.2L942.7 178.7L942.9 182.3L943.0 185.8L943.1 189.3L943.2 192.8L943.3 196.3L943.5 199.9L943.6 203.4L943.7 206.9L944.0 197.3L944.3 187.8L944.5 178.2L944.8 168.6L945.1 159.1L945.4 149.5L945.7 139.9L945.9 130.3L946.2 120.8L946.5 111.2L946.7 120.9L946.9 130.5L947.1 140.2L947.3 149.9L947.5 159.5L947.8 169.2L948.0 178.9L948.2 188.6L948.4 198.2L948.6 207.9L949.0 205.2L949.4 202.2L949.8 199.0L950.2 195.7L950.5 192.6L950.9 189.7L951.3 187.1L951.7 185.2L952.1 183.9L952.5 183.4L953.1 183.6L953.8 184.1L954.4 184.9L955.0 186.2L955.6 187.8L956.3 189.9L956.9 192.4L957.5 195.4L958.2 199.0L958.8 203.0L959.1 205.1L959.3 207.6L959.6 210.7L959.9 214.2L960.1 218.1L960.4 222.6L960.7 227.5L961.0 232.9L961.2 238.7L961.5 245.0L961.7 249.8L961.9 255.4L962.0 261.7L962.2 268.4L962.4 275.6L962.6 283.0L962.8 290.4L962.9 297.9L963.1 305.1L963.3 312.0L963.4 308.0L963.6 304.0L963.7 300.0L963.8 296.0L964.0 292.0L964.1 288.0L964.2 284.0L964.3 280.0L964.5 276.0L964.6 272.0L964.8 275.8L965.1 279.6L965.3 283.4L965.6 287.2L965.8 291.0L966.0 294.8L966.3 298.6L966.5 302.4L966.8 306.2L967.0 310.0L967.2 309.4L967.5 308.9L967.8 308.5L968.0 308.0L968.2 307.6L968.5 307.1L968.8 306.5L969.0 305.8L969.2 305.0L969.5 304.0L970.0 301.9L970.5 299.6L971.0 297.2L971.5 294.7L972.0 292.1L972.4 289.5L972.9 286.8L973.4 284.2L973.9 281.5L974.4 278.8L974.8 276.6L975.2 274.3L975.6 272.0L976.0 269.6L976.3 267.2L976.7 264.8L977.1 262.5L977.5 260.3L977.9 258.3L978.3 256.4L978.4 255.9L978.6 255.7L978.7 255.5L978.9 255.5L979.0 255.5L979.1 255.4L979.3 255.4L979.4 255.2L979.6 255.0L979.7 254.5L979.8 253.7L979.8 252.6L979.9 251.2L980.0 249.6L980.0 247.8L980.1 246.0L980.2 244.3L980.3 242.6L980.3 241.2L980.4 240.0L980.8 234.4L981.2 228.8L981.5 223.1L981.9 217.6L982.3 212.1L982.7 206.8L983.1 201.9L983.4 197.2L983.8 193.0L984.2 189.3L984.6 186.0L985.0 183.3L985.4 181.1L985.8 179.2L986.2 177.5L986.5 176.1L986.9 174.6L987.3 173.2L987.7 171.6L988.1 169.8L988.2 171.8L988.4 173.9L988.6 176.0L988.7 178.0L988.9 180.1L989.0 182.1L989.1 184.2L989.3 186.2L989.5 188.2L989.6 190.3L989.7 180.2L989.9 170.2L990.0 160.2L990.2 150.1L990.3 140.1L990.4 130.0L990.6 120.0L990.7 109.9L990.9 99.8L991.0 89.8" stroke="#00ff00" stroke-width="1.7" stroke-linejoin="miter"/>
</g>
<g><text transform="translate(114.7 479.0) scale(1 1.110)" text-anchor="middle">300</text><text transform="translate(333.8 479.0) scale(1 1.110)" text-anchor="middle">350</text><text transform="translate(552.9 479.0) scale(1 1.110)" text-anchor="middle">400</text><text transform="translate(771.9 479.0) scale(1 1.110)" text-anchor="middle">450</text><text transform="translate(991.0 479.0) scale(1 1.110)" text-anchor="middle">500</text></g>
<g><text transform="translate(107.0 36.1) scale(1 1.110)" text-anchor="end">40</text><text transform="translate(107.0 119.8) scale(1 1.110)" text-anchor="end">20</text><text transform="translate(107.0 203.5) scale(1 1.110)" text-anchor="end">0</text><text transform="translate(107.0 287.3) scale(1 1.110)" text-anchor="end">−20</text><text transform="translate(107.0 371.0) scale(1 1.110)" text-anchor="end">−40</text><text transform="translate(107.0 454.7) scale(1 1.110)" text-anchor="end">−60</text></g>
<text transform="translate(552.5 512.7) scale(1 1.110)" text-anchor="middle">Time (s)</text>
<text transform="translate(42.0 235.6) rotate(-90) scale(1.075 1)" text-anchor="middle">Heading (°)</text>
<rect x="145.6" y="282.9" width="336.6" height="129.2" fill="#fff" stroke="#000" stroke-width="1.55"/>
<line x1="161.6" y1="307.8" x2="243.5" y2="307.8" stroke="#0000ff" stroke-width="5.6"/>
<line x1="161.6" y1="347.8" x2="243.5" y2="347.8" stroke="#ff0000" stroke-width="5.5" stroke-dasharray="16.2 16.1"/>
<line x1="161.6" y1="387.4" x2="243.5" y2="387.4" stroke="#00ff00" stroke-width="1.7"/>
<text transform="translate(251.5 317.7) scale(1 1.110)" text-anchor="start">Output of AHRS1</text>
<text transform="translate(251.5 357.7) scale(1 1.110)" text-anchor="start">Output of turntable</text>
<text transform="translate(251.5 397.9) scale(1 1.110)" text-anchor="start">Output of AHRS2</text>
</svg>
</body></html>
